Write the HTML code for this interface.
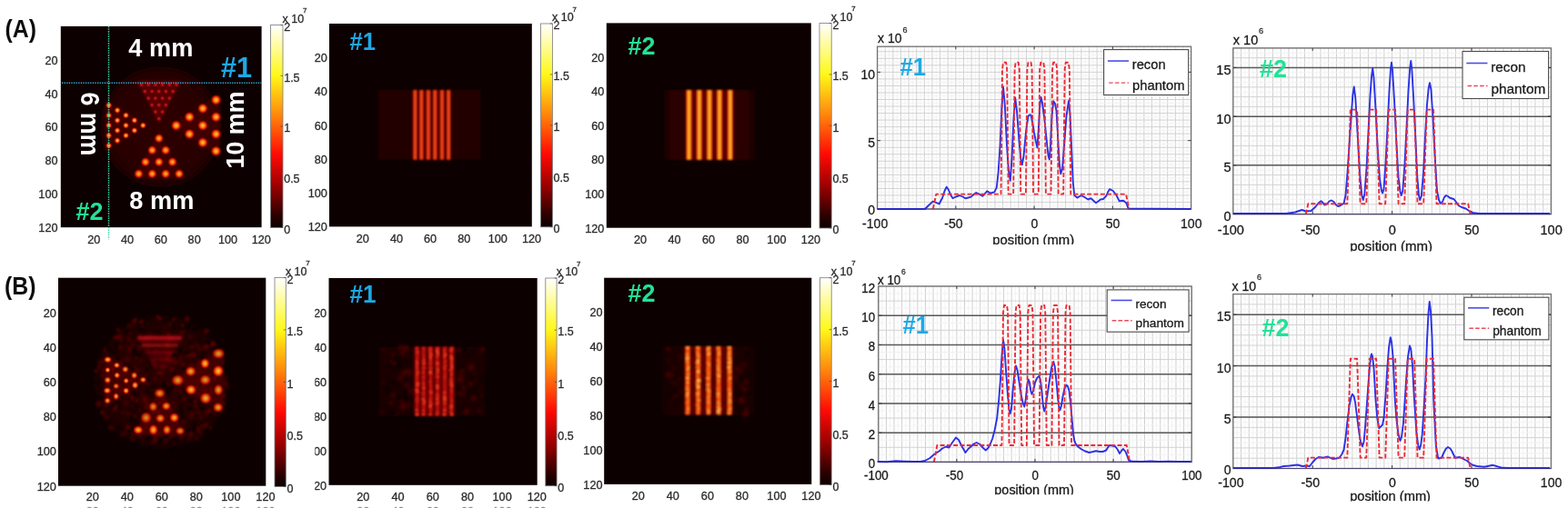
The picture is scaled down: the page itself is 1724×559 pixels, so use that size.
<!DOCTYPE html>
<html lang="en"><head><meta charset="utf-8"><title>Figure</title>
<style>
html,body{margin:0;padding:0;background:#ffffff;overflow:hidden}
svg{display:block;font-family:'Liberation Sans', sans-serif}
</style></head><body>
<svg width="1724" height="559" viewBox="0 0 1724 559">
<defs>
<linearGradient id="hot" x1="0" y1="1" x2="0" y2="0">
<stop offset="0" stop-color="#0b0000"/><stop offset="0.06" stop-color="#2c0000"/><stop offset="0.2" stop-color="#980000"/><stop offset="0.36" stop-color="#ff0a04"/><stop offset="0.56" stop-color="#ff8a0c"/><stop offset="0.75" stop-color="#fff818"/><stop offset="1" stop-color="#ffffff"/></linearGradient>
<radialGradient id="sp10"><stop offset="0" stop-color="#ffc43c" stop-opacity="1"/><stop offset="0.2" stop-color="#ffa624" stop-opacity="1"/><stop offset="0.42" stop-color="#fa5a0a" stop-opacity="1"/><stop offset="0.62" stop-color="#cc1c00" stop-opacity="0.95"/><stop offset="0.82" stop-color="#6c0000" stop-opacity="0.6"/><stop offset="1" stop-color="#300000" stop-opacity="0"/></radialGradient>
<radialGradient id="sp8"><stop offset="0" stop-color="#ffb836" stop-opacity="1"/><stop offset="0.2" stop-color="#ff941c" stop-opacity="1"/><stop offset="0.42" stop-color="#f44e08" stop-opacity="1"/><stop offset="0.62" stop-color="#c01800" stop-opacity="0.95"/><stop offset="0.82" stop-color="#640000" stop-opacity="0.6"/><stop offset="1" stop-color="#300000" stop-opacity="0"/></radialGradient>
<radialGradient id="sp6"><stop offset="0" stop-color="#ffcc78" stop-opacity="1"/><stop offset="0.28" stop-color="#ff8224" stop-opacity="1"/><stop offset="0.52" stop-color="#e03400" stop-opacity="0.95"/><stop offset="0.78" stop-color="#700000" stop-opacity="0.6"/><stop offset="1" stop-color="#300000" stop-opacity="0"/></radialGradient>
<radialGradient id="sp4"><stop offset="0" stop-color="#d81828" stop-opacity="0.95"/><stop offset="0.45" stop-color="#b00c1c" stop-opacity="0.8"/><stop offset="1" stop-color="#600000" stop-opacity="0"/></radialGradient>
<radialGradient id="disc"><stop offset="0" stop-color="#2e0000" stop-opacity="1"/><stop offset="0.8" stop-color="#280000" stop-opacity="1"/><stop offset="0.94" stop-color="#1e0000" stop-opacity="0.9"/><stop offset="1" stop-color="#100000" stop-opacity="0"/></radialGradient>
<radialGradient id="discB"><stop offset="0" stop-color="#2c0000" stop-opacity="1"/><stop offset="0.7" stop-color="#260000" stop-opacity="1"/><stop offset="0.92" stop-color="#1c0000" stop-opacity="0.9"/><stop offset="1" stop-color="#100000" stop-opacity="0"/></radialGradient>
<filter id="b1" x="-20%" y="-20%" width="140%" height="140%"><feGaussianBlur stdDeviation="0.8"/></filter>
<filter id="b2" x="-20%" y="-20%" width="140%" height="140%"><feGaussianBlur stdDeviation="1.4"/></filter>
<filter id="bt" x="-10%" y="-10%" width="120%" height="120%"><feGaussianBlur stdDeviation="0.45"/></filter>
<clipPath id="cl3463"><rect x="346.3" y="0" width="400" height="559"/></clipPath>
<clipPath id="pc1"><rect x="964.6" y="255.90" width="345.00" height="13.15"/></clipPath>
<clipPath id="pc2"><rect x="1355.8" y="263.30" width="349.60" height="13.15"/></clipPath>
<clipPath id="pc3"><rect x="965.8" y="531.10" width="344.40" height="13.15"/></clipPath>
<clipPath id="pc4"><rect x="1355.8" y="538.30" width="349.60" height="13.15"/></clipPath>
</defs>
<rect x="0" y="0" width="1724" height="559" fill="#ffffff"/>
<rect x="66.8" y="28.9" width="220.80" height="221.30" fill="#0d0000"/>
<rect x="297.5" y="27.6" width="13.50" height="222.80" fill="url(#hot)" stroke="#7a7a7a" stroke-width="0.8"/>
<g filter="url(#bt)">
<text x="63.50" y="70.66" font-size="12.70" fill="#2b2b2b" text-anchor="end" font-weight="normal" stroke="#2b2b2b" stroke-width="0.3" >20</text>
<text x="63.50" y="107.54" font-size="12.70" fill="#2b2b2b" text-anchor="end" font-weight="normal" stroke="#2b2b2b" stroke-width="0.3" >40</text>
<text x="63.50" y="144.43" font-size="12.70" fill="#2b2b2b" text-anchor="end" font-weight="normal" stroke="#2b2b2b" stroke-width="0.3" >60</text>
<text x="63.50" y="181.31" font-size="12.70" fill="#2b2b2b" text-anchor="end" font-weight="normal" stroke="#2b2b2b" stroke-width="0.3" >80</text>
<text x="63.50" y="218.19" font-size="12.70" fill="#2b2b2b" text-anchor="end" font-weight="normal" stroke="#2b2b2b" stroke-width="0.3" >100</text>
<text x="63.50" y="255.08" font-size="12.70" fill="#2b2b2b" text-anchor="end" font-weight="normal" stroke="#2b2b2b" stroke-width="0.3" >120</text>
<text x="103.28" y="268.40" font-size="12.70" fill="#2b2b2b" text-anchor="middle" font-weight="normal" stroke="#2b2b2b" stroke-width="0.3" >20</text>
<text x="140.08" y="268.40" font-size="12.70" fill="#2b2b2b" text-anchor="middle" font-weight="normal" stroke="#2b2b2b" stroke-width="0.3" >40</text>
<text x="176.88" y="268.40" font-size="12.70" fill="#2b2b2b" text-anchor="middle" font-weight="normal" stroke="#2b2b2b" stroke-width="0.3" >60</text>
<text x="213.68" y="268.40" font-size="12.70" fill="#2b2b2b" text-anchor="middle" font-weight="normal" stroke="#2b2b2b" stroke-width="0.3" >80</text>
<text x="250.48" y="268.40" font-size="12.70" fill="#2b2b2b" text-anchor="middle" font-weight="normal" stroke="#2b2b2b" stroke-width="0.3" >100</text>
<text x="287.28" y="268.40" font-size="12.70" fill="#2b2b2b" text-anchor="middle" font-weight="normal" stroke="#2b2b2b" stroke-width="0.3" >120</text>
<text x="312.20" y="256.60" font-size="12.50" fill="#2b2b2b" text-anchor="start" font-weight="normal" stroke="#2b2b2b" stroke-width="0.3" >0</text>
<line x1="308.5" x2="311" y1="250.40" y2="250.40" stroke="#444" stroke-width="0.7"/>
<text x="312.20" y="200.90" font-size="12.50" fill="#2b2b2b" text-anchor="start" font-weight="normal" stroke="#2b2b2b" stroke-width="0.3" >0.5</text>
<line x1="308.5" x2="311" y1="194.70" y2="194.70" stroke="#444" stroke-width="0.7"/>
<text x="312.20" y="145.20" font-size="12.50" fill="#2b2b2b" text-anchor="start" font-weight="normal" stroke="#2b2b2b" stroke-width="0.3" >1</text>
<line x1="308.5" x2="311" y1="139.00" y2="139.00" stroke="#444" stroke-width="0.7"/>
<text x="312.20" y="89.50" font-size="12.50" fill="#2b2b2b" text-anchor="start" font-weight="normal" stroke="#2b2b2b" stroke-width="0.3" >1.5</text>
<line x1="308.5" x2="311" y1="83.30" y2="83.30" stroke="#444" stroke-width="0.7"/>
<text x="312.20" y="33.80" font-size="12.50" fill="#2b2b2b" text-anchor="start" font-weight="normal" stroke="#2b2b2b" stroke-width="0.3" >2</text>
<line x1="308.5" x2="311" y1="27.60" y2="27.60" stroke="#444" stroke-width="0.7"/>
<text x="310.60" y="24.90" font-size="12.50" fill="#2b2b2b" text-anchor="start" font-weight="normal" stroke="#2b2b2b" stroke-width="0.3" >x 10</text>
<text x="333.00" y="14.10" font-size="8.00" fill="#2b2b2b" text-anchor="start" font-weight="normal" stroke="#2b2b2b" stroke-width="0.3" >7</text>
</g>
<g>
<circle cx="176.65" cy="139.73" r="67.16" fill="url(#disc)"/>
<circle cx="176.65" cy="139.73" r="65.15" fill="none" stroke="#4a0000" stroke-width="1.5" opacity="0.35"/>
<circle cx="176.65" cy="139.73" r="60.44" fill="none" stroke="#4a0000" stroke-width="1.5" opacity="0.2"/>
<polygon points="174.8,136.0 150.5,89.0 199.0,89.0" fill="#7a0000" opacity="0.55" filter="url(#b2)"/>
<g filter="url(#b2)">
<polygon points="161.2,138.0 115.7,109.8 115.7,166.2" fill="#5c0000" opacity="0.42"/>
<polygon points="188.8,138.1 242.6,103.0 242.6,173.2" fill="#5c0000" opacity="0.42"/>
<polygon points="174.8,147.2 145.6,196.2 203.9,196.2" fill="#5c0000" opacity="0.42"/>
</g>
<circle cx="157.25" cy="138.00" r="4.29" fill="url(#sp6)" opacity="1.00"/>
<circle cx="147.85" cy="132.45" r="4.29" fill="url(#sp6)" opacity="1.00"/>
<circle cx="147.85" cy="143.55" r="4.29" fill="url(#sp6)" opacity="1.00"/>
<circle cx="138.45" cy="126.90" r="4.29" fill="url(#sp6)" opacity="1.00"/>
<circle cx="138.45" cy="138.00" r="4.29" fill="url(#sp6)" opacity="1.00"/>
<circle cx="138.45" cy="149.10" r="4.29" fill="url(#sp6)" opacity="1.00"/>
<circle cx="129.05" cy="121.35" r="4.29" fill="url(#sp6)" opacity="1.00"/>
<circle cx="129.05" cy="132.45" r="4.29" fill="url(#sp6)" opacity="1.00"/>
<circle cx="129.05" cy="143.55" r="4.29" fill="url(#sp6)" opacity="1.00"/>
<circle cx="129.05" cy="154.65" r="4.29" fill="url(#sp6)" opacity="1.00"/>
<circle cx="119.65" cy="115.80" r="4.29" fill="url(#sp6)" opacity="1.00"/>
<circle cx="119.65" cy="126.90" r="4.29" fill="url(#sp6)" opacity="1.00"/>
<circle cx="119.65" cy="138.00" r="4.29" fill="url(#sp6)" opacity="1.00"/>
<circle cx="119.65" cy="149.10" r="4.29" fill="url(#sp6)" opacity="1.00"/>
<circle cx="119.65" cy="160.20" r="4.29" fill="url(#sp6)" opacity="1.00"/>
<circle cx="193.75" cy="138.10" r="6.68" fill="url(#sp10)" opacity="1.00"/>
<circle cx="208.35" cy="128.72" r="6.68" fill="url(#sp10)" opacity="1.00"/>
<circle cx="208.35" cy="147.47" r="6.68" fill="url(#sp10)" opacity="1.00"/>
<circle cx="222.95" cy="119.35" r="6.68" fill="url(#sp10)" opacity="1.00"/>
<circle cx="222.95" cy="138.10" r="6.68" fill="url(#sp10)" opacity="1.00"/>
<circle cx="222.95" cy="156.85" r="6.68" fill="url(#sp10)" opacity="1.00"/>
<circle cx="237.55" cy="109.97" r="6.68" fill="url(#sp10)" opacity="1.00"/>
<circle cx="237.55" cy="128.72" r="6.68" fill="url(#sp10)" opacity="1.00"/>
<circle cx="237.55" cy="147.47" r="6.68" fill="url(#sp10)" opacity="1.00"/>
<circle cx="237.55" cy="166.22" r="6.68" fill="url(#sp10)" opacity="1.00"/>
<circle cx="174.75" cy="152.25" r="6.08" fill="url(#sp8)" opacity="1.00"/>
<circle cx="167.35" cy="165.25" r="6.08" fill="url(#sp8)" opacity="1.00"/>
<circle cx="182.15" cy="165.25" r="6.08" fill="url(#sp8)" opacity="1.00"/>
<circle cx="159.95" cy="178.25" r="6.08" fill="url(#sp8)" opacity="1.00"/>
<circle cx="174.75" cy="178.25" r="6.08" fill="url(#sp8)" opacity="1.00"/>
<circle cx="189.55" cy="178.25" r="6.08" fill="url(#sp8)" opacity="1.00"/>
<circle cx="152.55" cy="191.25" r="6.08" fill="url(#sp8)" opacity="1.00"/>
<circle cx="167.35" cy="191.25" r="6.08" fill="url(#sp8)" opacity="1.00"/>
<circle cx="182.15" cy="191.25" r="6.08" fill="url(#sp8)" opacity="1.00"/>
<circle cx="196.95" cy="191.25" r="6.08" fill="url(#sp8)" opacity="1.00"/>
<circle cx="174.75" cy="130.60" r="3.19" fill="url(#sp4)" opacity="1.00"/>
<circle cx="170.90" cy="123.10" r="3.19" fill="url(#sp4)" opacity="1.00"/>
<circle cx="178.60" cy="123.10" r="3.19" fill="url(#sp4)" opacity="1.00"/>
<circle cx="167.05" cy="115.60" r="3.19" fill="url(#sp4)" opacity="1.00"/>
<circle cx="174.75" cy="115.60" r="3.19" fill="url(#sp4)" opacity="1.00"/>
<circle cx="182.45" cy="115.60" r="3.19" fill="url(#sp4)" opacity="1.00"/>
<circle cx="163.20" cy="108.10" r="3.19" fill="url(#sp4)" opacity="1.00"/>
<circle cx="170.90" cy="108.10" r="3.19" fill="url(#sp4)" opacity="1.00"/>
<circle cx="178.60" cy="108.10" r="3.19" fill="url(#sp4)" opacity="1.00"/>
<circle cx="186.30" cy="108.10" r="3.19" fill="url(#sp4)" opacity="1.00"/>
<circle cx="159.35" cy="100.60" r="3.19" fill="url(#sp4)" opacity="1.00"/>
<circle cx="167.05" cy="100.60" r="3.19" fill="url(#sp4)" opacity="1.00"/>
<circle cx="174.75" cy="100.60" r="3.19" fill="url(#sp4)" opacity="1.00"/>
<circle cx="182.45" cy="100.60" r="3.19" fill="url(#sp4)" opacity="1.00"/>
<circle cx="190.15" cy="100.60" r="3.19" fill="url(#sp4)" opacity="1.00"/>
<circle cx="155.50" cy="93.10" r="3.19" fill="url(#sp4)" opacity="1.00"/>
<circle cx="163.20" cy="93.10" r="3.19" fill="url(#sp4)" opacity="1.00"/>
<circle cx="170.90" cy="93.10" r="3.19" fill="url(#sp4)" opacity="1.00"/>
<circle cx="178.60" cy="93.10" r="3.19" fill="url(#sp4)" opacity="1.00"/>
<circle cx="186.30" cy="93.10" r="3.19" fill="url(#sp4)" opacity="1.00"/>
<circle cx="194.00" cy="93.10" r="3.19" fill="url(#sp4)" opacity="1.00"/>
</g>
<line x1="68" x2="287.6" y1="91.2" y2="91.2" stroke="#3cb9e8" stroke-width="1.4" stroke-dasharray="1.3 1.3" opacity="0.95"/>
<line x1="119.5" x2="119.5" y1="28.9" y2="263.5" stroke="#38e0ac" stroke-width="1.5" stroke-dasharray="1.6 1.0" opacity="0.9"/>
<g filter="url(#bt)">
<text x="176.85" y="62.20" font-size="27.50" fill="#ffffff" text-anchor="middle" font-weight="bold" textLength="71.00" lengthAdjust="spacingAndGlyphs" >4 mm</text>
<text x="177.80" y="230.00" font-size="27.50" fill="#ffffff" text-anchor="middle" font-weight="bold" textLength="71.00" lengthAdjust="spacingAndGlyphs" >8 mm</text>
<text x="88.80" y="136.40" font-size="29.00" fill="#ffffff" text-anchor="middle" font-weight="bold" textLength="70.00" lengthAdjust="spacingAndGlyphs" transform="rotate(90 88.80 136.40)">6 mm</text>
<text x="268.10" y="143.00" font-size="28.00" fill="#ffffff" text-anchor="middle" font-weight="bold" textLength="85.00" lengthAdjust="spacingAndGlyphs" transform="rotate(-90 268.10 143.00)">10 mm</text>
<text x="243.00" y="85.00" font-size="30.50" fill="#1fa9e6" text-anchor="start" font-weight="bold" textLength="34.00" lengthAdjust="spacingAndGlyphs" >#1</text>
<text x="83.50" y="242.30" font-size="28.50" fill="#20e296" text-anchor="start" font-weight="bold" textLength="30.00" lengthAdjust="spacingAndGlyphs" >#2</text>
<text x="5.50" y="40.80" font-size="27.50" fill="#111111" text-anchor="start" font-weight="bold" textLength="34.50" lengthAdjust="spacingAndGlyphs" >(A)</text>
</g>
<rect x="362" y="26" width="222.80" height="223.40" fill="#0d0000"/>
<rect x="594.6" y="26" width="12.80" height="223.80" fill="url(#hot)" stroke="#7a7a7a" stroke-width="0.8"/>
<g filter="url(#bt)">
<text x="359.80" y="68.10" font-size="12.70" fill="#2b2b2b" text-anchor="end" font-weight="normal" stroke="#2b2b2b" stroke-width="0.3" >20</text>
<text x="359.80" y="105.34" font-size="12.70" fill="#2b2b2b" text-anchor="end" font-weight="normal" stroke="#2b2b2b" stroke-width="0.3" >40</text>
<text x="359.80" y="142.57" font-size="12.70" fill="#2b2b2b" text-anchor="end" font-weight="normal" stroke="#2b2b2b" stroke-width="0.3" >60</text>
<text x="359.80" y="179.80" font-size="12.70" fill="#2b2b2b" text-anchor="end" font-weight="normal" stroke="#2b2b2b" stroke-width="0.3" >80</text>
<text x="359.80" y="217.04" font-size="12.70" fill="#2b2b2b" text-anchor="end" font-weight="normal" stroke="#2b2b2b" stroke-width="0.3" >100</text>
<text x="359.80" y="254.27" font-size="12.70" fill="#2b2b2b" text-anchor="end" font-weight="normal" stroke="#2b2b2b" stroke-width="0.3" >120</text>
<text x="398.81" y="266.90" font-size="12.70" fill="#2b2b2b" text-anchor="middle" font-weight="normal" stroke="#2b2b2b" stroke-width="0.3" >20</text>
<text x="435.94" y="266.90" font-size="12.70" fill="#2b2b2b" text-anchor="middle" font-weight="normal" stroke="#2b2b2b" stroke-width="0.3" >40</text>
<text x="473.07" y="266.90" font-size="12.70" fill="#2b2b2b" text-anchor="middle" font-weight="normal" stroke="#2b2b2b" stroke-width="0.3" >60</text>
<text x="510.20" y="266.90" font-size="12.70" fill="#2b2b2b" text-anchor="middle" font-weight="normal" stroke="#2b2b2b" stroke-width="0.3" >80</text>
<text x="547.34" y="266.90" font-size="12.70" fill="#2b2b2b" text-anchor="middle" font-weight="normal" stroke="#2b2b2b" stroke-width="0.3" >100</text>
<text x="584.47" y="266.90" font-size="12.70" fill="#2b2b2b" text-anchor="middle" font-weight="normal" stroke="#2b2b2b" stroke-width="0.3" >120</text>
<text x="608.60" y="256.00" font-size="12.50" fill="#2b2b2b" text-anchor="start" font-weight="normal" stroke="#2b2b2b" stroke-width="0.3" >0</text>
<line x1="604.9" x2="607.4" y1="249.80" y2="249.80" stroke="#444" stroke-width="0.7"/>
<text x="608.60" y="200.05" font-size="12.50" fill="#2b2b2b" text-anchor="start" font-weight="normal" stroke="#2b2b2b" stroke-width="0.3" >0.5</text>
<line x1="604.9" x2="607.4" y1="193.85" y2="193.85" stroke="#444" stroke-width="0.7"/>
<text x="608.60" y="144.10" font-size="12.50" fill="#2b2b2b" text-anchor="start" font-weight="normal" stroke="#2b2b2b" stroke-width="0.3" >1</text>
<line x1="604.9" x2="607.4" y1="137.90" y2="137.90" stroke="#444" stroke-width="0.7"/>
<text x="608.60" y="88.15" font-size="12.50" fill="#2b2b2b" text-anchor="start" font-weight="normal" stroke="#2b2b2b" stroke-width="0.3" >1.5</text>
<line x1="604.9" x2="607.4" y1="81.95" y2="81.95" stroke="#444" stroke-width="0.7"/>
<text x="608.60" y="32.20" font-size="12.50" fill="#2b2b2b" text-anchor="start" font-weight="normal" stroke="#2b2b2b" stroke-width="0.3" >2</text>
<line x1="604.9" x2="607.4" y1="26.00" y2="26.00" stroke="#444" stroke-width="0.7"/>
<text x="607.00" y="23.30" font-size="12.50" fill="#2b2b2b" text-anchor="start" font-weight="normal" stroke="#2b2b2b" stroke-width="0.3" >x 10</text>
<text x="629.40" y="12.50" font-size="8.00" fill="#2b2b2b" text-anchor="start" font-weight="normal" stroke="#2b2b2b" stroke-width="0.3" >7</text>
</g>
<rect x="416.00" y="99.10" width="112.30" height="76.60" fill="#230000" filter="url(#b1)"/>
<g filter="url(#b1)">
<rect x="453.00" y="99.10" width="43.60" height="76.60" fill="#600200"/>
<rect x="455.05" y="99.10" width="2.70" height="76.60" fill="#ff3414"/>
<rect x="455.80" y="99.10" width="1.20" height="76.60" fill="#ff5a24"/>
<rect x="462.05" y="99.10" width="2.70" height="76.60" fill="#ff3414"/>
<rect x="462.80" y="99.10" width="1.20" height="76.60" fill="#ff5a24"/>
<rect x="469.55" y="99.10" width="2.70" height="76.60" fill="#ff3414"/>
<rect x="470.30" y="99.10" width="1.20" height="76.60" fill="#ff5a24"/>
<rect x="476.95" y="99.10" width="2.70" height="76.60" fill="#ff3414"/>
<rect x="477.70" y="99.10" width="1.20" height="76.60" fill="#ff5a24"/>
<rect x="484.65" y="99.10" width="2.70" height="76.60" fill="#ff3414"/>
<rect x="485.40" y="99.10" width="1.20" height="76.60" fill="#ff5a24"/>
<rect x="491.85" y="99.10" width="2.70" height="76.60" fill="#ff3414"/>
<rect x="492.60" y="99.10" width="1.20" height="76.60" fill="#ff5a24"/>
</g>
<g filter="url(#bt)">
<text x="384.40" y="55.30" font-size="27.00" fill="#1fa9e6" text-anchor="start" font-weight="bold" textLength="28.50" lengthAdjust="spacingAndGlyphs" >#1</text>
</g>
<rect x="666.8" y="25.4" width="225.00" height="225.30" fill="#0d0000"/>
<rect x="901" y="25.6" width="13.20" height="225.40" fill="url(#hot)" stroke="#7a7a7a" stroke-width="0.8"/>
<g filter="url(#bt)">
<text x="664.40" y="67.81" font-size="12.70" fill="#2b2b2b" text-anchor="end" font-weight="normal" stroke="#2b2b2b" stroke-width="0.3" >20</text>
<text x="664.40" y="105.36" font-size="12.70" fill="#2b2b2b" text-anchor="end" font-weight="normal" stroke="#2b2b2b" stroke-width="0.3" >40</text>
<text x="664.40" y="142.91" font-size="12.70" fill="#2b2b2b" text-anchor="end" font-weight="normal" stroke="#2b2b2b" stroke-width="0.3" >60</text>
<text x="664.40" y="180.46" font-size="12.70" fill="#2b2b2b" text-anchor="end" font-weight="normal" stroke="#2b2b2b" stroke-width="0.3" >80</text>
<text x="664.40" y="218.01" font-size="12.70" fill="#2b2b2b" text-anchor="end" font-weight="normal" stroke="#2b2b2b" stroke-width="0.3" >100</text>
<text x="664.40" y="255.56" font-size="12.70" fill="#2b2b2b" text-anchor="end" font-weight="normal" stroke="#2b2b2b" stroke-width="0.3" >120</text>
<text x="703.96" y="267.70" font-size="12.70" fill="#2b2b2b" text-anchor="middle" font-weight="normal" stroke="#2b2b2b" stroke-width="0.3" >20</text>
<text x="741.46" y="267.70" font-size="12.70" fill="#2b2b2b" text-anchor="middle" font-weight="normal" stroke="#2b2b2b" stroke-width="0.3" >40</text>
<text x="778.96" y="267.70" font-size="12.70" fill="#2b2b2b" text-anchor="middle" font-weight="normal" stroke="#2b2b2b" stroke-width="0.3" >60</text>
<text x="816.46" y="267.70" font-size="12.70" fill="#2b2b2b" text-anchor="middle" font-weight="normal" stroke="#2b2b2b" stroke-width="0.3" >80</text>
<text x="853.96" y="267.70" font-size="12.70" fill="#2b2b2b" text-anchor="middle" font-weight="normal" stroke="#2b2b2b" stroke-width="0.3" >100</text>
<text x="891.46" y="267.70" font-size="12.70" fill="#2b2b2b" text-anchor="middle" font-weight="normal" stroke="#2b2b2b" stroke-width="0.3" >120</text>
<text x="915.40" y="257.20" font-size="12.50" fill="#2b2b2b" text-anchor="start" font-weight="normal" stroke="#2b2b2b" stroke-width="0.3" >0</text>
<line x1="911.7" x2="914.2" y1="251.00" y2="251.00" stroke="#444" stroke-width="0.7"/>
<text x="915.40" y="200.85" font-size="12.50" fill="#2b2b2b" text-anchor="start" font-weight="normal" stroke="#2b2b2b" stroke-width="0.3" >0.5</text>
<line x1="911.7" x2="914.2" y1="194.65" y2="194.65" stroke="#444" stroke-width="0.7"/>
<text x="915.40" y="144.50" font-size="12.50" fill="#2b2b2b" text-anchor="start" font-weight="normal" stroke="#2b2b2b" stroke-width="0.3" >1</text>
<line x1="911.7" x2="914.2" y1="138.30" y2="138.30" stroke="#444" stroke-width="0.7"/>
<text x="915.40" y="88.15" font-size="12.50" fill="#2b2b2b" text-anchor="start" font-weight="normal" stroke="#2b2b2b" stroke-width="0.3" >1.5</text>
<line x1="911.7" x2="914.2" y1="81.95" y2="81.95" stroke="#444" stroke-width="0.7"/>
<text x="915.40" y="31.80" font-size="12.50" fill="#2b2b2b" text-anchor="start" font-weight="normal" stroke="#2b2b2b" stroke-width="0.3" >2</text>
<line x1="911.7" x2="914.2" y1="25.60" y2="25.60" stroke="#444" stroke-width="0.7"/>
<text x="913.80" y="22.90" font-size="12.50" fill="#2b2b2b" text-anchor="start" font-weight="normal" stroke="#2b2b2b" stroke-width="0.3" >x 10</text>
<text x="936.20" y="12.10" font-size="8.00" fill="#2b2b2b" text-anchor="start" font-weight="normal" stroke="#2b2b2b" stroke-width="0.3" >7</text>
</g>
<rect x="729.80" y="99.10" width="100.20" height="76.60" fill="#1a0000" filter="url(#b1)"/>
<rect x="735.80" y="99.10" width="88.20" height="76.60" fill="#2a0000" filter="url(#b1)"/>
<g filter="url(#b1)">
<rect x="753.30" y="99.10" width="53.70" height="76.60" fill="#560000"/>
<rect x="754.00" y="99.10" width="7.00" height="76.60" fill="#900400"/>
<rect x="755.00" y="99.10" width="5.00" height="76.60" fill="#f03c04"/>
<rect x="755.90" y="99.10" width="3.20" height="76.60" fill="#ff7c10"/>
<rect x="756.65" y="99.10" width="1.70" height="76.60" fill="#ffc434"/>
<rect x="765.30" y="99.10" width="7.00" height="76.60" fill="#900400"/>
<rect x="766.30" y="99.10" width="5.00" height="76.60" fill="#f03c04"/>
<rect x="767.20" y="99.10" width="3.20" height="76.60" fill="#ff7c10"/>
<rect x="767.95" y="99.10" width="1.70" height="76.60" fill="#ffc434"/>
<rect x="776.50" y="99.10" width="7.00" height="76.60" fill="#900400"/>
<rect x="777.50" y="99.10" width="5.00" height="76.60" fill="#f03c04"/>
<rect x="778.40" y="99.10" width="3.20" height="76.60" fill="#ff7c10"/>
<rect x="779.15" y="99.10" width="1.70" height="76.60" fill="#ffc434"/>
<rect x="787.60" y="99.10" width="7.00" height="76.60" fill="#900400"/>
<rect x="788.60" y="99.10" width="5.00" height="76.60" fill="#f03c04"/>
<rect x="789.50" y="99.10" width="3.20" height="76.60" fill="#ff7c10"/>
<rect x="790.25" y="99.10" width="1.70" height="76.60" fill="#ffc434"/>
<rect x="799.30" y="99.10" width="7.00" height="76.60" fill="#900400"/>
<rect x="800.30" y="99.10" width="5.00" height="76.60" fill="#f03c04"/>
<rect x="801.20" y="99.10" width="3.20" height="76.60" fill="#ff7c10"/>
<rect x="801.95" y="99.10" width="1.70" height="76.60" fill="#ffc434"/>
</g>
<g filter="url(#bt)">
<text x="690.50" y="59.60" font-size="28.00" fill="#20e296" text-anchor="start" font-weight="bold" textLength="30.00" lengthAdjust="spacingAndGlyphs" >#2</text>
</g>
<rect x="64" y="305.7" width="228.30" height="229.00" fill="#0d0000"/>
<rect x="302" y="305.5" width="12.30" height="230.00" fill="url(#hot)" stroke="#7a7a7a" stroke-width="0.8"/>
<g filter="url(#bt)">
<text x="61.80" y="348.71" font-size="12.70" fill="#2b2b2b" text-anchor="end" font-weight="normal" stroke="#2b2b2b" stroke-width="0.3" >20</text>
<text x="61.80" y="386.88" font-size="12.70" fill="#2b2b2b" text-anchor="end" font-weight="normal" stroke="#2b2b2b" stroke-width="0.3" >40</text>
<text x="61.80" y="425.05" font-size="12.70" fill="#2b2b2b" text-anchor="end" font-weight="normal" stroke="#2b2b2b" stroke-width="0.3" >60</text>
<text x="61.80" y="463.21" font-size="12.70" fill="#2b2b2b" text-anchor="end" font-weight="normal" stroke="#2b2b2b" stroke-width="0.3" >80</text>
<text x="61.80" y="501.38" font-size="12.70" fill="#2b2b2b" text-anchor="end" font-weight="normal" stroke="#2b2b2b" stroke-width="0.3" >100</text>
<text x="61.80" y="539.55" font-size="12.70" fill="#2b2b2b" text-anchor="end" font-weight="normal" stroke="#2b2b2b" stroke-width="0.3" >120</text>
<text x="101.70" y="551.30" font-size="12.70" fill="#2b2b2b" text-anchor="middle" font-weight="normal" stroke="#2b2b2b" stroke-width="0.3" >20</text>
<text x="139.75" y="551.30" font-size="12.70" fill="#2b2b2b" text-anchor="middle" font-weight="normal" stroke="#2b2b2b" stroke-width="0.3" >40</text>
<text x="177.80" y="551.30" font-size="12.70" fill="#2b2b2b" text-anchor="middle" font-weight="normal" stroke="#2b2b2b" stroke-width="0.3" >60</text>
<text x="215.85" y="551.30" font-size="12.70" fill="#2b2b2b" text-anchor="middle" font-weight="normal" stroke="#2b2b2b" stroke-width="0.3" >80</text>
<text x="253.90" y="551.30" font-size="12.70" fill="#2b2b2b" text-anchor="middle" font-weight="normal" stroke="#2b2b2b" stroke-width="0.3" >100</text>
<text x="291.95" y="551.30" font-size="12.70" fill="#2b2b2b" text-anchor="middle" font-weight="normal" stroke="#2b2b2b" stroke-width="0.3" >120</text>
<text x="315.50" y="541.70" font-size="12.50" fill="#2b2b2b" text-anchor="start" font-weight="normal" stroke="#2b2b2b" stroke-width="0.3" >0</text>
<line x1="311.8" x2="314.3" y1="535.50" y2="535.50" stroke="#444" stroke-width="0.7"/>
<text x="315.50" y="484.20" font-size="12.50" fill="#2b2b2b" text-anchor="start" font-weight="normal" stroke="#2b2b2b" stroke-width="0.3" >0.5</text>
<line x1="311.8" x2="314.3" y1="478.00" y2="478.00" stroke="#444" stroke-width="0.7"/>
<text x="315.50" y="426.70" font-size="12.50" fill="#2b2b2b" text-anchor="start" font-weight="normal" stroke="#2b2b2b" stroke-width="0.3" >1</text>
<line x1="311.8" x2="314.3" y1="420.50" y2="420.50" stroke="#444" stroke-width="0.7"/>
<text x="315.50" y="369.20" font-size="12.50" fill="#2b2b2b" text-anchor="start" font-weight="normal" stroke="#2b2b2b" stroke-width="0.3" >1.5</text>
<line x1="311.8" x2="314.3" y1="363.00" y2="363.00" stroke="#444" stroke-width="0.7"/>
<text x="315.50" y="311.70" font-size="12.50" fill="#2b2b2b" text-anchor="start" font-weight="normal" stroke="#2b2b2b" stroke-width="0.3" >2</text>
<line x1="311.8" x2="314.3" y1="305.50" y2="305.50" stroke="#444" stroke-width="0.7"/>
<text x="313.90" y="302.80" font-size="12.50" fill="#2b2b2b" text-anchor="start" font-weight="normal" stroke="#2b2b2b" stroke-width="0.3" >x 10</text>
<text x="336.30" y="292.00" font-size="8.00" fill="#2b2b2b" text-anchor="start" font-weight="normal" stroke="#2b2b2b" stroke-width="0.3" >7</text>
</g>
<g>
<circle cx="177.58" cy="420.39" r="77.05" fill="url(#discB)"/>
<g filter="url(#b1)">
<circle cx="164.5" cy="446.6" r="2.5" fill="#0a0000" opacity="0.71"/>
<circle cx="165.5" cy="434.0" r="2.2" fill="#0a0000" opacity="0.67"/>
<circle cx="198.2" cy="430.1" r="2.0" fill="#600000" opacity="0.36"/>
<circle cx="187.6" cy="479.4" r="3.1" fill="#600000" opacity="0.48"/>
<circle cx="193.7" cy="418.0" r="2.9" fill="#0a0000" opacity="0.56"/>
<circle cx="208.5" cy="448.7" r="2.8" fill="#0a0000" opacity="0.73"/>
<circle cx="148.0" cy="385.1" r="2.3" fill="#0a0000" opacity="0.52"/>
<circle cx="194.6" cy="480.3" r="2.1" fill="#0a0000" opacity="0.73"/>
<circle cx="138.0" cy="432.4" r="2.8" fill="#600000" opacity="0.41"/>
<circle cx="128.7" cy="395.7" r="3.0" fill="#600000" opacity="0.43"/>
<circle cx="203.3" cy="417.2" r="2.0" fill="#600000" opacity="0.37"/>
<circle cx="162.7" cy="421.4" r="2.5" fill="#600000" opacity="0.56"/>
<circle cx="207.6" cy="390.6" r="2.6" fill="#600000" opacity="0.56"/>
<circle cx="111.0" cy="439.2" r="3.1" fill="#0a0000" opacity="0.77"/>
<circle cx="236.3" cy="443.9" r="2.5" fill="#600000" opacity="0.67"/>
<circle cx="167.5" cy="466.2" r="2.5" fill="#0a0000" opacity="0.68"/>
<circle cx="190.3" cy="442.9" r="1.3" fill="#600000" opacity="0.36"/>
<circle cx="178.3" cy="467.6" r="2.9" fill="#0a0000" opacity="0.68"/>
<circle cx="110.0" cy="398.7" r="2.8" fill="#600000" opacity="0.43"/>
<circle cx="138.6" cy="443.3" r="3.0" fill="#600000" opacity="0.37"/>
<circle cx="193.8" cy="452.9" r="1.7" fill="#0a0000" opacity="0.74"/>
<circle cx="177.2" cy="425.2" r="2.0" fill="#0a0000" opacity="0.73"/>
<circle cx="237.6" cy="402.2" r="2.2" fill="#600000" opacity="0.60"/>
<circle cx="245.1" cy="444.2" r="2.8" fill="#600000" opacity="0.66"/>
<circle cx="140.4" cy="450.2" r="1.4" fill="#600000" opacity="0.33"/>
<circle cx="209.0" cy="434.6" r="1.5" fill="#0a0000" opacity="0.52"/>
<circle cx="206.9" cy="420.4" r="1.4" fill="#0a0000" opacity="0.51"/>
<circle cx="219.2" cy="378.4" r="1.5" fill="#0a0000" opacity="0.64"/>
<circle cx="160.2" cy="440.3" r="2.9" fill="#600000" opacity="0.51"/>
<circle cx="155.6" cy="422.6" r="1.4" fill="#0a0000" opacity="0.61"/>
<circle cx="192.0" cy="393.7" r="1.2" fill="#600000" opacity="0.54"/>
<circle cx="211.2" cy="464.7" r="1.3" fill="#0a0000" opacity="0.89"/>
<circle cx="218.7" cy="372.7" r="1.7" fill="#0a0000" opacity="0.57"/>
<circle cx="185.2" cy="365.8" r="2.8" fill="#0a0000" opacity="0.59"/>
<circle cx="205.8" cy="351.0" r="2.9" fill="#600000" opacity="0.67"/>
<circle cx="175.3" cy="384.5" r="2.2" fill="#0a0000" opacity="0.51"/>
<circle cx="216.9" cy="427.4" r="1.7" fill="#600000" opacity="0.73"/>
<circle cx="108.5" cy="444.2" r="3.2" fill="#600000" opacity="0.46"/>
<circle cx="184.2" cy="455.7" r="1.6" fill="#0a0000" opacity="0.75"/>
<circle cx="233.7" cy="379.8" r="2.2" fill="#600000" opacity="0.66"/>
<circle cx="230.4" cy="451.6" r="3.0" fill="#600000" opacity="0.64"/>
<circle cx="146.0" cy="424.8" r="2.8" fill="#0a0000" opacity="0.82"/>
<circle cx="224.3" cy="412.0" r="2.0" fill="#600000" opacity="0.63"/>
<circle cx="190.5" cy="444.0" r="1.5" fill="#600000" opacity="0.66"/>
<circle cx="219.3" cy="474.9" r="3.2" fill="#600000" opacity="0.46"/>
<circle cx="151.5" cy="412.2" r="1.2" fill="#600000" opacity="0.59"/>
<circle cx="105.6" cy="408.3" r="2.1" fill="#600000" opacity="0.67"/>
<circle cx="186.8" cy="457.2" r="1.8" fill="#0a0000" opacity="0.73"/>
<circle cx="174.7" cy="469.2" r="1.5" fill="#600000" opacity="0.46"/>
<circle cx="121.9" cy="435.4" r="3.0" fill="#0a0000" opacity="0.87"/>
<circle cx="122.5" cy="419.8" r="2.2" fill="#0a0000" opacity="0.68"/>
<circle cx="179.5" cy="424.7" r="2.8" fill="#0a0000" opacity="0.69"/>
<circle cx="168.8" cy="364.7" r="1.9" fill="#0a0000" opacity="0.72"/>
<circle cx="182.8" cy="396.4" r="2.3" fill="#0a0000" opacity="0.61"/>
<circle cx="185.1" cy="367.1" r="2.3" fill="#600000" opacity="0.71"/>
<circle cx="122.2" cy="441.0" r="2.2" fill="#0a0000" opacity="0.78"/>
<circle cx="124.9" cy="436.7" r="2.2" fill="#600000" opacity="0.61"/>
<circle cx="229.9" cy="369.1" r="1.7" fill="#600000" opacity="0.72"/>
<circle cx="192.6" cy="396.8" r="1.4" fill="#0a0000" opacity="0.53"/>
<circle cx="178.8" cy="440.8" r="2.5" fill="#600000" opacity="0.70"/>
<circle cx="213.7" cy="473.1" r="2.5" fill="#0a0000" opacity="0.85"/>
<circle cx="212.2" cy="413.2" r="3.1" fill="#0a0000" opacity="0.69"/>
<circle cx="246.3" cy="416.0" r="1.5" fill="#0a0000" opacity="0.71"/>
<circle cx="159.8" cy="448.7" r="1.8" fill="#600000" opacity="0.31"/>
<circle cx="130.3" cy="403.7" r="1.2" fill="#0a0000" opacity="0.75"/>
<circle cx="158.5" cy="418.9" r="3.2" fill="#600000" opacity="0.74"/>
<circle cx="208.4" cy="444.2" r="1.3" fill="#600000" opacity="0.42"/>
<circle cx="211.3" cy="456.1" r="3.0" fill="#600000" opacity="0.42"/>
<circle cx="220.4" cy="478.8" r="2.3" fill="#600000" opacity="0.34"/>
<circle cx="236.2" cy="442.5" r="2.1" fill="#0a0000" opacity="0.88"/>
<circle cx="132.7" cy="369.8" r="1.4" fill="#600000" opacity="0.33"/>
<circle cx="210.7" cy="381.8" r="1.9" fill="#600000" opacity="0.72"/>
<circle cx="174.5" cy="447.4" r="2.3" fill="#0a0000" opacity="0.54"/>
<circle cx="186.5" cy="434.8" r="1.6" fill="#0a0000" opacity="0.62"/>
<circle cx="180.0" cy="379.8" r="2.2" fill="#0a0000" opacity="0.64"/>
<circle cx="215.1" cy="424.7" r="1.2" fill="#600000" opacity="0.55"/>
<circle cx="196.9" cy="468.7" r="3.1" fill="#0a0000" opacity="0.83"/>
<circle cx="129.2" cy="442.4" r="2.9" fill="#0a0000" opacity="0.70"/>
<circle cx="149.0" cy="351.2" r="1.9" fill="#600000" opacity="0.62"/>
<circle cx="146.0" cy="384.2" r="1.9" fill="#0a0000" opacity="0.55"/>
<circle cx="236.3" cy="448.3" r="1.7" fill="#0a0000" opacity="0.53"/>
<circle cx="215.8" cy="361.2" r="2.5" fill="#0a0000" opacity="0.60"/>
<circle cx="163.9" cy="469.7" r="1.5" fill="#0a0000" opacity="0.61"/>
<circle cx="249.9" cy="402.7" r="2.3" fill="#0a0000" opacity="0.89"/>
<circle cx="161.1" cy="462.4" r="1.2" fill="#0a0000" opacity="0.69"/>
<circle cx="143.7" cy="419.8" r="2.2" fill="#0a0000" opacity="0.61"/>
<circle cx="217.9" cy="445.9" r="1.3" fill="#0a0000" opacity="0.62"/>
<circle cx="183.8" cy="477.8" r="2.3" fill="#600000" opacity="0.60"/>
<circle cx="162.6" cy="351.2" r="2.0" fill="#0a0000" opacity="0.89"/>
<circle cx="215.5" cy="472.2" r="2.5" fill="#0a0000" opacity="0.83"/>
<circle cx="224.1" cy="382.8" r="2.7" fill="#600000" opacity="0.36"/>
<circle cx="124.5" cy="412.4" r="2.9" fill="#600000" opacity="0.67"/>
<circle cx="116.0" cy="384.4" r="2.6" fill="#600000" opacity="0.40"/>
<circle cx="204.6" cy="425.7" r="1.9" fill="#0a0000" opacity="0.83"/>
<circle cx="121.8" cy="398.9" r="2.5" fill="#600000" opacity="0.52"/>
<circle cx="245.0" cy="421.8" r="2.7" fill="#0a0000" opacity="0.71"/>
<circle cx="167.1" cy="404.1" r="2.7" fill="#0a0000" opacity="0.53"/>
<circle cx="171.3" cy="484.6" r="1.6" fill="#600000" opacity="0.74"/>
<circle cx="130.9" cy="422.2" r="2.2" fill="#600000" opacity="0.65"/>
<circle cx="132.7" cy="379.8" r="1.4" fill="#0a0000" opacity="0.60"/>
<circle cx="175.8" cy="378.8" r="2.3" fill="#0a0000" opacity="0.52"/>
<circle cx="170.3" cy="481.9" r="2.6" fill="#600000" opacity="0.43"/>
<circle cx="126.4" cy="415.1" r="2.1" fill="#0a0000" opacity="0.86"/>
<circle cx="201.0" cy="491.3" r="3.1" fill="#0a0000" opacity="0.68"/>
<circle cx="209.2" cy="353.1" r="2.1" fill="#0a0000" opacity="0.58"/>
<circle cx="210.2" cy="408.8" r="2.4" fill="#0a0000" opacity="0.71"/>
<circle cx="203.9" cy="412.3" r="2.8" fill="#0a0000" opacity="0.85"/>
<circle cx="167.1" cy="385.6" r="3.0" fill="#0a0000" opacity="0.51"/>
<circle cx="230.5" cy="421.6" r="2.1" fill="#0a0000" opacity="0.56"/>
<circle cx="153.9" cy="455.7" r="2.9" fill="#0a0000" opacity="0.80"/>
<circle cx="191.5" cy="398.2" r="3.1" fill="#600000" opacity="0.71"/>
<circle cx="166.2" cy="465.0" r="2.0" fill="#600000" opacity="0.57"/>
<circle cx="145.9" cy="458.3" r="1.8" fill="#0a0000" opacity="0.54"/>
<circle cx="198.1" cy="385.6" r="3.1" fill="#0a0000" opacity="0.61"/>
<circle cx="144.8" cy="418.1" r="1.9" fill="#600000" opacity="0.70"/>
<circle cx="200.3" cy="364.9" r="3.0" fill="#600000" opacity="0.55"/>
<circle cx="174.4" cy="403.9" r="2.7" fill="#0a0000" opacity="0.80"/>
<circle cx="152.7" cy="388.6" r="1.3" fill="#600000" opacity="0.36"/>
<circle cx="134.0" cy="428.1" r="1.8" fill="#600000" opacity="0.74"/>
<circle cx="173.7" cy="481.4" r="1.8" fill="#600000" opacity="0.48"/>
<circle cx="192.6" cy="446.7" r="1.6" fill="#600000" opacity="0.52"/>
<circle cx="191.0" cy="491.0" r="3.2" fill="#0a0000" opacity="0.56"/>
<circle cx="185.6" cy="441.7" r="1.9" fill="#0a0000" opacity="0.60"/>
<circle cx="174.6" cy="477.3" r="3.0" fill="#600000" opacity="0.49"/>
<circle cx="130.7" cy="448.5" r="2.0" fill="#0a0000" opacity="0.52"/>
<circle cx="164.8" cy="493.6" r="1.5" fill="#0a0000" opacity="0.75"/>
<circle cx="200.4" cy="393.8" r="1.7" fill="#0a0000" opacity="0.66"/>
<circle cx="108.1" cy="445.0" r="2.9" fill="#600000" opacity="0.31"/>
<circle cx="239.9" cy="433.2" r="3.0" fill="#0a0000" opacity="0.73"/>
<circle cx="224.8" cy="420.4" r="3.1" fill="#600000" opacity="0.68"/>
<circle cx="214.6" cy="413.9" r="1.4" fill="#0a0000" opacity="0.71"/>
<circle cx="147.3" cy="353.7" r="2.6" fill="#600000" opacity="0.64"/>
<circle cx="123.5" cy="435.2" r="1.3" fill="#600000" opacity="0.40"/>
<circle cx="230.7" cy="391.1" r="1.8" fill="#0a0000" opacity="0.60"/>
<circle cx="136.2" cy="372.7" r="1.4" fill="#0a0000" opacity="0.71"/>
<circle cx="136.8" cy="397.0" r="1.6" fill="#600000" opacity="0.30"/>
<circle cx="161.3" cy="469.0" r="3.1" fill="#600000" opacity="0.70"/>
<circle cx="141.4" cy="426.0" r="1.7" fill="#600000" opacity="0.62"/>
<circle cx="173.6" cy="430.8" r="2.2" fill="#600000" opacity="0.49"/>
<circle cx="174.8" cy="482.0" r="3.1" fill="#0a0000" opacity="0.51"/>
<circle cx="151.8" cy="462.1" r="2.6" fill="#0a0000" opacity="0.82"/>
<circle cx="173.9" cy="366.9" r="1.6" fill="#600000" opacity="0.44"/>
<circle cx="193.0" cy="387.6" r="1.6" fill="#600000" opacity="0.43"/>
<circle cx="228.3" cy="404.6" r="1.6" fill="#0a0000" opacity="0.67"/>
<circle cx="140.3" cy="357.0" r="1.5" fill="#0a0000" opacity="0.59"/>
<circle cx="205.6" cy="415.8" r="1.3" fill="#0a0000" opacity="0.66"/>
<circle cx="234.5" cy="378.0" r="2.7" fill="#600000" opacity="0.72"/>
<circle cx="162.0" cy="449.0" r="3.1" fill="#600000" opacity="0.31"/>
<circle cx="153.8" cy="380.5" r="1.9" fill="#0a0000" opacity="0.57"/>
<circle cx="217.5" cy="421.1" r="1.9" fill="#600000" opacity="0.36"/>
<circle cx="211.1" cy="412.7" r="1.9" fill="#600000" opacity="0.67"/>
<circle cx="162.3" cy="427.3" r="2.1" fill="#0a0000" opacity="0.87"/>
<circle cx="193.5" cy="463.1" r="3.0" fill="#0a0000" opacity="0.66"/>
<circle cx="202.6" cy="359.2" r="1.3" fill="#0a0000" opacity="0.53"/>
<circle cx="211.1" cy="402.0" r="2.7" fill="#600000" opacity="0.45"/>
<circle cx="167.3" cy="493.6" r="2.4" fill="#0a0000" opacity="0.79"/>
<circle cx="161.5" cy="456.6" r="1.2" fill="#600000" opacity="0.71"/>
<circle cx="128.7" cy="365.7" r="1.2" fill="#0a0000" opacity="0.69"/>
<circle cx="248.6" cy="400.6" r="2.0" fill="#0a0000" opacity="0.67"/>
<circle cx="104.9" cy="423.4" r="1.6" fill="#600000" opacity="0.63"/>
<circle cx="206.9" cy="360.8" r="2.4" fill="#0a0000" opacity="0.63"/>
<circle cx="134.4" cy="471.3" r="1.4" fill="#0a0000" opacity="0.80"/>
<circle cx="177.9" cy="439.6" r="1.3" fill="#600000" opacity="0.45"/>
<circle cx="248.0" cy="411.6" r="3.2" fill="#0a0000" opacity="0.53"/>
<circle cx="221.4" cy="450.7" r="2.6" fill="#0a0000" opacity="0.59"/>
<circle cx="126.0" cy="450.1" r="2.5" fill="#600000" opacity="0.68"/>
<circle cx="164.1" cy="397.8" r="2.9" fill="#0a0000" opacity="0.73"/>
<circle cx="132.3" cy="466.8" r="1.6" fill="#0a0000" opacity="0.60"/>
<circle cx="218.1" cy="478.7" r="2.4" fill="#0a0000" opacity="0.66"/>
<circle cx="231.3" cy="417.8" r="1.7" fill="#600000" opacity="0.59"/>
<circle cx="201.7" cy="419.0" r="2.1" fill="#600000" opacity="0.68"/>
<circle cx="190.6" cy="412.6" r="1.8" fill="#0a0000" opacity="0.58"/>
<circle cx="234.4" cy="410.6" r="3.1" fill="#0a0000" opacity="0.85"/>
<circle cx="141.0" cy="432.5" r="2.8" fill="#600000" opacity="0.35"/>
<circle cx="128.6" cy="386.6" r="1.6" fill="#0a0000" opacity="0.56"/>
<circle cx="188.5" cy="456.9" r="2.4" fill="#600000" opacity="0.39"/>
<circle cx="220.7" cy="423.5" r="2.6" fill="#0a0000" opacity="0.62"/>
<circle cx="197.0" cy="484.9" r="2.3" fill="#0a0000" opacity="0.54"/>
<circle cx="133.3" cy="454.6" r="2.5" fill="#0a0000" opacity="0.57"/>
<circle cx="161.3" cy="374.9" r="1.8" fill="#0a0000" opacity="0.88"/>
<circle cx="155.9" cy="472.9" r="1.9" fill="#0a0000" opacity="0.85"/>
<circle cx="223.1" cy="419.4" r="1.6" fill="#600000" opacity="0.39"/>
<circle cx="249.2" cy="423.0" r="2.0" fill="#600000" opacity="0.48"/>
<circle cx="215.6" cy="386.0" r="1.5" fill="#0a0000" opacity="0.72"/>
<circle cx="131.9" cy="364.7" r="1.4" fill="#600000" opacity="0.47"/>
<circle cx="148.7" cy="419.6" r="1.8" fill="#0a0000" opacity="0.87"/>
<circle cx="218.6" cy="453.8" r="2.8" fill="#600000" opacity="0.39"/>
<circle cx="228.9" cy="472.8" r="3.2" fill="#0a0000" opacity="0.52"/>
<circle cx="219.6" cy="399.3" r="3.0" fill="#600000" opacity="0.67"/>
<circle cx="213.3" cy="477.0" r="1.6" fill="#0a0000" opacity="0.84"/>
<circle cx="193.0" cy="392.0" r="1.6" fill="#0a0000" opacity="0.71"/>
<circle cx="157.9" cy="438.1" r="1.7" fill="#600000" opacity="0.70"/>
<circle cx="232.3" cy="434.9" r="2.7" fill="#0a0000" opacity="0.84"/>
<circle cx="220.8" cy="459.8" r="2.3" fill="#600000" opacity="0.44"/>
<circle cx="127.1" cy="448.1" r="2.1" fill="#600000" opacity="0.50"/>
<circle cx="166.9" cy="424.8" r="2.4" fill="#0a0000" opacity="0.59"/>
<circle cx="183.3" cy="353.9" r="2.1" fill="#0a0000" opacity="0.69"/>
<circle cx="198.7" cy="437.3" r="2.1" fill="#0a0000" opacity="0.68"/>
<circle cx="162.4" cy="419.4" r="2.5" fill="#0a0000" opacity="0.79"/>
<circle cx="186.9" cy="367.2" r="1.3" fill="#0a0000" opacity="0.65"/>
<circle cx="204.1" cy="411.9" r="2.9" fill="#600000" opacity="0.63"/>
<circle cx="190.8" cy="389.9" r="3.2" fill="#0a0000" opacity="0.88"/>
<circle cx="204.1" cy="404.9" r="2.8" fill="#600000" opacity="0.33"/>
<circle cx="138.7" cy="473.3" r="1.5" fill="#600000" opacity="0.42"/>
<circle cx="189.0" cy="394.2" r="2.2" fill="#600000" opacity="0.39"/>
<circle cx="173.2" cy="473.9" r="1.8" fill="#0a0000" opacity="0.57"/>
<circle cx="216.3" cy="482.4" r="2.6" fill="#600000" opacity="0.38"/>
<circle cx="183.1" cy="395.4" r="2.3" fill="#600000" opacity="0.46"/>
<circle cx="216.8" cy="380.1" r="2.4" fill="#600000" opacity="0.35"/>
<circle cx="237.4" cy="417.7" r="2.0" fill="#600000" opacity="0.42"/>
<circle cx="234.9" cy="417.0" r="1.9" fill="#600000" opacity="0.50"/>
<circle cx="206.5" cy="478.7" r="1.3" fill="#600000" opacity="0.41"/>
<circle cx="129.6" cy="362.9" r="2.4" fill="#600000" opacity="0.44"/>
<circle cx="191.5" cy="420.5" r="1.5" fill="#600000" opacity="0.49"/>
<circle cx="106.3" cy="414.7" r="1.5" fill="#0a0000" opacity="0.76"/>
<circle cx="181.4" cy="420.9" r="1.9" fill="#0a0000" opacity="0.64"/>
<circle cx="186.9" cy="477.3" r="2.4" fill="#0a0000" opacity="0.75"/>
<circle cx="150.2" cy="424.7" r="3.1" fill="#0a0000" opacity="0.56"/>
<circle cx="227.3" cy="454.5" r="2.9" fill="#600000" opacity="0.48"/>
<circle cx="176.9" cy="428.5" r="2.5" fill="#600000" opacity="0.46"/>
<circle cx="146.9" cy="380.5" r="3.1" fill="#600000" opacity="0.41"/>
<circle cx="190.6" cy="411.4" r="2.3" fill="#0a0000" opacity="0.60"/>
<circle cx="239.8" cy="444.3" r="1.2" fill="#600000" opacity="0.72"/>
<circle cx="198.7" cy="446.7" r="2.4" fill="#0a0000" opacity="0.76"/>
<circle cx="189.8" cy="391.3" r="1.8" fill="#0a0000" opacity="0.52"/>
<circle cx="228.9" cy="377.6" r="2.6" fill="#0a0000" opacity="0.84"/>
<circle cx="176.0" cy="368.9" r="2.7" fill="#0a0000" opacity="0.59"/>
<circle cx="206.3" cy="442.7" r="1.3" fill="#0a0000" opacity="0.80"/>
<circle cx="154.1" cy="355.1" r="2.6" fill="#0a0000" opacity="0.72"/>
<circle cx="115.9" cy="446.6" r="2.2" fill="#0a0000" opacity="0.76"/>
<circle cx="211.9" cy="412.7" r="3.0" fill="#0a0000" opacity="0.60"/>
<circle cx="183.3" cy="485.3" r="3.1" fill="#600000" opacity="0.45"/>
<circle cx="209.2" cy="390.8" r="1.7" fill="#600000" opacity="0.58"/>
<circle cx="155.9" cy="362.7" r="3.2" fill="#0a0000" opacity="0.84"/>
<circle cx="155.0" cy="354.2" r="2.1" fill="#600000" opacity="0.56"/>
<circle cx="165.2" cy="452.9" r="2.4" fill="#0a0000" opacity="0.86"/>
<circle cx="185.2" cy="430.2" r="1.4" fill="#600000" opacity="0.46"/>
<circle cx="185.6" cy="430.3" r="1.3" fill="#600000" opacity="0.59"/>
<circle cx="156.4" cy="359.1" r="1.3" fill="#600000" opacity="0.46"/>
<circle cx="205.7" cy="358.1" r="3.0" fill="#0a0000" opacity="0.85"/>
<circle cx="240.6" cy="382.8" r="1.4" fill="#0a0000" opacity="0.54"/>
<circle cx="245.5" cy="435.3" r="2.8" fill="#600000" opacity="0.67"/>
<circle cx="150.2" cy="390.6" r="1.4" fill="#0a0000" opacity="0.80"/>
<circle cx="189.5" cy="461.4" r="2.0" fill="#0a0000" opacity="0.60"/>
<circle cx="164.6" cy="482.9" r="1.9" fill="#0a0000" opacity="0.89"/>
<circle cx="107.9" cy="418.8" r="2.4" fill="#0a0000" opacity="0.67"/>
<circle cx="116.4" cy="446.2" r="1.9" fill="#600000" opacity="0.54"/>
<circle cx="192.2" cy="489.0" r="1.4" fill="#600000" opacity="0.38"/>
<circle cx="211.5" cy="420.7" r="2.7" fill="#600000" opacity="0.30"/>
<circle cx="124.7" cy="423.4" r="2.8" fill="#0a0000" opacity="0.70"/>
<circle cx="138.1" cy="476.8" r="1.7" fill="#600000" opacity="0.43"/>
<circle cx="191.5" cy="482.0" r="2.2" fill="#0a0000" opacity="0.75"/>
<circle cx="236.1" cy="453.0" r="2.6" fill="#600000" opacity="0.58"/>
<circle cx="148.1" cy="458.1" r="2.0" fill="#600000" opacity="0.34"/>
<circle cx="186.7" cy="412.7" r="1.6" fill="#0a0000" opacity="0.86"/>
<circle cx="131.1" cy="420.0" r="3.0" fill="#0a0000" opacity="0.68"/>
<circle cx="113.3" cy="407.5" r="2.7" fill="#600000" opacity="0.46"/>
<circle cx="163.8" cy="446.8" r="2.9" fill="#600000" opacity="0.63"/>
<circle cx="201.8" cy="464.2" r="2.7" fill="#600000" opacity="0.36"/>
<circle cx="108.6" cy="437.2" r="1.7" fill="#0a0000" opacity="0.62"/>
<circle cx="157.5" cy="354.0" r="1.5" fill="#0a0000" opacity="0.60"/>
<circle cx="152.3" cy="468.8" r="1.5" fill="#0a0000" opacity="0.58"/>
<circle cx="241.3" cy="410.4" r="1.4" fill="#600000" opacity="0.35"/>
<circle cx="121.6" cy="470.2" r="2.8" fill="#600000" opacity="0.50"/>
<circle cx="197.6" cy="477.3" r="1.4" fill="#0a0000" opacity="0.66"/>
<circle cx="224.2" cy="430.5" r="2.8" fill="#600000" opacity="0.53"/>
<circle cx="143.0" cy="382.4" r="1.5" fill="#600000" opacity="0.48"/>
<circle cx="173.5" cy="348.6" r="2.1" fill="#600000" opacity="0.64"/>
<circle cx="145.8" cy="437.6" r="2.6" fill="#600000" opacity="0.65"/>
<circle cx="156.1" cy="354.1" r="2.6" fill="#600000" opacity="0.50"/>
<circle cx="154.5" cy="475.6" r="1.4" fill="#0a0000" opacity="0.81"/>
<circle cx="163.8" cy="362.1" r="1.7" fill="#0a0000" opacity="0.68"/>
<circle cx="142.7" cy="387.0" r="2.6" fill="#600000" opacity="0.38"/>
<circle cx="140.0" cy="365.4" r="2.0" fill="#0a0000" opacity="0.89"/>
<circle cx="231.6" cy="433.6" r="1.5" fill="#600000" opacity="0.72"/>
<circle cx="153.7" cy="417.5" r="2.3" fill="#0a0000" opacity="0.79"/>
<circle cx="117.4" cy="415.8" r="2.9" fill="#0a0000" opacity="0.66"/>
<circle cx="210.4" cy="409.3" r="2.6" fill="#0a0000" opacity="0.81"/>
<circle cx="231.4" cy="472.5" r="1.9" fill="#0a0000" opacity="0.61"/>
<circle cx="170.5" cy="425.5" r="2.0" fill="#0a0000" opacity="0.78"/>
<circle cx="154.3" cy="451.5" r="1.6" fill="#600000" opacity="0.72"/>
<circle cx="142.8" cy="414.4" r="2.8" fill="#0a0000" opacity="0.58"/>
<circle cx="223.3" cy="468.7" r="2.8" fill="#600000" opacity="0.51"/>
<circle cx="144.4" cy="406.7" r="3.1" fill="#0a0000" opacity="0.76"/>
<circle cx="206.1" cy="358.4" r="2.1" fill="#0a0000" opacity="0.72"/>
<circle cx="226.3" cy="469.2" r="1.9" fill="#600000" opacity="0.42"/>
<circle cx="150.5" cy="447.1" r="2.1" fill="#0a0000" opacity="0.50"/>
<circle cx="170.5" cy="381.0" r="1.7" fill="#0a0000" opacity="0.69"/>
<circle cx="123.3" cy="446.6" r="2.5" fill="#0a0000" opacity="0.87"/>
<circle cx="188.6" cy="406.1" r="2.9" fill="#600000" opacity="0.65"/>
<circle cx="221.3" cy="473.5" r="2.5" fill="#0a0000" opacity="0.50"/>
<circle cx="235.9" cy="402.1" r="1.7" fill="#0a0000" opacity="0.56"/>
<circle cx="184.4" cy="486.6" r="1.9" fill="#0a0000" opacity="0.86"/>
<circle cx="185.6" cy="390.5" r="3.0" fill="#600000" opacity="0.65"/>
<circle cx="142.6" cy="358.2" r="2.8" fill="#600000" opacity="0.39"/>
<circle cx="158.2" cy="368.9" r="2.7" fill="#0a0000" opacity="0.85"/>
<circle cx="141.0" cy="407.2" r="1.7" fill="#0a0000" opacity="0.70"/>
<circle cx="225.7" cy="438.9" r="1.5" fill="#0a0000" opacity="0.70"/>
<circle cx="109.6" cy="403.1" r="1.2" fill="#600000" opacity="0.51"/>
<circle cx="120.7" cy="396.8" r="2.9" fill="#0a0000" opacity="0.67"/>
<circle cx="197.7" cy="415.3" r="2.5" fill="#600000" opacity="0.31"/>
<circle cx="129.4" cy="380.7" r="3.1" fill="#0a0000" opacity="0.89"/>
<circle cx="125.1" cy="416.9" r="3.0" fill="#0a0000" opacity="0.79"/>
<circle cx="146.6" cy="389.3" r="2.9" fill="#0a0000" opacity="0.69"/>
<circle cx="112.1" cy="409.8" r="1.6" fill="#0a0000" opacity="0.67"/>
<circle cx="112.8" cy="397.5" r="1.8" fill="#600000" opacity="0.48"/>
<circle cx="138.2" cy="419.5" r="2.2" fill="#600000" opacity="0.59"/>
<circle cx="188.9" cy="378.5" r="1.8" fill="#0a0000" opacity="0.73"/>
<circle cx="133.3" cy="370.3" r="1.3" fill="#600000" opacity="0.70"/>
<circle cx="161.4" cy="415.7" r="1.8" fill="#0a0000" opacity="0.58"/>
<circle cx="229.5" cy="392.5" r="2.5" fill="#600000" opacity="0.71"/>
<circle cx="132.3" cy="382.1" r="2.5" fill="#600000" opacity="0.57"/>
<circle cx="163.0" cy="388.8" r="2.5" fill="#0a0000" opacity="0.81"/>
<circle cx="203.4" cy="439.5" r="1.3" fill="#600000" opacity="0.71"/>
<circle cx="152.0" cy="382.3" r="2.8" fill="#600000" opacity="0.55"/>
<circle cx="175.5" cy="461.8" r="2.0" fill="#0a0000" opacity="0.67"/>
<circle cx="131.7" cy="363.7" r="1.3" fill="#600000" opacity="0.32"/>
<circle cx="227.5" cy="466.6" r="2.4" fill="#600000" opacity="0.50"/>
<circle cx="224.4" cy="424.6" r="2.4" fill="#600000" opacity="0.74"/>
<circle cx="129.7" cy="427.8" r="1.4" fill="#600000" opacity="0.40"/>
<circle cx="183.0" cy="428.1" r="1.2" fill="#600000" opacity="0.35"/>
<circle cx="199.5" cy="415.7" r="2.9" fill="#0a0000" opacity="0.51"/>
<circle cx="170.5" cy="383.9" r="2.7" fill="#0a0000" opacity="0.52"/>
<circle cx="187.2" cy="357.3" r="2.9" fill="#600000" opacity="0.34"/>
<circle cx="133.6" cy="374.4" r="2.1" fill="#600000" opacity="0.41"/>
<circle cx="239.9" cy="406.2" r="1.2" fill="#0a0000" opacity="0.76"/>
<circle cx="186.3" cy="401.0" r="1.8" fill="#600000" opacity="0.37"/>
<circle cx="211.4" cy="380.0" r="1.3" fill="#0a0000" opacity="0.73"/>
<circle cx="120.0" cy="443.7" r="1.5" fill="#600000" opacity="0.46"/>
<circle cx="140.8" cy="373.1" r="2.0" fill="#0a0000" opacity="0.81"/>
<circle cx="240.5" cy="397.7" r="2.3" fill="#0a0000" opacity="0.52"/>
<circle cx="240.1" cy="410.1" r="2.9" fill="#0a0000" opacity="0.74"/>
<circle cx="245.7" cy="410.7" r="2.4" fill="#0a0000" opacity="0.67"/>
<circle cx="212.9" cy="390.4" r="2.6" fill="#600000" opacity="0.70"/>
<circle cx="191.8" cy="382.8" r="1.2" fill="#0a0000" opacity="0.67"/>
<circle cx="119.2" cy="385.1" r="3.0" fill="#0a0000" opacity="0.83"/>
<circle cx="204.2" cy="355.3" r="2.3" fill="#0a0000" opacity="0.84"/>
<circle cx="199.5" cy="361.9" r="3.0" fill="#0a0000" opacity="0.53"/>
<circle cx="113.9" cy="398.1" r="1.6" fill="#600000" opacity="0.72"/>
<circle cx="183.5" cy="478.9" r="2.6" fill="#0a0000" opacity="0.58"/>
<circle cx="175.6" cy="485.8" r="2.8" fill="#0a0000" opacity="0.54"/>
<circle cx="200.7" cy="358.2" r="1.7" fill="#600000" opacity="0.70"/>
<circle cx="218.5" cy="384.3" r="2.2" fill="#600000" opacity="0.39"/>
<circle cx="189.0" cy="450.4" r="2.6" fill="#0a0000" opacity="0.73"/>
<circle cx="133.2" cy="451.6" r="1.5" fill="#0a0000" opacity="0.90"/>
<circle cx="160.3" cy="437.9" r="2.5" fill="#600000" opacity="0.37"/>
<circle cx="141.3" cy="395.0" r="2.2" fill="#0a0000" opacity="0.51"/>
<circle cx="247.7" cy="416.2" r="2.2" fill="#600000" opacity="0.42"/>
<circle cx="186.6" cy="371.9" r="3.1" fill="#600000" opacity="0.67"/>
<circle cx="214.6" cy="411.7" r="1.3" fill="#0a0000" opacity="0.57"/>
<circle cx="192.3" cy="428.9" r="2.3" fill="#600000" opacity="0.51"/>
<circle cx="245.7" cy="396.9" r="1.3" fill="#600000" opacity="0.48"/>
<circle cx="231.5" cy="471.0" r="1.7" fill="#600000" opacity="0.59"/>
<circle cx="237.1" cy="403.7" r="2.0" fill="#0a0000" opacity="0.56"/>
<circle cx="251.0" cy="404.3" r="1.6" fill="#0a0000" opacity="0.60"/>
<circle cx="134.7" cy="477.9" r="3.0" fill="#600000" opacity="0.32"/>
<circle cx="192.0" cy="358.4" r="2.5" fill="#600000" opacity="0.33"/>
<circle cx="217.9" cy="472.2" r="3.1" fill="#600000" opacity="0.43"/>
<circle cx="122.4" cy="384.7" r="1.4" fill="#0a0000" opacity="0.60"/>
<circle cx="214.8" cy="457.2" r="1.5" fill="#0a0000" opacity="0.56"/>
<circle cx="173.9" cy="412.8" r="2.6" fill="#0a0000" opacity="0.51"/>
<circle cx="209.4" cy="404.8" r="3.1" fill="#600000" opacity="0.70"/>
<circle cx="209.8" cy="459.3" r="1.4" fill="#600000" opacity="0.68"/>
<circle cx="142.4" cy="383.7" r="1.9" fill="#600000" opacity="0.51"/>
<circle cx="157.8" cy="399.8" r="1.6" fill="#0a0000" opacity="0.79"/>
<circle cx="150.5" cy="410.9" r="2.9" fill="#0a0000" opacity="0.66"/>
<circle cx="199.5" cy="453.0" r="2.9" fill="#0a0000" opacity="0.57"/>
<circle cx="135.1" cy="422.8" r="3.0" fill="#0a0000" opacity="0.89"/>
<circle cx="244.5" cy="445.4" r="2.5" fill="#0a0000" opacity="0.69"/>
<circle cx="168.9" cy="457.7" r="1.6" fill="#0a0000" opacity="0.90"/>
<circle cx="250.2" cy="419.5" r="1.4" fill="#0a0000" opacity="0.86"/>
<circle cx="237.8" cy="443.1" r="1.8" fill="#600000" opacity="0.31"/>
<circle cx="193.0" cy="379.1" r="1.5" fill="#0a0000" opacity="0.83"/>
<circle cx="145.5" cy="415.0" r="2.1" fill="#600000" opacity="0.40"/>
<circle cx="152.3" cy="408.2" r="1.6" fill="#600000" opacity="0.62"/>
<circle cx="184.6" cy="440.5" r="1.4" fill="#600000" opacity="0.52"/>
<circle cx="172.5" cy="454.3" r="2.4" fill="#600000" opacity="0.67"/>
<circle cx="148.1" cy="403.5" r="1.3" fill="#600000" opacity="0.48"/>
<circle cx="174.4" cy="402.9" r="2.8" fill="#0a0000" opacity="0.84"/>
<circle cx="212.5" cy="380.5" r="1.2" fill="#600000" opacity="0.51"/>
<circle cx="204.6" cy="392.3" r="1.6" fill="#600000" opacity="0.47"/>
<circle cx="201.4" cy="459.8" r="2.4" fill="#0a0000" opacity="0.71"/>
<circle cx="126.5" cy="438.5" r="1.4" fill="#600000" opacity="0.67"/>
<circle cx="206.0" cy="388.4" r="2.6" fill="#0a0000" opacity="0.80"/>
<circle cx="243.0" cy="446.9" r="3.1" fill="#0a0000" opacity="0.71"/>
<circle cx="123.2" cy="409.8" r="1.2" fill="#600000" opacity="0.40"/>
<circle cx="187.6" cy="442.4" r="1.7" fill="#600000" opacity="0.31"/>
<circle cx="229.5" cy="456.4" r="1.6" fill="#0a0000" opacity="0.74"/>
<circle cx="129.2" cy="395.1" r="2.6" fill="#0a0000" opacity="0.85"/>
<circle cx="174.3" cy="404.7" r="1.4" fill="#0a0000" opacity="0.70"/>
<circle cx="172.7" cy="446.3" r="2.0" fill="#0a0000" opacity="0.74"/>
<circle cx="196.2" cy="398.2" r="2.3" fill="#600000" opacity="0.37"/>
<circle cx="211.2" cy="355.5" r="2.0" fill="#0a0000" opacity="0.84"/>
<circle cx="130.7" cy="412.8" r="3.1" fill="#600000" opacity="0.45"/>
<circle cx="180.2" cy="464.0" r="2.1" fill="#600000" opacity="0.66"/>
<circle cx="235.8" cy="384.9" r="2.9" fill="#0a0000" opacity="0.71"/>
<circle cx="248.0" cy="401.3" r="1.7" fill="#0a0000" opacity="0.75"/>
<circle cx="141.3" cy="461.8" r="1.3" fill="#0a0000" opacity="0.70"/>
<circle cx="205.5" cy="424.1" r="3.1" fill="#600000" opacity="0.72"/>
<circle cx="132.1" cy="369.9" r="3.0" fill="#600000" opacity="0.32"/>
<circle cx="153.1" cy="390.2" r="2.6" fill="#0a0000" opacity="0.72"/>
<circle cx="230.5" cy="393.2" r="1.7" fill="#0a0000" opacity="0.67"/>
<circle cx="216.2" cy="408.1" r="1.8" fill="#600000" opacity="0.35"/>
<circle cx="116.3" cy="379.2" r="2.2" fill="#0a0000" opacity="0.69"/>
<circle cx="149.1" cy="414.3" r="1.4" fill="#0a0000" opacity="0.62"/>
<circle cx="143.8" cy="442.9" r="1.7" fill="#0a0000" opacity="0.72"/>
<circle cx="209.1" cy="370.5" r="2.3" fill="#600000" opacity="0.39"/>
<circle cx="164.9" cy="370.7" r="2.3" fill="#600000" opacity="0.51"/>
<circle cx="163.8" cy="454.9" r="1.6" fill="#0a0000" opacity="0.65"/>
<circle cx="170.5" cy="416.2" r="1.9" fill="#600000" opacity="0.41"/>
<circle cx="128.0" cy="401.9" r="1.8" fill="#600000" opacity="0.43"/>
<circle cx="181.7" cy="390.6" r="1.3" fill="#600000" opacity="0.50"/>
<circle cx="221.1" cy="438.3" r="2.1" fill="#600000" opacity="0.35"/>
<circle cx="189.1" cy="493.5" r="2.7" fill="#0a0000" opacity="0.63"/>
<circle cx="140.3" cy="470.0" r="2.4" fill="#600000" opacity="0.67"/>
<circle cx="113.1" cy="413.2" r="2.7" fill="#600000" opacity="0.51"/>
<circle cx="191.4" cy="358.4" r="3.0" fill="#0a0000" opacity="0.85"/>
<circle cx="243.6" cy="422.2" r="2.4" fill="#0a0000" opacity="0.89"/>
<circle cx="133.7" cy="399.1" r="2.8" fill="#600000" opacity="0.57"/>
<circle cx="140.7" cy="455.3" r="2.1" fill="#600000" opacity="0.43"/>
<circle cx="134.1" cy="456.1" r="2.0" fill="#0a0000" opacity="0.81"/>
<circle cx="208.8" cy="377.1" r="2.1" fill="#0a0000" opacity="0.62"/>
<circle cx="212.7" cy="465.6" r="2.4" fill="#0a0000" opacity="0.87"/>
<circle cx="146.5" cy="482.4" r="2.9" fill="#600000" opacity="0.39"/>
<circle cx="113.1" cy="452.5" r="1.2" fill="#0a0000" opacity="0.73"/>
<circle cx="105.2" cy="421.6" r="2.7" fill="#0a0000" opacity="0.90"/>
<circle cx="123.6" cy="414.4" r="2.6" fill="#0a0000" opacity="0.64"/>
<circle cx="140.5" cy="395.3" r="3.1" fill="#600000" opacity="0.54"/>
<circle cx="215.1" cy="447.3" r="2.0" fill="#600000" opacity="0.56"/>
<circle cx="231.6" cy="369.6" r="2.2" fill="#0a0000" opacity="0.75"/>
<circle cx="221.8" cy="419.3" r="2.3" fill="#600000" opacity="0.38"/>
<circle cx="146.6" cy="488.4" r="2.9" fill="#0a0000" opacity="0.54"/>
<circle cx="227.0" cy="381.8" r="2.8" fill="#600000" opacity="0.70"/>
<circle cx="151.3" cy="434.6" r="1.8" fill="#0a0000" opacity="0.70"/>
<circle cx="189.8" cy="450.2" r="2.5" fill="#600000" opacity="0.46"/>
<circle cx="237.8" cy="418.0" r="1.3" fill="#0a0000" opacity="0.82"/>
<circle cx="155.7" cy="479.2" r="1.2" fill="#0a0000" opacity="0.84"/>
<circle cx="124.7" cy="388.6" r="1.6" fill="#0a0000" opacity="0.72"/>
<circle cx="171.5" cy="480.8" r="2.3" fill="#600000" opacity="0.56"/>
<circle cx="155.3" cy="434.3" r="1.5" fill="#600000" opacity="0.35"/>
<circle cx="202.8" cy="438.7" r="2.2" fill="#600000" opacity="0.58"/>
<circle cx="184.1" cy="402.7" r="1.2" fill="#600000" opacity="0.45"/>
<circle cx="167.9" cy="376.5" r="1.5" fill="#0a0000" opacity="0.54"/>
<circle cx="225.0" cy="387.7" r="1.9" fill="#0a0000" opacity="0.65"/>
<circle cx="244.7" cy="444.4" r="2.4" fill="#600000" opacity="0.50"/>
<circle cx="150.1" cy="394.5" r="1.3" fill="#600000" opacity="0.68"/>
<circle cx="149.2" cy="486.1" r="2.8" fill="#0a0000" opacity="0.74"/>
<circle cx="229.1" cy="407.2" r="3.1" fill="#0a0000" opacity="0.66"/>
<circle cx="170.6" cy="385.6" r="1.8" fill="#600000" opacity="0.52"/>
<circle cx="187.5" cy="384.5" r="1.5" fill="#0a0000" opacity="0.57"/>
<circle cx="217.6" cy="413.2" r="2.3" fill="#0a0000" opacity="0.71"/>
<circle cx="141.5" cy="452.0" r="1.3" fill="#0a0000" opacity="0.83"/>
<circle cx="155.4" cy="450.5" r="1.6" fill="#0a0000" opacity="0.59"/>
<circle cx="237.6" cy="433.8" r="1.9" fill="#0a0000" opacity="0.78"/>
<circle cx="210.3" cy="441.9" r="2.9" fill="#0a0000" opacity="0.68"/>
<circle cx="212.5" cy="362.4" r="1.5" fill="#0a0000" opacity="0.79"/>
<circle cx="124.7" cy="472.0" r="1.6" fill="#600000" opacity="0.53"/>
<circle cx="184.8" cy="470.7" r="1.5" fill="#600000" opacity="0.42"/>
<circle cx="224.3" cy="386.3" r="1.9" fill="#0a0000" opacity="0.74"/>
<circle cx="194.0" cy="489.0" r="1.4" fill="#0a0000" opacity="0.72"/>
<circle cx="169.1" cy="486.2" r="2.0" fill="#600000" opacity="0.56"/>
<circle cx="160.0" cy="464.1" r="1.4" fill="#0a0000" opacity="0.84"/>
<circle cx="151.0" cy="475.8" r="1.4" fill="#600000" opacity="0.46"/>
<circle cx="136.4" cy="420.3" r="1.3" fill="#0a0000" opacity="0.59"/>
<circle cx="222.5" cy="465.9" r="1.8" fill="#0a0000" opacity="0.86"/>
<circle cx="188.7" cy="350.3" r="2.9" fill="#0a0000" opacity="0.61"/>
<circle cx="238.8" cy="431.9" r="2.5" fill="#0a0000" opacity="0.67"/>
<circle cx="143.4" cy="367.3" r="1.7" fill="#600000" opacity="0.46"/>
<circle cx="155.4" cy="397.1" r="1.4" fill="#600000" opacity="0.63"/>
<circle cx="174.0" cy="405.6" r="1.3" fill="#0a0000" opacity="0.58"/>
<circle cx="162.3" cy="464.4" r="1.3" fill="#0a0000" opacity="0.76"/>
<circle cx="207.2" cy="482.9" r="2.3" fill="#600000" opacity="0.41"/>
<circle cx="120.3" cy="445.2" r="1.9" fill="#0a0000" opacity="0.83"/>
<circle cx="184.3" cy="380.5" r="1.3" fill="#600000" opacity="0.57"/>
<circle cx="213.3" cy="431.3" r="1.4" fill="#600000" opacity="0.39"/>
<circle cx="233.7" cy="386.9" r="1.4" fill="#600000" opacity="0.48"/>
<circle cx="176.5" cy="351.7" r="1.8" fill="#0a0000" opacity="0.88"/>
<circle cx="112.9" cy="453.9" r="2.6" fill="#600000" opacity="0.67"/>
<circle cx="142.4" cy="383.8" r="1.3" fill="#600000" opacity="0.49"/>
<circle cx="105.0" cy="415.0" r="1.5" fill="#600000" opacity="0.32"/>
<circle cx="157.7" cy="355.6" r="1.7" fill="#0a0000" opacity="0.89"/>
<circle cx="141.4" cy="378.0" r="1.7" fill="#0a0000" opacity="0.64"/>
<circle cx="148.8" cy="438.3" r="1.8" fill="#0a0000" opacity="0.78"/>
<circle cx="159.9" cy="388.1" r="1.7" fill="#0a0000" opacity="0.68"/>
<circle cx="218.8" cy="402.8" r="1.8" fill="#600000" opacity="0.36"/>
<circle cx="137.4" cy="403.5" r="2.8" fill="#0a0000" opacity="0.80"/>
<circle cx="207.5" cy="474.3" r="2.4" fill="#0a0000" opacity="0.81"/>
<circle cx="190.1" cy="398.1" r="1.8" fill="#0a0000" opacity="0.58"/>
<circle cx="214.8" cy="435.2" r="1.6" fill="#600000" opacity="0.50"/>
<circle cx="210.2" cy="448.4" r="2.1" fill="#0a0000" opacity="0.57"/>
<circle cx="184.6" cy="423.8" r="3.2" fill="#600000" opacity="0.34"/>
<circle cx="162.3" cy="347.2" r="2.3" fill="#0a0000" opacity="0.70"/>
<circle cx="147.5" cy="433.6" r="2.3" fill="#0a0000" opacity="0.87"/>
<circle cx="140.8" cy="373.2" r="3.1" fill="#600000" opacity="0.41"/>
<circle cx="178.3" cy="448.5" r="1.3" fill="#600000" opacity="0.68"/>
<circle cx="168.2" cy="451.6" r="2.5" fill="#600000" opacity="0.72"/>
<circle cx="210.4" cy="478.7" r="2.9" fill="#600000" opacity="0.45"/>
<circle cx="205.0" cy="483.3" r="1.8" fill="#0a0000" opacity="0.72"/>
<circle cx="130.7" cy="470.8" r="1.7" fill="#0a0000" opacity="0.73"/>
<circle cx="130.2" cy="371.1" r="2.6" fill="#600000" opacity="0.73"/>
<circle cx="124.2" cy="422.3" r="1.5" fill="#0a0000" opacity="0.73"/>
<circle cx="232.4" cy="450.6" r="1.5" fill="#0a0000" opacity="0.89"/>
<circle cx="190.3" cy="428.5" r="2.1" fill="#0a0000" opacity="0.79"/>
<circle cx="246.8" cy="421.6" r="2.9" fill="#600000" opacity="0.49"/>
<circle cx="164.8" cy="480.5" r="2.2" fill="#0a0000" opacity="0.64"/>
<circle cx="120.5" cy="443.5" r="2.9" fill="#600000" opacity="0.37"/>
<circle cx="163.3" cy="468.6" r="2.3" fill="#0a0000" opacity="0.58"/>
<circle cx="214.6" cy="442.3" r="2.1" fill="#600000" opacity="0.71"/>
<circle cx="227.0" cy="364.6" r="3.1" fill="#600000" opacity="0.67"/>
<circle cx="235.3" cy="443.3" r="2.4" fill="#0a0000" opacity="0.73"/>
<circle cx="227.6" cy="405.1" r="2.5" fill="#0a0000" opacity="0.64"/>
<circle cx="187.0" cy="412.1" r="1.6" fill="#600000" opacity="0.50"/>
<circle cx="230.4" cy="451.7" r="1.9" fill="#600000" opacity="0.49"/>
<circle cx="121.8" cy="409.8" r="2.0" fill="#0a0000" opacity="0.57"/>
<circle cx="220.7" cy="384.8" r="1.4" fill="#600000" opacity="0.41"/>
<circle cx="223.1" cy="451.3" r="1.7" fill="#0a0000" opacity="0.72"/>
<circle cx="186.0" cy="476.9" r="1.4" fill="#0a0000" opacity="0.74"/>
<circle cx="219.8" cy="443.7" r="1.3" fill="#0a0000" opacity="0.85"/>
<circle cx="116.9" cy="400.5" r="2.7" fill="#0a0000" opacity="0.90"/>
<circle cx="173.3" cy="396.6" r="2.9" fill="#0a0000" opacity="0.57"/>
<circle cx="232.5" cy="406.3" r="2.7" fill="#0a0000" opacity="0.81"/>
<circle cx="212.0" cy="433.4" r="1.9" fill="#0a0000" opacity="0.74"/>
<circle cx="187.1" cy="460.6" r="2.6" fill="#0a0000" opacity="0.86"/>
<circle cx="126.5" cy="371.7" r="2.3" fill="#600000" opacity="0.69"/>
<circle cx="209.7" cy="477.1" r="1.9" fill="#600000" opacity="0.61"/>
<circle cx="189.7" cy="396.9" r="1.9" fill="#600000" opacity="0.73"/>
<circle cx="174.8" cy="404.9" r="2.4" fill="#0a0000" opacity="0.72"/>
<circle cx="185.9" cy="396.4" r="3.1" fill="#600000" opacity="0.41"/>
<circle cx="195.2" cy="467.7" r="2.9" fill="#600000" opacity="0.35"/>
<circle cx="202.5" cy="423.7" r="2.8" fill="#0a0000" opacity="0.72"/>
<circle cx="162.0" cy="481.0" r="2.0" fill="#0a0000" opacity="0.85"/>
<circle cx="116.7" cy="405.4" r="2.8" fill="#600000" opacity="0.31"/>
<circle cx="161.5" cy="444.9" r="2.2" fill="#600000" opacity="0.66"/>
<circle cx="209.0" cy="427.5" r="2.8" fill="#600000" opacity="0.48"/>
<circle cx="147.9" cy="424.9" r="2.9" fill="#0a0000" opacity="0.85"/>
<circle cx="161.6" cy="407.0" r="1.9" fill="#0a0000" opacity="0.86"/>
<circle cx="164.2" cy="412.0" r="1.5" fill="#0a0000" opacity="0.69"/>
<circle cx="136.0" cy="398.5" r="1.9" fill="#0a0000" opacity="0.73"/>
<circle cx="172.1" cy="429.7" r="2.1" fill="#600000" opacity="0.32"/>
<circle cx="215.2" cy="469.5" r="1.7" fill="#0a0000" opacity="0.70"/>
<circle cx="173.3" cy="477.2" r="2.3" fill="#600000" opacity="0.75"/>
<circle cx="232.8" cy="432.4" r="2.7" fill="#600000" opacity="0.65"/>
<circle cx="137.3" cy="375.7" r="1.9" fill="#0a0000" opacity="0.82"/>
<circle cx="228.6" cy="368.0" r="2.6" fill="#0a0000" opacity="0.81"/>
<circle cx="174.0" cy="366.6" r="2.5" fill="#0a0000" opacity="0.72"/>
<circle cx="162.2" cy="430.7" r="1.9" fill="#0a0000" opacity="0.90"/>
<circle cx="132.1" cy="425.7" r="1.7" fill="#0a0000" opacity="0.64"/>
<circle cx="181.8" cy="425.2" r="2.9" fill="#0a0000" opacity="0.68"/>
<circle cx="139.9" cy="403.0" r="1.5" fill="#0a0000" opacity="0.62"/>
<circle cx="154.5" cy="480.5" r="2.3" fill="#600000" opacity="0.45"/>
<circle cx="228.3" cy="393.0" r="1.4" fill="#0a0000" opacity="0.73"/>
<circle cx="222.6" cy="416.8" r="2.7" fill="#0a0000" opacity="0.85"/>
<circle cx="225.4" cy="442.1" r="3.0" fill="#0a0000" opacity="0.60"/>
<circle cx="207.9" cy="424.8" r="1.7" fill="#600000" opacity="0.40"/>
<circle cx="150.3" cy="440.3" r="2.4" fill="#600000" opacity="0.59"/>
<circle cx="198.8" cy="481.5" r="3.1" fill="#600000" opacity="0.34"/>
<circle cx="203.4" cy="354.6" r="1.9" fill="#0a0000" opacity="0.58"/>
<circle cx="108.8" cy="404.1" r="2.5" fill="#600000" opacity="0.40"/>
<circle cx="147.3" cy="478.3" r="2.5" fill="#0a0000" opacity="0.77"/>
<circle cx="168.1" cy="435.8" r="2.0" fill="#0a0000" opacity="0.75"/>
<circle cx="150.7" cy="466.2" r="2.4" fill="#0a0000" opacity="0.69"/>
<circle cx="249.9" cy="426.6" r="2.3" fill="#600000" opacity="0.33"/>
<circle cx="129.1" cy="378.2" r="1.9" fill="#0a0000" opacity="0.56"/>
<circle cx="218.9" cy="472.0" r="1.4" fill="#600000" opacity="0.49"/>
<circle cx="121.4" cy="406.5" r="2.3" fill="#600000" opacity="0.57"/>
<circle cx="146.0" cy="477.2" r="1.7" fill="#600000" opacity="0.64"/>
<circle cx="184.4" cy="379.0" r="2.7" fill="#600000" opacity="0.50"/>
<circle cx="167.9" cy="474.2" r="3.1" fill="#0a0000" opacity="0.50"/>
<circle cx="117.2" cy="429.7" r="2.7" fill="#0a0000" opacity="0.90"/>
<circle cx="186.6" cy="485.5" r="1.4" fill="#0a0000" opacity="0.55"/>
<circle cx="227.3" cy="440.1" r="2.3" fill="#0a0000" opacity="0.88"/>
<circle cx="158.2" cy="442.2" r="1.6" fill="#600000" opacity="0.71"/>
<circle cx="184.3" cy="431.3" r="2.8" fill="#0a0000" opacity="0.89"/>
<circle cx="117.4" cy="420.8" r="1.9" fill="#600000" opacity="0.51"/>
<circle cx="145.5" cy="484.6" r="1.4" fill="#600000" opacity="0.33"/>
<circle cx="148.4" cy="382.5" r="2.9" fill="#0a0000" opacity="0.73"/>
<circle cx="116.5" cy="459.2" r="3.1" fill="#600000" opacity="0.40"/>
<circle cx="177.1" cy="459.1" r="2.1" fill="#0a0000" opacity="0.58"/>
<circle cx="181.1" cy="360.0" r="1.8" fill="#600000" opacity="0.40"/>
<circle cx="150.5" cy="407.7" r="2.9" fill="#600000" opacity="0.42"/>
<circle cx="178.2" cy="351.9" r="1.8" fill="#0a0000" opacity="0.69"/>
<circle cx="201.1" cy="401.2" r="2.6" fill="#600000" opacity="0.50"/>
<circle cx="115.2" cy="386.5" r="1.6" fill="#600000" opacity="0.46"/>
<circle cx="190.6" cy="351.5" r="1.6" fill="#600000" opacity="0.75"/>
<circle cx="174.1" cy="431.7" r="1.4" fill="#600000" opacity="0.30"/>
<circle cx="202.5" cy="404.9" r="2.7" fill="#0a0000" opacity="0.57"/>
<circle cx="168.3" cy="399.7" r="1.9" fill="#600000" opacity="0.62"/>
<circle cx="232.7" cy="369.9" r="1.3" fill="#0a0000" opacity="0.82"/>
<circle cx="172.1" cy="406.7" r="2.2" fill="#0a0000" opacity="0.67"/>
<circle cx="186.0" cy="426.9" r="3.2" fill="#0a0000" opacity="0.85"/>
<circle cx="215.9" cy="456.6" r="1.5" fill="#0a0000" opacity="0.57"/>
<circle cx="166.1" cy="393.7" r="2.7" fill="#0a0000" opacity="0.54"/>
<circle cx="145.4" cy="462.7" r="3.0" fill="#0a0000" opacity="0.59"/>
<circle cx="247.1" cy="406.0" r="2.7" fill="#0a0000" opacity="0.57"/>
<circle cx="175.8" cy="440.1" r="1.3" fill="#0a0000" opacity="0.66"/>
<circle cx="135.0" cy="404.6" r="1.2" fill="#600000" opacity="0.59"/>
<circle cx="123.8" cy="405.1" r="2.6" fill="#600000" opacity="0.69"/>
<circle cx="168.0" cy="373.7" r="1.8" fill="#0a0000" opacity="0.89"/>
<circle cx="142.0" cy="450.9" r="2.0" fill="#0a0000" opacity="0.90"/>
<circle cx="236.4" cy="422.3" r="3.1" fill="#0a0000" opacity="0.74"/>
<circle cx="151.1" cy="446.3" r="1.6" fill="#0a0000" opacity="0.84"/>
<circle cx="192.8" cy="350.1" r="1.3" fill="#600000" opacity="0.45"/>
<circle cx="143.6" cy="375.9" r="1.8" fill="#600000" opacity="0.30"/>
<circle cx="175.9" cy="350.7" r="2.2" fill="#600000" opacity="0.75"/>
<circle cx="183.4" cy="480.0" r="2.7" fill="#0a0000" opacity="0.78"/>
<circle cx="134.6" cy="454.4" r="2.4" fill="#600000" opacity="0.44"/>
<circle cx="139.2" cy="380.1" r="1.6" fill="#600000" opacity="0.42"/>
<circle cx="221.2" cy="392.2" r="2.6" fill="#0a0000" opacity="0.69"/>
<circle cx="182.7" cy="448.4" r="3.1" fill="#0a0000" opacity="0.71"/>
<circle cx="110.5" cy="408.7" r="1.7" fill="#0a0000" opacity="0.83"/>
<circle cx="119.0" cy="435.3" r="2.9" fill="#600000" opacity="0.69"/>
<circle cx="222.5" cy="432.9" r="2.9" fill="#600000" opacity="0.36"/>
<circle cx="199.1" cy="451.6" r="1.4" fill="#0a0000" opacity="0.82"/>
<circle cx="127.2" cy="413.6" r="1.4" fill="#0a0000" opacity="0.90"/>
<circle cx="160.4" cy="372.8" r="2.2" fill="#600000" opacity="0.64"/>
<circle cx="214.2" cy="470.7" r="1.9" fill="#0a0000" opacity="0.60"/>
<circle cx="147.3" cy="452.3" r="2.0" fill="#0a0000" opacity="0.58"/>
<circle cx="161.2" cy="412.6" r="1.6" fill="#600000" opacity="0.42"/>
<circle cx="160.9" cy="453.6" r="2.9" fill="#0a0000" opacity="0.75"/>
<circle cx="199.0" cy="394.1" r="2.0" fill="#600000" opacity="0.58"/>
</g>
<polygon points="175.6,416.5 150.5,367.9 200.7,367.9" fill="#7a0000" opacity="0.28" filter="url(#b2)"/>
<g filter="url(#b2)">
<polygon points="161.7,418.6 114.5,389.4 114.5,447.8" fill="#5c0000" opacity="0.6"/>
<polygon points="190.1,418.7 245.7,382.4 245.7,455.0" fill="#5c0000" opacity="0.6"/>
<polygon points="175.6,428.2 145.4,478.9 205.8,478.9" fill="#5c0000" opacity="0.6"/>
</g>
<g filter="url(#b2)">
<line x1="173.0" y1="410.9" x2="178.2" y2="410.9"  stroke="#e81422" stroke-width="3.2" stroke-linecap="round" opacity="0.16"/>
<line x1="169.1" y1="403.2" x2="182.2" y2="403.2"  stroke="#e81422" stroke-width="3.5" stroke-linecap="round" opacity="0.19"/>
<line x1="165.1" y1="395.4" x2="186.2" y2="395.4"  stroke="#e81422" stroke-width="3.7" stroke-linecap="round" opacity="0.22"/>
<line x1="161.1" y1="387.7" x2="190.1" y2="387.7"  stroke="#e81422" stroke-width="4.0" stroke-linecap="round" opacity="0.25"/>
<line x1="157.1" y1="379.9" x2="194.1" y2="379.9"  stroke="#e81422" stroke-width="4.2" stroke-linecap="round" opacity="0.42"/>
<line x1="153.1" y1="372.1" x2="198.1" y2="372.1"  stroke="#e81422" stroke-width="4.5" stroke-linecap="round" opacity="0.62"/>
</g>
<ellipse cx="157.32" cy="417.87" rx="4.73" ry="4.25" fill="url(#sp6)" opacity="0.84"/>
<ellipse cx="147.66" cy="413.09" rx="4.66" ry="4.90" fill="url(#sp6)" opacity="0.84"/>
<ellipse cx="148.48" cy="423.85" rx="4.78" ry="5.15" fill="url(#sp6)" opacity="0.93"/>
<ellipse cx="137.81" cy="406.42" rx="4.79" ry="4.75" fill="url(#sp6)" opacity="0.84"/>
<ellipse cx="138.73" cy="419.01" rx="4.09" ry="4.09" fill="url(#sp6)" opacity="0.90"/>
<ellipse cx="138.63" cy="429.95" rx="4.44" ry="4.50" fill="url(#sp6)" opacity="0.97"/>
<ellipse cx="128.38" cy="401.89" rx="4.57" ry="4.13" fill="url(#sp6)" opacity="0.94"/>
<ellipse cx="128.65" cy="412.94" rx="4.30" ry="4.43" fill="url(#sp6)" opacity="0.94"/>
<ellipse cx="127.69" cy="424.85" rx="4.46" ry="4.26" fill="url(#sp6)" opacity="0.77"/>
<ellipse cx="127.65" cy="436.11" rx="4.18" ry="4.95" fill="url(#sp6)" opacity="0.87"/>
<ellipse cx="118.51" cy="395.76" rx="5.44" ry="4.52" fill="url(#sp6)" opacity="0.95"/>
<ellipse cx="118.38" cy="407.14" rx="3.87" ry="3.86" fill="url(#sp6)" opacity="1.00"/>
<ellipse cx="118.35" cy="418.20" rx="4.86" ry="4.75" fill="url(#sp6)" opacity="0.89"/>
<ellipse cx="117.93" cy="429.77" rx="5.30" ry="4.55" fill="url(#sp6)" opacity="0.95"/>
<ellipse cx="118.17" cy="440.85" rx="4.53" ry="4.56" fill="url(#sp6)" opacity="0.84"/>
<ellipse cx="195.40" cy="418.48" rx="8.28" ry="7.58" fill="url(#sp10)" opacity="0.80"/>
<ellipse cx="209.64" cy="408.70" rx="7.23" ry="6.79" fill="url(#sp10)" opacity="0.85"/>
<ellipse cx="210.00" cy="428.87" rx="7.31" ry="6.95" fill="url(#sp10)" opacity="0.93"/>
<ellipse cx="225.38" cy="399.99" rx="6.20" ry="6.88" fill="url(#sp10)" opacity="0.97"/>
<ellipse cx="225.68" cy="417.98" rx="7.74" ry="6.94" fill="url(#sp10)" opacity="0.77"/>
<ellipse cx="226.13" cy="438.20" rx="7.81" ry="7.81" fill="url(#sp10)" opacity="0.87"/>
<ellipse cx="240.22" cy="389.13" rx="8.33" ry="6.96" fill="url(#sp10)" opacity="0.79"/>
<ellipse cx="239.91" cy="408.35" rx="7.29" ry="7.76" fill="url(#sp10)" opacity="0.99"/>
<ellipse cx="240.16" cy="429.05" rx="6.49" ry="7.69" fill="url(#sp10)" opacity="0.79"/>
<ellipse cx="239.82" cy="448.34" rx="6.93" ry="6.48" fill="url(#sp10)" opacity="0.81"/>
<ellipse cx="175.71" cy="432.79" rx="7.55" ry="6.32" fill="url(#sp8)" opacity="0.83"/>
<ellipse cx="168.44" cy="447.56" rx="6.11" ry="6.53" fill="url(#sp8)" opacity="0.76"/>
<ellipse cx="182.83" cy="446.87" rx="6.29" ry="5.83" fill="url(#sp8)" opacity="0.87"/>
<ellipse cx="160.60" cy="459.63" rx="7.58" ry="7.71" fill="url(#sp8)" opacity="0.78"/>
<ellipse cx="176.32" cy="460.29" rx="6.58" ry="6.17" fill="url(#sp8)" opacity="0.84"/>
<ellipse cx="191.61" cy="459.60" rx="6.58" ry="6.48" fill="url(#sp8)" opacity="0.97"/>
<ellipse cx="152.00" cy="473.12" rx="6.70" ry="5.72" fill="url(#sp8)" opacity="0.97"/>
<ellipse cx="168.64" cy="472.95" rx="6.30" ry="7.30" fill="url(#sp8)" opacity="0.99"/>
<ellipse cx="183.52" cy="472.98" rx="5.83" ry="6.62" fill="url(#sp8)" opacity="0.86"/>
<ellipse cx="198.06" cy="474.16" rx="6.28" ry="5.55" fill="url(#sp8)" opacity="0.77"/>
</g>
<g filter="url(#bt)">
<text x="5.00" y="323.80" font-size="27.00" fill="#111111" text-anchor="start" font-weight="bold" textLength="34.50" lengthAdjust="spacingAndGlyphs" >(B)</text>
</g>
<rect x="361.5" y="306" width="229.20" height="227.80" fill="#0d0000"/>
<rect x="599.8" y="306" width="12.30" height="228.70" fill="url(#hot)" stroke="#7a7a7a" stroke-width="0.8"/>
<g filter="url(#bt)">
<g clip-path="url(#cl3463)">
<text x="359.00" y="348.82" font-size="12.70" fill="#2b2b2b" text-anchor="end" font-weight="normal" stroke="#2b2b2b" stroke-width="0.3" >20</text>
<text x="359.00" y="386.78" font-size="12.70" fill="#2b2b2b" text-anchor="end" font-weight="normal" stroke="#2b2b2b" stroke-width="0.3" >40</text>
<text x="359.00" y="424.75" font-size="12.70" fill="#2b2b2b" text-anchor="end" font-weight="normal" stroke="#2b2b2b" stroke-width="0.3" >60</text>
<text x="359.00" y="462.72" font-size="12.70" fill="#2b2b2b" text-anchor="end" font-weight="normal" stroke="#2b2b2b" stroke-width="0.3" >80</text>
<text x="359.00" y="500.68" font-size="12.70" fill="#2b2b2b" text-anchor="end" font-weight="normal" stroke="#2b2b2b" stroke-width="0.3" >100</text>
<text x="359.00" y="538.65" font-size="12.70" fill="#2b2b2b" text-anchor="end" font-weight="normal" stroke="#2b2b2b" stroke-width="0.3" >120</text>
</g>
<text x="399.35" y="551.30" font-size="12.70" fill="#2b2b2b" text-anchor="middle" font-weight="normal" stroke="#2b2b2b" stroke-width="0.3" >20</text>
<text x="437.55" y="551.30" font-size="12.70" fill="#2b2b2b" text-anchor="middle" font-weight="normal" stroke="#2b2b2b" stroke-width="0.3" >40</text>
<text x="475.75" y="551.30" font-size="12.70" fill="#2b2b2b" text-anchor="middle" font-weight="normal" stroke="#2b2b2b" stroke-width="0.3" >60</text>
<text x="513.95" y="551.30" font-size="12.70" fill="#2b2b2b" text-anchor="middle" font-weight="normal" stroke="#2b2b2b" stroke-width="0.3" >80</text>
<text x="552.15" y="551.30" font-size="12.70" fill="#2b2b2b" text-anchor="middle" font-weight="normal" stroke="#2b2b2b" stroke-width="0.3" >100</text>
<text x="590.35" y="551.30" font-size="12.70" fill="#2b2b2b" text-anchor="middle" font-weight="normal" stroke="#2b2b2b" stroke-width="0.3" >120</text>
<text x="613.30" y="540.90" font-size="12.50" fill="#2b2b2b" text-anchor="start" font-weight="normal" stroke="#2b2b2b" stroke-width="0.3" >0</text>
<line x1="609.6" x2="612.1" y1="534.70" y2="534.70" stroke="#444" stroke-width="0.7"/>
<text x="613.30" y="483.73" font-size="12.50" fill="#2b2b2b" text-anchor="start" font-weight="normal" stroke="#2b2b2b" stroke-width="0.3" >0.5</text>
<line x1="609.6" x2="612.1" y1="477.53" y2="477.53" stroke="#444" stroke-width="0.7"/>
<text x="613.30" y="426.55" font-size="12.50" fill="#2b2b2b" text-anchor="start" font-weight="normal" stroke="#2b2b2b" stroke-width="0.3" >1</text>
<line x1="609.6" x2="612.1" y1="420.35" y2="420.35" stroke="#444" stroke-width="0.7"/>
<text x="613.30" y="369.38" font-size="12.50" fill="#2b2b2b" text-anchor="start" font-weight="normal" stroke="#2b2b2b" stroke-width="0.3" >1.5</text>
<line x1="609.6" x2="612.1" y1="363.18" y2="363.18" stroke="#444" stroke-width="0.7"/>
<text x="613.30" y="312.20" font-size="12.50" fill="#2b2b2b" text-anchor="start" font-weight="normal" stroke="#2b2b2b" stroke-width="0.3" >2</text>
<line x1="609.6" x2="612.1" y1="306.00" y2="306.00" stroke="#444" stroke-width="0.7"/>
<text x="611.70" y="303.30" font-size="12.50" fill="#2b2b2b" text-anchor="start" font-weight="normal" stroke="#2b2b2b" stroke-width="0.3" >x 10</text>
<text x="634.10" y="292.50" font-size="8.00" fill="#2b2b2b" text-anchor="start" font-weight="normal" stroke="#2b2b2b" stroke-width="0.3" >7</text>
</g>
<rect x="417.05" y="381.49" width="115.53" height="76.12" fill="#1a0000" filter="url(#b1)"/>
<g filter="url(#b2)">
<circle cx="420.9" cy="420.6" r="1.7" fill="#480004" opacity="0.47"/>
<circle cx="436.0" cy="394.4" r="3.4" fill="#0a0000" opacity="0.84"/>
<circle cx="518.0" cy="418.0" r="1.8" fill="#0a0000" opacity="0.85"/>
<circle cx="430.6" cy="419.3" r="2.6" fill="#0a0000" opacity="0.69"/>
<circle cx="436.0" cy="422.2" r="2.5" fill="#0a0000" opacity="0.58"/>
<circle cx="431.7" cy="399.7" r="3.2" fill="#480004" opacity="0.85"/>
<circle cx="418.8" cy="453.3" r="2.5" fill="#480004" opacity="0.69"/>
<circle cx="503.7" cy="393.2" r="2.0" fill="#0a0000" opacity="0.66"/>
<circle cx="519.9" cy="387.9" r="2.7" fill="#0a0000" opacity="0.74"/>
<circle cx="507.6" cy="435.6" r="1.6" fill="#0a0000" opacity="0.74"/>
<circle cx="530.6" cy="384.6" r="2.7" fill="#480004" opacity="0.81"/>
<circle cx="418.3" cy="453.1" r="2.3" fill="#0a0000" opacity="0.54"/>
<circle cx="445.3" cy="437.3" r="2.9" fill="#0a0000" opacity="0.64"/>
<circle cx="433.3" cy="396.6" r="1.9" fill="#0a0000" opacity="0.89"/>
<circle cx="532.3" cy="441.7" r="2.5" fill="#0a0000" opacity="0.81"/>
<circle cx="522.0" cy="438.7" r="2.8" fill="#0a0000" opacity="0.75"/>
<circle cx="514.8" cy="441.4" r="1.7" fill="#480004" opacity="0.57"/>
<circle cx="435.8" cy="455.0" r="2.8" fill="#480004" opacity="0.47"/>
<circle cx="512.8" cy="452.8" r="3.3" fill="#480004" opacity="0.82"/>
<circle cx="509.7" cy="426.4" r="2.4" fill="#480004" opacity="0.79"/>
<circle cx="517.7" cy="404.2" r="3.4" fill="#480004" opacity="0.87"/>
<circle cx="430.4" cy="455.2" r="3.1" fill="#0a0000" opacity="0.84"/>
<circle cx="443.9" cy="396.6" r="2.4" fill="#0a0000" opacity="0.70"/>
<circle cx="522.0" cy="433.7" r="2.9" fill="#0a0000" opacity="0.81"/>
<circle cx="508.7" cy="433.5" r="3.4" fill="#480004" opacity="0.60"/>
<circle cx="427.1" cy="431.2" r="3.2" fill="#0a0000" opacity="0.74"/>
<circle cx="513.7" cy="441.8" r="1.5" fill="#0a0000" opacity="0.51"/>
<circle cx="429.8" cy="443.3" r="2.3" fill="#480004" opacity="0.63"/>
<circle cx="427.2" cy="402.1" r="2.9" fill="#0a0000" opacity="0.76"/>
<circle cx="510.3" cy="390.7" r="2.9" fill="#0a0000" opacity="0.83"/>
<circle cx="438.3" cy="402.2" r="3.4" fill="#0a0000" opacity="0.59"/>
<circle cx="519.9" cy="427.9" r="3.3" fill="#0a0000" opacity="0.70"/>
<circle cx="527.5" cy="420.1" r="3.5" fill="#0a0000" opacity="0.83"/>
<circle cx="435.8" cy="421.6" r="1.5" fill="#0a0000" opacity="0.88"/>
<circle cx="446.0" cy="408.3" r="1.7" fill="#480004" opacity="0.83"/>
<circle cx="524.3" cy="449.5" r="2.8" fill="#0a0000" opacity="0.75"/>
<circle cx="521.9" cy="419.4" r="2.2" fill="#480004" opacity="0.43"/>
<circle cx="513.5" cy="433.5" r="2.6" fill="#0a0000" opacity="0.80"/>
<circle cx="520.0" cy="437.0" r="3.0" fill="#0a0000" opacity="0.63"/>
<circle cx="432.9" cy="454.0" r="3.3" fill="#0a0000" opacity="0.74"/>
<circle cx="505.1" cy="403.7" r="2.6" fill="#0a0000" opacity="0.89"/>
<circle cx="528.3" cy="435.5" r="2.9" fill="#0a0000" opacity="0.56"/>
<circle cx="508.7" cy="407.9" r="1.8" fill="#480004" opacity="0.84"/>
<circle cx="435.8" cy="437.7" r="1.8" fill="#0a0000" opacity="0.52"/>
<circle cx="451.4" cy="410.6" r="3.4" fill="#480004" opacity="0.49"/>
<circle cx="452.8" cy="453.3" r="1.9" fill="#0a0000" opacity="0.68"/>
<circle cx="429.6" cy="401.3" r="2.3" fill="#0a0000" opacity="0.89"/>
<circle cx="447.9" cy="397.0" r="3.3" fill="#0a0000" opacity="0.83"/>
<circle cx="504.5" cy="417.3" r="2.6" fill="#480004" opacity="0.78"/>
<circle cx="448.9" cy="409.1" r="3.3" fill="#480004" opacity="0.54"/>
<circle cx="506.2" cy="384.6" r="3.2" fill="#480004" opacity="0.58"/>
<circle cx="525.6" cy="401.7" r="2.0" fill="#0a0000" opacity="0.72"/>
<circle cx="504.1" cy="433.1" r="2.3" fill="#480004" opacity="0.46"/>
<circle cx="452.5" cy="430.6" r="3.4" fill="#480004" opacity="0.75"/>
<circle cx="506.5" cy="411.5" r="3.4" fill="#480004" opacity="0.57"/>
<circle cx="517.7" cy="422.0" r="2.5" fill="#480004" opacity="0.85"/>
<circle cx="432.5" cy="407.3" r="1.6" fill="#0a0000" opacity="0.70"/>
<circle cx="515.5" cy="432.3" r="2.7" fill="#0a0000" opacity="0.73"/>
<circle cx="448.7" cy="445.8" r="3.1" fill="#480004" opacity="0.48"/>
<circle cx="520.9" cy="438.0" r="3.1" fill="#480004" opacity="0.84"/>
<circle cx="432.2" cy="435.1" r="2.9" fill="#480004" opacity="0.54"/>
<circle cx="424.8" cy="427.4" r="3.1" fill="#0a0000" opacity="0.59"/>
<circle cx="442.9" cy="388.6" r="2.9" fill="#480004" opacity="0.80"/>
<circle cx="425.4" cy="445.3" r="2.2" fill="#0a0000" opacity="0.75"/>
<circle cx="433.1" cy="402.4" r="1.6" fill="#0a0000" opacity="0.72"/>
<circle cx="510.3" cy="384.5" r="3.2" fill="#0a0000" opacity="0.59"/>
<circle cx="442.2" cy="441.9" r="1.9" fill="#480004" opacity="0.80"/>
<circle cx="506.9" cy="383.6" r="2.5" fill="#0a0000" opacity="0.53"/>
<circle cx="443.2" cy="447.5" r="3.5" fill="#480004" opacity="0.88"/>
<circle cx="425.3" cy="417.9" r="1.8" fill="#0a0000" opacity="0.77"/>
<circle cx="439.5" cy="437.5" r="2.5" fill="#0a0000" opacity="0.58"/>
<circle cx="447.7" cy="424.1" r="2.9" fill="#480004" opacity="0.77"/>
<circle cx="526.6" cy="451.5" r="2.9" fill="#480004" opacity="0.43"/>
<circle cx="440.8" cy="382.5" r="3.2" fill="#480004" opacity="0.72"/>
<circle cx="447.5" cy="408.5" r="1.8" fill="#480004" opacity="0.90"/>
<circle cx="452.4" cy="384.9" r="1.9" fill="#0a0000" opacity="0.86"/>
<circle cx="510.0" cy="416.1" r="1.7" fill="#0a0000" opacity="0.56"/>
<circle cx="506.9" cy="417.4" r="3.5" fill="#480004" opacity="0.80"/>
<circle cx="431.9" cy="389.8" r="2.6" fill="#480004" opacity="0.50"/>
<circle cx="446.2" cy="383.1" r="3.3" fill="#480004" opacity="0.87"/>
<circle cx="530.3" cy="414.7" r="3.0" fill="#0a0000" opacity="0.82"/>
<circle cx="514.3" cy="391.7" r="1.5" fill="#0a0000" opacity="0.73"/>
<circle cx="513.0" cy="441.3" r="2.4" fill="#0a0000" opacity="0.86"/>
<circle cx="519.3" cy="418.4" r="2.8" fill="#0a0000" opacity="0.60"/>
<circle cx="521.7" cy="410.6" r="1.7" fill="#480004" opacity="0.46"/>
<circle cx="440.1" cy="416.2" r="2.7" fill="#480004" opacity="0.75"/>
<circle cx="444.8" cy="430.9" r="2.9" fill="#0a0000" opacity="0.56"/>
<circle cx="522.1" cy="427.1" r="1.6" fill="#0a0000" opacity="0.89"/>
<circle cx="443.5" cy="411.3" r="3.1" fill="#480004" opacity="0.72"/>
<circle cx="502.7" cy="384.4" r="1.7" fill="#480004" opacity="0.80"/>
<circle cx="421.4" cy="385.2" r="2.0" fill="#480004" opacity="0.51"/>
<circle cx="447.4" cy="393.2" r="1.5" fill="#480004" opacity="0.45"/>
<circle cx="529.5" cy="435.5" r="1.9" fill="#480004" opacity="0.48"/>
<circle cx="508.0" cy="449.2" r="3.3" fill="#0a0000" opacity="0.84"/>
</g>
<g filter="url(#b1)">
<rect x="455.11" y="381.49" width="44.85" height="76.12" fill="#6c0505"/>
<rect x="457.08" y="381.49" width="3.06" height="76.12" fill="#cc1010"/>
<rect x="456.51" y="381.49" width="3.02" height="2.76" fill="#d02716" opacity="0.57"/>
<rect x="457.30" y="383.94" width="2.34" height="2.76" fill="#cb2414" opacity="0.55"/>
<rect x="458.08" y="386.40" width="1.99" height="2.76" fill="#e0331b" opacity="0.92"/>
<rect x="457.76" y="388.85" width="2.12" height="2.76" fill="#c31e12" opacity="0.64"/>
<rect x="458.23" y="391.31" width="2.10" height="2.76" fill="#c01c11" opacity="0.80"/>
<rect x="457.89" y="393.77" width="2.08" height="2.76" fill="#ba170f" opacity="0.93"/>
<rect x="457.38" y="396.22" width="2.09" height="2.76" fill="#ec3c1e" opacity="0.69"/>
<rect x="457.68" y="398.68" width="2.15" height="2.76" fill="#e2351b" opacity="0.99"/>
<rect x="457.03" y="401.13" width="1.96" height="2.76" fill="#e3351c" opacity="0.60"/>
<rect x="457.26" y="403.59" width="2.76" height="2.76" fill="#da2f19" opacity="0.76"/>
<rect x="457.43" y="406.04" width="2.77" height="2.76" fill="#bf1b11" opacity="0.96"/>
<rect x="457.68" y="408.50" width="3.02" height="2.76" fill="#df321a" opacity="0.93"/>
<rect x="457.87" y="410.95" width="2.00" height="2.76" fill="#dd311a" opacity="0.93"/>
<rect x="456.60" y="413.41" width="3.13" height="2.76" fill="#c11c11" opacity="0.97"/>
<rect x="456.82" y="415.86" width="2.90" height="2.76" fill="#c21d12" opacity="0.69"/>
<rect x="456.85" y="418.32" width="2.39" height="2.76" fill="#ba170f" opacity="0.75"/>
<rect x="457.80" y="420.77" width="2.83" height="2.76" fill="#fd4823" opacity="0.89"/>
<rect x="457.32" y="423.23" width="3.28" height="2.76" fill="#eb3b1e" opacity="0.67"/>
<rect x="456.69" y="425.68" width="2.51" height="2.76" fill="#b3120d" opacity="0.65"/>
<rect x="456.78" y="428.14" width="3.19" height="2.76" fill="#f13f20" opacity="0.90"/>
<rect x="457.45" y="430.60" width="3.14" height="2.76" fill="#e3361c" opacity="0.79"/>
<rect x="456.82" y="433.05" width="3.06" height="2.76" fill="#ab0c0b" opacity="0.83"/>
<rect x="457.93" y="435.51" width="2.67" height="2.76" fill="#bb1810" opacity="0.62"/>
<rect x="457.25" y="437.96" width="2.82" height="2.76" fill="#ca2314" opacity="0.97"/>
<rect x="457.29" y="440.42" width="3.18" height="2.76" fill="#bf1b11" opacity="0.99"/>
<rect x="457.19" y="442.87" width="2.24" height="2.76" fill="#aa0c0b" opacity="0.96"/>
<rect x="457.76" y="445.33" width="2.30" height="2.76" fill="#a80a0a" opacity="1.00"/>
<rect x="457.60" y="447.78" width="2.54" height="2.76" fill="#ae0f0c" opacity="0.86"/>
<rect x="456.78" y="450.24" width="2.96" height="2.76" fill="#e0331b" opacity="0.67"/>
<rect x="456.77" y="452.69" width="2.88" height="2.76" fill="#a80a0a" opacity="0.67"/>
<rect x="457.33" y="455.15" width="2.81" height="2.76" fill="#fa4723" opacity="0.85"/>
<rect x="464.29" y="381.49" width="3.06" height="76.12" fill="#cc1010"/>
<rect x="464.10" y="381.49" width="2.88" height="2.76" fill="#d02816" opacity="0.58"/>
<rect x="464.63" y="383.94" width="1.97" height="2.76" fill="#aa0b0a" opacity="0.61"/>
<rect x="465.16" y="386.40" width="2.61" height="2.76" fill="#ab0c0b" opacity="0.86"/>
<rect x="463.87" y="388.85" width="2.98" height="2.76" fill="#b4130e" opacity="0.60"/>
<rect x="464.83" y="391.31" width="2.50" height="2.76" fill="#b7150e" opacity="0.75"/>
<rect x="465.38" y="393.77" width="2.08" height="2.76" fill="#de321a" opacity="0.70"/>
<rect x="465.28" y="396.22" width="2.00" height="2.76" fill="#ea3b1e" opacity="0.65"/>
<rect x="464.54" y="398.68" width="3.03" height="2.76" fill="#ed3d1f" opacity="0.67"/>
<rect x="465.28" y="401.13" width="2.21" height="2.76" fill="#a80a0a" opacity="0.62"/>
<rect x="464.67" y="403.59" width="2.74" height="2.76" fill="#d72c18" opacity="0.63"/>
<rect x="465.45" y="406.04" width="2.08" height="2.76" fill="#ad0d0b" opacity="0.72"/>
<rect x="464.07" y="408.50" width="2.72" height="2.76" fill="#d62c18" opacity="0.58"/>
<rect x="463.75" y="410.95" width="3.09" height="2.76" fill="#a80a0a" opacity="0.98"/>
<rect x="463.85" y="413.41" width="2.92" height="2.76" fill="#bb1810" opacity="0.90"/>
<rect x="464.62" y="415.86" width="2.44" height="2.76" fill="#b3120d" opacity="0.60"/>
<rect x="464.00" y="418.32" width="3.02" height="2.76" fill="#b3120d" opacity="0.72"/>
<rect x="464.26" y="420.77" width="2.25" height="2.76" fill="#e2351b" opacity="0.65"/>
<rect x="464.79" y="423.23" width="2.44" height="2.76" fill="#bd1910" opacity="0.76"/>
<rect x="465.03" y="425.68" width="2.02" height="2.76" fill="#ef3e1f" opacity="0.93"/>
<rect x="464.73" y="428.14" width="1.99" height="2.76" fill="#b2110d" opacity="0.60"/>
<rect x="463.79" y="430.60" width="2.91" height="2.76" fill="#c31e12" opacity="0.60"/>
<rect x="464.34" y="433.05" width="2.19" height="2.76" fill="#c51f13" opacity="0.75"/>
<rect x="464.60" y="435.51" width="2.05" height="2.76" fill="#ac0d0b" opacity="0.76"/>
<rect x="463.86" y="437.96" width="2.70" height="2.76" fill="#f74422" opacity="0.65"/>
<rect x="464.98" y="440.42" width="2.71" height="2.76" fill="#e0331b" opacity="0.98"/>
<rect x="465.38" y="442.87" width="2.10" height="2.76" fill="#ed3d1f" opacity="0.79"/>
<rect x="465.23" y="445.33" width="2.18" height="2.76" fill="#b2120d" opacity="0.65"/>
<rect x="465.25" y="447.78" width="2.31" height="2.76" fill="#aa0c0b" opacity="0.76"/>
<rect x="464.72" y="450.24" width="2.05" height="2.76" fill="#de321a" opacity="0.69"/>
<rect x="464.20" y="452.69" width="2.84" height="2.76" fill="#b0100c" opacity="0.60"/>
<rect x="464.07" y="455.15" width="2.60" height="2.76" fill="#fd4823" opacity="0.55"/>
<rect x="472.00" y="381.49" width="3.06" height="76.12" fill="#cc1010"/>
<rect x="471.54" y="381.49" width="2.64" height="2.76" fill="#d62c18" opacity="0.76"/>
<rect x="471.82" y="383.94" width="2.67" height="2.76" fill="#df331b" opacity="0.77"/>
<rect x="471.62" y="386.40" width="2.83" height="2.76" fill="#d12816" opacity="0.91"/>
<rect x="472.56" y="388.85" width="2.94" height="2.76" fill="#f84522" opacity="0.72"/>
<rect x="472.05" y="391.31" width="2.20" height="2.76" fill="#f34120" opacity="0.82"/>
<rect x="472.10" y="393.77" width="2.06" height="2.76" fill="#f24120" opacity="0.57"/>
<rect x="472.03" y="396.22" width="2.14" height="2.76" fill="#c11d12" opacity="0.89"/>
<rect x="471.79" y="398.68" width="3.21" height="2.76" fill="#cf2716" opacity="0.86"/>
<rect x="471.54" y="401.13" width="3.22" height="2.76" fill="#a80a0a" opacity="0.76"/>
<rect x="471.91" y="403.59" width="3.22" height="2.76" fill="#c82114" opacity="1.00"/>
<rect x="472.87" y="406.04" width="2.24" height="2.76" fill="#d32917" opacity="0.64"/>
<rect x="471.86" y="408.50" width="2.57" height="2.76" fill="#ff4a24" opacity="0.98"/>
<rect x="472.06" y="410.95" width="2.50" height="2.76" fill="#b8160f" opacity="0.85"/>
<rect x="471.83" y="413.41" width="2.45" height="2.76" fill="#a80a0a" opacity="0.92"/>
<rect x="471.81" y="415.86" width="2.77" height="2.76" fill="#a80a0a" opacity="0.75"/>
<rect x="471.57" y="418.32" width="2.91" height="2.76" fill="#cd2515" opacity="0.66"/>
<rect x="471.42" y="420.77" width="3.24" height="2.76" fill="#ac0d0b" opacity="0.61"/>
<rect x="472.70" y="423.23" width="2.73" height="2.76" fill="#c92214" opacity="0.58"/>
<rect x="472.56" y="425.68" width="2.18" height="2.76" fill="#b2110d" opacity="0.75"/>
<rect x="472.18" y="428.14" width="3.14" height="2.76" fill="#bf1b11" opacity="0.94"/>
<rect x="472.99" y="430.60" width="2.31" height="2.76" fill="#f94622" opacity="0.73"/>
<rect x="471.38" y="433.05" width="3.18" height="2.76" fill="#a90b0a" opacity="0.56"/>
<rect x="473.01" y="435.51" width="2.34" height="2.76" fill="#b6140e" opacity="0.94"/>
<rect x="472.69" y="437.96" width="2.66" height="2.76" fill="#c01b11" opacity="0.91"/>
<rect x="471.67" y="440.42" width="2.64" height="2.76" fill="#d62c18" opacity="0.66"/>
<rect x="472.58" y="442.87" width="2.74" height="2.76" fill="#d62c18" opacity="0.95"/>
<rect x="471.83" y="445.33" width="2.21" height="2.76" fill="#fa4623" opacity="0.95"/>
<rect x="472.70" y="447.78" width="2.20" height="2.76" fill="#cd2615" opacity="0.67"/>
<rect x="472.34" y="450.24" width="2.44" height="2.76" fill="#b2110d" opacity="0.85"/>
<rect x="472.23" y="452.69" width="2.95" height="2.76" fill="#aa0b0b" opacity="0.76"/>
<rect x="471.33" y="455.15" width="3.02" height="2.76" fill="#d82d18" opacity="0.76"/>
<rect x="479.61" y="381.49" width="3.06" height="76.12" fill="#cc1010"/>
<rect x="479.90" y="381.49" width="2.90" height="2.76" fill="#d92e19" opacity="0.63"/>
<rect x="479.26" y="383.94" width="3.01" height="2.76" fill="#fa4622" opacity="0.74"/>
<rect x="479.90" y="386.40" width="2.23" height="2.76" fill="#fa4622" opacity="0.98"/>
<rect x="480.34" y="388.85" width="2.27" height="2.76" fill="#f24120" opacity="0.71"/>
<rect x="479.13" y="391.31" width="2.98" height="2.76" fill="#d72d18" opacity="0.65"/>
<rect x="479.34" y="393.77" width="2.31" height="2.76" fill="#b1100d" opacity="0.61"/>
<rect x="479.29" y="396.22" width="2.52" height="2.76" fill="#bf1b11" opacity="0.81"/>
<rect x="479.58" y="398.68" width="2.73" height="2.76" fill="#f84522" opacity="0.87"/>
<rect x="480.02" y="401.13" width="2.19" height="2.76" fill="#c11d12" opacity="0.56"/>
<rect x="479.87" y="403.59" width="2.17" height="2.76" fill="#d82e18" opacity="0.98"/>
<rect x="479.80" y="406.04" width="3.07" height="2.76" fill="#e2351b" opacity="0.84"/>
<rect x="479.09" y="408.50" width="3.25" height="2.76" fill="#db3019" opacity="0.89"/>
<rect x="480.44" y="410.95" width="2.30" height="2.76" fill="#b6150e" opacity="0.82"/>
<rect x="479.70" y="413.41" width="3.12" height="2.76" fill="#ec3c1e" opacity="0.64"/>
<rect x="480.12" y="415.86" width="2.67" height="2.76" fill="#a80a0a" opacity="0.67"/>
<rect x="479.70" y="418.32" width="1.96" height="2.76" fill="#aa0b0a" opacity="0.86"/>
<rect x="479.68" y="420.77" width="2.26" height="2.76" fill="#a80a0a" opacity="0.87"/>
<rect x="479.61" y="423.23" width="1.98" height="2.76" fill="#fd4924" opacity="0.97"/>
<rect x="479.83" y="425.68" width="2.15" height="2.76" fill="#fb4723" opacity="0.79"/>
<rect x="479.85" y="428.14" width="2.51" height="2.76" fill="#b8160f" opacity="0.67"/>
<rect x="479.63" y="430.60" width="2.07" height="2.76" fill="#a90b0a" opacity="0.59"/>
<rect x="479.37" y="433.05" width="2.89" height="2.76" fill="#d32a17" opacity="0.91"/>
<rect x="479.92" y="435.51" width="2.41" height="2.76" fill="#de321a" opacity="0.63"/>
<rect x="479.16" y="437.96" width="2.70" height="2.76" fill="#f64321" opacity="0.62"/>
<rect x="480.21" y="440.42" width="2.47" height="2.76" fill="#da2f19" opacity="0.65"/>
<rect x="479.06" y="442.87" width="3.03" height="2.76" fill="#e6381d" opacity="0.81"/>
<rect x="480.12" y="445.33" width="2.90" height="2.76" fill="#af0f0c" opacity="0.91"/>
<rect x="480.33" y="447.78" width="2.08" height="2.76" fill="#b2110d" opacity="0.80"/>
<rect x="480.15" y="450.24" width="2.21" height="2.76" fill="#ac0d0b" opacity="0.60"/>
<rect x="479.66" y="452.69" width="2.28" height="2.76" fill="#d42a17" opacity="0.74"/>
<rect x="479.02" y="455.15" width="2.92" height="2.76" fill="#ca2314" opacity="0.88"/>
<rect x="487.53" y="381.49" width="3.06" height="76.12" fill="#cc1010"/>
<rect x="488.09" y="381.49" width="2.34" height="2.76" fill="#b1110d" opacity="0.86"/>
<rect x="487.07" y="383.94" width="3.16" height="2.76" fill="#d22917" opacity="0.69"/>
<rect x="487.43" y="386.40" width="2.30" height="2.76" fill="#d72d18" opacity="0.65"/>
<rect x="487.83" y="388.85" width="3.06" height="2.76" fill="#e3351c" opacity="0.98"/>
<rect x="487.62" y="391.31" width="2.37" height="2.76" fill="#e6371c" opacity="0.87"/>
<rect x="487.10" y="393.77" width="2.77" height="2.76" fill="#a90b0a" opacity="0.57"/>
<rect x="488.59" y="396.22" width="2.16" height="2.76" fill="#c82214" opacity="0.94"/>
<rect x="487.42" y="398.68" width="2.22" height="2.76" fill="#c31e12" opacity="0.78"/>
<rect x="488.14" y="401.13" width="2.44" height="2.76" fill="#c92214" opacity="0.79"/>
<rect x="487.41" y="403.59" width="2.10" height="2.76" fill="#e3361c" opacity="0.72"/>
<rect x="488.15" y="406.04" width="2.29" height="2.76" fill="#c52013" opacity="0.65"/>
<rect x="488.06" y="408.50" width="2.59" height="2.76" fill="#b8150f" opacity="0.90"/>
<rect x="488.38" y="410.95" width="2.55" height="2.76" fill="#bc1910" opacity="0.97"/>
<rect x="487.95" y="413.41" width="2.09" height="2.76" fill="#d22917" opacity="0.84"/>
<rect x="488.73" y="415.86" width="2.00" height="2.76" fill="#b5130e" opacity="0.96"/>
<rect x="487.94" y="418.32" width="2.58" height="2.76" fill="#ac0d0b" opacity="0.68"/>
<rect x="487.96" y="420.77" width="2.96" height="2.76" fill="#aa0b0a" opacity="0.75"/>
<rect x="487.25" y="423.23" width="2.48" height="2.76" fill="#aa0c0b" opacity="0.98"/>
<rect x="488.27" y="425.68" width="2.34" height="2.76" fill="#a90b0a" opacity="0.61"/>
<rect x="487.57" y="428.14" width="2.05" height="2.76" fill="#ab0c0b" opacity="0.79"/>
<rect x="487.51" y="430.60" width="2.18" height="2.76" fill="#ea3b1e" opacity="0.89"/>
<rect x="487.33" y="433.05" width="2.41" height="2.76" fill="#c01c11" opacity="0.66"/>
<rect x="487.67" y="435.51" width="2.11" height="2.76" fill="#fb4723" opacity="0.88"/>
<rect x="487.44" y="437.96" width="3.16" height="2.76" fill="#f14020" opacity="0.98"/>
<rect x="487.84" y="440.42" width="2.34" height="2.76" fill="#d12816" opacity="0.87"/>
<rect x="487.57" y="442.87" width="2.13" height="2.76" fill="#df321a" opacity="0.98"/>
<rect x="487.32" y="445.33" width="3.04" height="2.76" fill="#ab0c0b" opacity="0.66"/>
<rect x="488.46" y="447.78" width="2.58" height="2.76" fill="#b3120d" opacity="0.62"/>
<rect x="487.41" y="450.24" width="2.38" height="2.76" fill="#ed3d1f" opacity="0.89"/>
<rect x="487.85" y="452.69" width="2.21" height="2.76" fill="#b9170f" opacity="0.92"/>
<rect x="487.01" y="455.15" width="2.72" height="2.76" fill="#ee3d1f" opacity="0.89"/>
<rect x="494.94" y="381.49" width="3.06" height="76.12" fill="#cc1010"/>
<rect x="495.52" y="381.49" width="3.16" height="2.76" fill="#d12816" opacity="0.70"/>
<rect x="494.62" y="383.94" width="3.05" height="2.76" fill="#ec3c1e" opacity="0.71"/>
<rect x="495.09" y="386.40" width="2.43" height="2.76" fill="#bc1910" opacity="0.60"/>
<rect x="494.76" y="388.85" width="3.17" height="2.76" fill="#b1110d" opacity="0.84"/>
<rect x="494.63" y="391.31" width="2.97" height="2.76" fill="#f13f20" opacity="0.96"/>
<rect x="495.15" y="393.77" width="3.28" height="2.76" fill="#e7381d" opacity="0.89"/>
<rect x="495.54" y="396.22" width="2.29" height="2.76" fill="#e8391d" opacity="0.72"/>
<rect x="495.46" y="398.68" width="2.13" height="2.76" fill="#eb3b1e" opacity="0.70"/>
<rect x="495.74" y="401.13" width="2.42" height="2.76" fill="#e93a1d" opacity="0.93"/>
<rect x="496.01" y="403.59" width="2.14" height="2.76" fill="#f03f1f" opacity="0.88"/>
<rect x="494.42" y="406.04" width="2.83" height="2.76" fill="#d82e18" opacity="0.94"/>
<rect x="494.96" y="408.50" width="2.56" height="2.76" fill="#cb2415" opacity="0.90"/>
<rect x="494.51" y="410.95" width="3.12" height="2.76" fill="#e4361c" opacity="0.70"/>
<rect x="495.18" y="413.41" width="2.09" height="2.76" fill="#b3120d" opacity="0.56"/>
<rect x="494.74" y="415.86" width="2.26" height="2.76" fill="#e6371c" opacity="0.58"/>
<rect x="495.31" y="418.32" width="2.22" height="2.76" fill="#e0331b" opacity="0.73"/>
<rect x="494.59" y="420.77" width="3.23" height="2.76" fill="#e7381d" opacity="0.83"/>
<rect x="495.74" y="423.23" width="2.58" height="2.76" fill="#f24020" opacity="0.88"/>
<rect x="495.01" y="425.68" width="3.12" height="2.76" fill="#b7150f" opacity="0.60"/>
<rect x="494.96" y="428.14" width="3.06" height="2.76" fill="#cf2716" opacity="0.77"/>
<rect x="495.13" y="430.60" width="3.13" height="2.76" fill="#bf1b11" opacity="0.64"/>
<rect x="495.89" y="433.05" width="2.44" height="2.76" fill="#bb1810" opacity="0.86"/>
<rect x="494.23" y="435.51" width="3.18" height="2.76" fill="#ac0d0b" opacity="0.82"/>
<rect x="494.91" y="437.96" width="2.91" height="2.76" fill="#c11c11" opacity="0.59"/>
<rect x="495.35" y="440.42" width="3.05" height="2.76" fill="#c92214" opacity="0.71"/>
<rect x="495.42" y="442.87" width="2.95" height="2.76" fill="#b1110d" opacity="0.65"/>
<rect x="494.73" y="445.33" width="3.28" height="2.76" fill="#f03f20" opacity="0.72"/>
<rect x="494.45" y="447.78" width="3.20" height="2.76" fill="#dc301a" opacity="0.69"/>
<rect x="494.56" y="450.24" width="2.93" height="2.76" fill="#b8160f" opacity="0.80"/>
<rect x="494.55" y="452.69" width="2.85" height="2.76" fill="#c72113" opacity="0.98"/>
<rect x="495.53" y="455.15" width="2.70" height="2.76" fill="#ff4a24" opacity="0.63"/>
<circle cx="461.9" cy="451.8" r="1.1" fill="#3a0000" opacity="0.60"/>
<circle cx="462.6" cy="429.5" r="1.4" fill="#3a0000" opacity="0.64"/>
<circle cx="462.1" cy="402.5" r="1.5" fill="#3a0000" opacity="0.59"/>
<circle cx="462.0" cy="381.9" r="1.7" fill="#3a0000" opacity="0.70"/>
<circle cx="462.2" cy="400.9" r="1.2" fill="#3a0000" opacity="0.64"/>
<circle cx="469.9" cy="426.1" r="1.7" fill="#3a0000" opacity="0.68"/>
<circle cx="470.2" cy="445.3" r="1.1" fill="#3a0000" opacity="0.78"/>
<circle cx="469.2" cy="388.1" r="1.7" fill="#3a0000" opacity="0.67"/>
<circle cx="469.8" cy="416.5" r="1.9" fill="#3a0000" opacity="0.53"/>
<circle cx="469.3" cy="396.6" r="1.4" fill="#3a0000" opacity="0.65"/>
<circle cx="469.3" cy="393.8" r="1.2" fill="#3a0000" opacity="0.48"/>
<circle cx="469.3" cy="419.9" r="1.5" fill="#3a0000" opacity="0.58"/>
<circle cx="469.6" cy="453.4" r="1.3" fill="#3a0000" opacity="0.64"/>
<circle cx="469.2" cy="394.4" r="1.7" fill="#3a0000" opacity="0.79"/>
<circle cx="469.6" cy="408.4" r="1.4" fill="#3a0000" opacity="0.68"/>
<circle cx="470.1" cy="393.1" r="1.6" fill="#3a0000" opacity="0.40"/>
<circle cx="477.8" cy="429.4" r="1.4" fill="#3a0000" opacity="0.57"/>
<circle cx="477.5" cy="423.7" r="1.7" fill="#3a0000" opacity="0.78"/>
<circle cx="477.8" cy="409.3" r="1.7" fill="#3a0000" opacity="0.64"/>
<circle cx="477.4" cy="453.4" r="1.4" fill="#3a0000" opacity="0.47"/>
<circle cx="477.7" cy="449.8" r="1.1" fill="#3a0000" opacity="0.53"/>
<circle cx="477.2" cy="419.2" r="1.8" fill="#3a0000" opacity="0.54"/>
<circle cx="477.2" cy="406.8" r="1.6" fill="#3a0000" opacity="0.71"/>
<circle cx="477.2" cy="409.7" r="1.4" fill="#3a0000" opacity="0.77"/>
<circle cx="485.5" cy="406.8" r="1.2" fill="#3a0000" opacity="0.68"/>
<circle cx="484.6" cy="396.2" r="1.7" fill="#3a0000" opacity="0.46"/>
<circle cx="484.8" cy="385.9" r="1.7" fill="#3a0000" opacity="0.69"/>
<circle cx="485.0" cy="451.9" r="1.3" fill="#3a0000" opacity="0.70"/>
<circle cx="485.5" cy="388.6" r="1.7" fill="#3a0000" opacity="0.64"/>
<circle cx="484.7" cy="385.7" r="1.1" fill="#3a0000" opacity="0.68"/>
<circle cx="484.7" cy="393.8" r="1.6" fill="#3a0000" opacity="0.67"/>
<circle cx="492.7" cy="456.0" r="1.4" fill="#3a0000" opacity="0.50"/>
<circle cx="493.4" cy="455.7" r="1.7" fill="#3a0000" opacity="0.47"/>
<circle cx="492.6" cy="393.1" r="1.7" fill="#3a0000" opacity="0.42"/>
<circle cx="493.1" cy="414.9" r="1.6" fill="#3a0000" opacity="0.58"/>
<circle cx="493.3" cy="411.6" r="1.8" fill="#3a0000" opacity="0.77"/>
<circle cx="492.6" cy="394.8" r="1.7" fill="#3a0000" opacity="0.40"/>
<circle cx="492.7" cy="442.2" r="1.6" fill="#3a0000" opacity="0.63"/>
</g>
<g filter="url(#bt)">
<text x="384.40" y="332.70" font-size="27.00" fill="#1fa9e6" text-anchor="start" font-weight="bold" textLength="29.00" lengthAdjust="spacingAndGlyphs" >#1</text>
</g>
<rect x="664.2" y="305.7" width="228.10" height="227.20" fill="#0d0000"/>
<rect x="901.6" y="305.7" width="12.60" height="227.80" fill="url(#hot)" stroke="#7a7a7a" stroke-width="0.8"/>
<g filter="url(#bt)">
<text x="662.50" y="348.42" font-size="12.70" fill="#2b2b2b" text-anchor="end" font-weight="normal" stroke="#2b2b2b" stroke-width="0.3" >20</text>
<text x="662.50" y="386.29" font-size="12.70" fill="#2b2b2b" text-anchor="end" font-weight="normal" stroke="#2b2b2b" stroke-width="0.3" >40</text>
<text x="662.50" y="424.15" font-size="12.70" fill="#2b2b2b" text-anchor="end" font-weight="normal" stroke="#2b2b2b" stroke-width="0.3" >60</text>
<text x="662.50" y="462.02" font-size="12.70" fill="#2b2b2b" text-anchor="end" font-weight="normal" stroke="#2b2b2b" stroke-width="0.3" >80</text>
<text x="662.50" y="499.89" font-size="12.70" fill="#2b2b2b" text-anchor="end" font-weight="normal" stroke="#2b2b2b" stroke-width="0.3" >100</text>
<text x="662.50" y="537.75" font-size="12.70" fill="#2b2b2b" text-anchor="end" font-weight="normal" stroke="#2b2b2b" stroke-width="0.3" >120</text>
<text x="701.87" y="549.60" font-size="12.70" fill="#2b2b2b" text-anchor="middle" font-weight="normal" stroke="#2b2b2b" stroke-width="0.3" >20</text>
<text x="739.88" y="549.60" font-size="12.70" fill="#2b2b2b" text-anchor="middle" font-weight="normal" stroke="#2b2b2b" stroke-width="0.3" >40</text>
<text x="777.90" y="549.60" font-size="12.70" fill="#2b2b2b" text-anchor="middle" font-weight="normal" stroke="#2b2b2b" stroke-width="0.3" >60</text>
<text x="815.92" y="549.60" font-size="12.70" fill="#2b2b2b" text-anchor="middle" font-weight="normal" stroke="#2b2b2b" stroke-width="0.3" >80</text>
<text x="853.93" y="549.60" font-size="12.70" fill="#2b2b2b" text-anchor="middle" font-weight="normal" stroke="#2b2b2b" stroke-width="0.3" >100</text>
<text x="891.95" y="549.60" font-size="12.70" fill="#2b2b2b" text-anchor="middle" font-weight="normal" stroke="#2b2b2b" stroke-width="0.3" >120</text>
<text x="915.40" y="539.70" font-size="12.50" fill="#2b2b2b" text-anchor="start" font-weight="normal" stroke="#2b2b2b" stroke-width="0.3" >0</text>
<line x1="911.7" x2="914.2" y1="533.50" y2="533.50" stroke="#444" stroke-width="0.7"/>
<text x="915.40" y="482.75" font-size="12.50" fill="#2b2b2b" text-anchor="start" font-weight="normal" stroke="#2b2b2b" stroke-width="0.3" >0.5</text>
<line x1="911.7" x2="914.2" y1="476.55" y2="476.55" stroke="#444" stroke-width="0.7"/>
<text x="915.40" y="425.80" font-size="12.50" fill="#2b2b2b" text-anchor="start" font-weight="normal" stroke="#2b2b2b" stroke-width="0.3" >1</text>
<line x1="911.7" x2="914.2" y1="419.60" y2="419.60" stroke="#444" stroke-width="0.7"/>
<text x="915.40" y="368.85" font-size="12.50" fill="#2b2b2b" text-anchor="start" font-weight="normal" stroke="#2b2b2b" stroke-width="0.3" >1.5</text>
<line x1="911.7" x2="914.2" y1="362.65" y2="362.65" stroke="#444" stroke-width="0.7"/>
<text x="915.40" y="311.90" font-size="12.50" fill="#2b2b2b" text-anchor="start" font-weight="normal" stroke="#2b2b2b" stroke-width="0.3" >2</text>
<line x1="911.7" x2="914.2" y1="305.70" y2="305.70" stroke="#444" stroke-width="0.7"/>
<text x="913.80" y="303.00" font-size="12.50" fill="#2b2b2b" text-anchor="start" font-weight="normal" stroke="#2b2b2b" stroke-width="0.3" >x 10</text>
<text x="936.20" y="292.20" font-size="8.00" fill="#2b2b2b" text-anchor="start" font-weight="normal" stroke="#2b2b2b" stroke-width="0.3" >7</text>
</g>
<rect x="728.15" y="380.97" width="101.42" height="75.26" fill="#140000" filter="url(#b1)"/>
<rect x="734.15" y="380.97" width="89.42" height="75.26" fill="#1c0000" filter="url(#b1)"/>
<g filter="url(#b2)">
<circle cx="820.0" cy="452.9" r="3.4" fill="#480004" opacity="0.56"/>
<circle cx="815.0" cy="440.6" r="3.1" fill="#480004" opacity="0.90"/>
<circle cx="810.8" cy="417.7" r="2.1" fill="#480004" opacity="0.44"/>
<circle cx="817.3" cy="437.9" r="1.8" fill="#480004" opacity="0.69"/>
<circle cx="815.3" cy="425.1" r="2.4" fill="#480004" opacity="0.44"/>
<circle cx="812.1" cy="414.2" r="3.0" fill="#0a0000" opacity="0.79"/>
<circle cx="816.4" cy="451.9" r="3.5" fill="#0a0000" opacity="0.73"/>
<circle cx="822.5" cy="421.7" r="3.0" fill="#0a0000" opacity="0.75"/>
<circle cx="810.3" cy="448.2" r="1.6" fill="#0a0000" opacity="0.69"/>
<circle cx="817.3" cy="416.6" r="3.1" fill="#0a0000" opacity="0.87"/>
<circle cx="815.9" cy="441.6" r="2.9" fill="#480004" opacity="0.52"/>
<circle cx="820.2" cy="450.4" r="1.8" fill="#480004" opacity="0.68"/>
<circle cx="746.4" cy="416.4" r="2.5" fill="#0a0000" opacity="0.65"/>
<circle cx="813.4" cy="408.6" r="3.4" fill="#480004" opacity="0.47"/>
<circle cx="819.0" cy="428.7" r="2.6" fill="#480004" opacity="0.73"/>
<circle cx="739.9" cy="381.7" r="2.6" fill="#0a0000" opacity="0.70"/>
<circle cx="744.7" cy="443.9" r="2.8" fill="#480004" opacity="0.86"/>
<circle cx="822.9" cy="432.0" r="2.9" fill="#0a0000" opacity="0.52"/>
<circle cx="734.9" cy="412.3" r="3.3" fill="#480004" opacity="0.81"/>
<circle cx="735.3" cy="396.2" r="1.9" fill="#480004" opacity="0.45"/>
<circle cx="817.5" cy="401.1" r="3.3" fill="#480004" opacity="0.56"/>
<circle cx="820.6" cy="411.5" r="2.9" fill="#0a0000" opacity="0.83"/>
<circle cx="821.9" cy="389.3" r="3.0" fill="#0a0000" opacity="0.56"/>
<circle cx="819.4" cy="455.8" r="3.5" fill="#480004" opacity="0.73"/>
<circle cx="748.6" cy="435.6" r="2.6" fill="#0a0000" opacity="0.86"/>
<circle cx="748.3" cy="392.2" r="2.7" fill="#480004" opacity="0.48"/>
<circle cx="739.3" cy="412.8" r="2.0" fill="#480004" opacity="0.52"/>
<circle cx="742.4" cy="416.9" r="2.3" fill="#0a0000" opacity="0.81"/>
<circle cx="808.8" cy="415.0" r="2.5" fill="#480004" opacity="0.70"/>
<circle cx="741.5" cy="405.9" r="1.7" fill="#480004" opacity="0.61"/>
<circle cx="817.9" cy="399.4" r="1.8" fill="#0a0000" opacity="0.63"/>
<circle cx="815.5" cy="434.1" r="2.4" fill="#0a0000" opacity="0.52"/>
<circle cx="745.1" cy="444.7" r="2.8" fill="#0a0000" opacity="0.75"/>
<circle cx="739.4" cy="419.1" r="2.2" fill="#0a0000" opacity="0.80"/>
<circle cx="749.2" cy="431.4" r="2.4" fill="#480004" opacity="0.45"/>
<circle cx="814.9" cy="381.2" r="1.9" fill="#0a0000" opacity="0.58"/>
<circle cx="742.0" cy="432.7" r="3.5" fill="#0a0000" opacity="0.61"/>
<circle cx="740.5" cy="421.8" r="3.5" fill="#480004" opacity="0.45"/>
<circle cx="746.8" cy="417.4" r="1.8" fill="#480004" opacity="0.75"/>
<circle cx="738.2" cy="434.8" r="3.1" fill="#0a0000" opacity="0.63"/>
<circle cx="739.0" cy="424.8" r="2.9" fill="#0a0000" opacity="0.78"/>
<circle cx="742.3" cy="435.6" r="3.2" fill="#480004" opacity="0.48"/>
<circle cx="812.1" cy="434.9" r="1.7" fill="#0a0000" opacity="0.77"/>
<circle cx="734.5" cy="384.2" r="2.2" fill="#480004" opacity="0.90"/>
<circle cx="816.9" cy="419.4" r="2.3" fill="#0a0000" opacity="0.66"/>
<circle cx="820.2" cy="420.5" r="2.8" fill="#480004" opacity="0.80"/>
<circle cx="743.9" cy="440.8" r="3.0" fill="#0a0000" opacity="0.65"/>
<circle cx="810.0" cy="446.3" r="2.4" fill="#0a0000" opacity="0.63"/>
<circle cx="821.3" cy="394.8" r="1.8" fill="#0a0000" opacity="0.87"/>
<circle cx="810.4" cy="405.9" r="3.2" fill="#480004" opacity="0.61"/>
</g>
<g filter="url(#b1)">
<rect x="751.89" y="380.97" width="54.44" height="75.26" fill="#5c0603"/>
<rect x="753.31" y="380.97" width="5.68" height="75.26" fill="#980a04"/>
<rect x="754.22" y="380.97" width="3.85" height="75.26" fill="#f04408"/>
<rect x="754.66" y="380.97" width="2.70" height="2.73" fill="#ffcd54" opacity="0.82"/>
<rect x="754.97" y="383.40" width="2.06" height="2.73" fill="#ff6b17" opacity="0.72"/>
<rect x="755.22" y="385.82" width="2.59" height="2.73" fill="#ff5a0c" opacity="0.70"/>
<rect x="754.22" y="388.25" width="2.98" height="2.73" fill="#ffa53b" opacity="0.56"/>
<rect x="754.38" y="390.68" width="2.96" height="2.73" fill="#ffa43b" opacity="0.64"/>
<rect x="754.07" y="393.11" width="3.41" height="2.73" fill="#ffc44e" opacity="0.81"/>
<rect x="754.24" y="395.53" width="2.52" height="2.73" fill="#ff9431" opacity="0.70"/>
<rect x="754.69" y="397.96" width="2.94" height="2.73" fill="#ff9f37" opacity="0.61"/>
<rect x="754.78" y="400.39" width="2.50" height="2.73" fill="#ff6714" opacity="0.71"/>
<rect x="755.73" y="402.82" width="2.20" height="2.73" fill="#ffcd54" opacity="0.66"/>
<rect x="755.07" y="405.24" width="2.40" height="2.73" fill="#ffc44f" opacity="0.72"/>
<rect x="754.96" y="407.67" width="3.24" height="2.73" fill="#ff5b0d" opacity="0.67"/>
<rect x="755.45" y="410.10" width="2.76" height="2.73" fill="#ffb645" opacity="0.57"/>
<rect x="755.14" y="412.53" width="2.37" height="2.73" fill="#ff7920" opacity="0.90"/>
<rect x="754.56" y="414.96" width="2.86" height="2.73" fill="#ffc24d" opacity="0.91"/>
<rect x="755.29" y="417.38" width="2.42" height="2.73" fill="#ff5f0f" opacity="0.75"/>
<rect x="755.01" y="419.81" width="2.17" height="2.73" fill="#ffdf5f" opacity="0.65"/>
<rect x="754.49" y="422.24" width="2.17" height="2.73" fill="#ff5a0c" opacity="0.72"/>
<rect x="754.45" y="424.67" width="2.80" height="2.73" fill="#ff8024" opacity="0.87"/>
<rect x="753.93" y="427.09" width="3.52" height="2.73" fill="#ff8c2b" opacity="0.78"/>
<rect x="755.36" y="429.52" width="2.59" height="2.73" fill="#ff8829" opacity="0.64"/>
<rect x="754.63" y="431.95" width="2.57" height="2.73" fill="#ffc851" opacity="0.83"/>
<rect x="754.34" y="434.38" width="2.46" height="2.73" fill="#ff9330" opacity="0.98"/>
<rect x="755.27" y="436.80" width="2.20" height="2.73" fill="#ff781f" opacity="0.79"/>
<rect x="755.37" y="439.23" width="2.53" height="2.73" fill="#ff731c" opacity="0.70"/>
<rect x="754.21" y="441.66" width="3.48" height="2.73" fill="#ff7e23" opacity="0.73"/>
<rect x="754.86" y="444.09" width="3.03" height="2.73" fill="#ff6311" opacity="0.75"/>
<rect x="755.36" y="446.52" width="2.38" height="2.73" fill="#ff7d22" opacity="0.76"/>
<rect x="755.18" y="448.94" width="2.60" height="2.73" fill="#ffc04c" opacity="0.56"/>
<rect x="754.66" y="451.37" width="3.49" height="2.73" fill="#ff6815" opacity="0.85"/>
<rect x="754.35" y="453.80" width="2.75" height="2.73" fill="#ff8929" opacity="0.63"/>
<rect x="764.77" y="380.97" width="5.68" height="75.26" fill="#980a04"/>
<rect x="765.68" y="380.97" width="3.85" height="75.26" fill="#f04408"/>
<rect x="765.73" y="380.97" width="3.08" height="2.73" fill="#ff9f38" opacity="0.84"/>
<rect x="765.67" y="383.40" width="2.96" height="2.73" fill="#ff6110" opacity="0.78"/>
<rect x="765.66" y="385.82" width="2.86" height="2.73" fill="#ff721b" opacity="0.77"/>
<rect x="766.22" y="388.25" width="2.23" height="2.73" fill="#ff9b35" opacity="0.86"/>
<rect x="766.51" y="390.68" width="2.97" height="2.73" fill="#ff902e" opacity="0.81"/>
<rect x="766.72" y="393.11" width="2.70" height="2.73" fill="#ff6815" opacity="0.81"/>
<rect x="766.24" y="395.53" width="2.58" height="2.73" fill="#ffb243" opacity="0.99"/>
<rect x="765.54" y="397.96" width="3.02" height="2.73" fill="#ffbe4b" opacity="0.83"/>
<rect x="766.54" y="400.39" width="3.45" height="2.73" fill="#ff5b0d" opacity="0.88"/>
<rect x="765.50" y="402.82" width="3.31" height="2.73" fill="#ff6d18" opacity="0.92"/>
<rect x="767.13" y="405.24" width="2.05" height="2.73" fill="#ff8c2c" opacity="0.75"/>
<rect x="766.11" y="407.67" width="3.07" height="2.73" fill="#ffbf4c" opacity="0.94"/>
<rect x="765.68" y="410.10" width="3.39" height="2.73" fill="#ff6614" opacity="0.56"/>
<rect x="765.94" y="412.53" width="2.13" height="2.73" fill="#ff741c" opacity="0.83"/>
<rect x="766.18" y="414.96" width="2.27" height="2.73" fill="#ff6010" opacity="0.68"/>
<rect x="766.42" y="417.38" width="3.40" height="2.73" fill="#ffd056" opacity="1.00"/>
<rect x="765.68" y="419.81" width="3.24" height="2.73" fill="#ff8125" opacity="0.97"/>
<rect x="765.65" y="422.24" width="3.14" height="2.73" fill="#ffbc49" opacity="0.59"/>
<rect x="766.33" y="424.67" width="2.87" height="2.73" fill="#ffd157" opacity="0.94"/>
<rect x="766.01" y="427.09" width="3.09" height="2.73" fill="#ff6111" opacity="0.90"/>
<rect x="767.08" y="429.52" width="2.33" height="2.73" fill="#ff8326" opacity="0.68"/>
<rect x="765.61" y="431.95" width="3.29" height="2.73" fill="#ffb042" opacity="0.86"/>
<rect x="766.03" y="434.38" width="2.37" height="2.73" fill="#ff7b21" opacity="0.98"/>
<rect x="766.21" y="436.80" width="2.80" height="2.73" fill="#ff781f" opacity="0.56"/>
<rect x="766.55" y="439.23" width="3.16" height="2.73" fill="#ffb243" opacity="0.71"/>
<rect x="766.65" y="441.66" width="2.56" height="2.73" fill="#ff6714" opacity="0.85"/>
<rect x="765.71" y="444.09" width="2.83" height="2.73" fill="#ff7d22" opacity="0.96"/>
<rect x="766.61" y="446.52" width="2.80" height="2.73" fill="#ff8527" opacity="0.64"/>
<rect x="766.76" y="448.94" width="2.56" height="2.73" fill="#ffac40" opacity="0.59"/>
<rect x="766.08" y="451.37" width="2.99" height="2.73" fill="#ff6d18" opacity="0.72"/>
<rect x="766.34" y="453.80" width="2.36" height="2.73" fill="#ff9531" opacity="0.55"/>
<rect x="776.12" y="380.97" width="5.68" height="75.26" fill="#980a04"/>
<rect x="777.03" y="380.97" width="3.85" height="75.26" fill="#f04408"/>
<rect x="778.22" y="380.97" width="2.41" height="2.73" fill="#ffba48" opacity="0.80"/>
<rect x="776.95" y="383.40" width="2.98" height="2.73" fill="#ff9933" opacity="0.90"/>
<rect x="777.69" y="385.82" width="3.34" height="2.73" fill="#ff6f19" opacity="0.86"/>
<rect x="777.86" y="388.25" width="2.69" height="2.73" fill="#ffbd4a" opacity="0.98"/>
<rect x="777.75" y="390.68" width="2.18" height="2.73" fill="#ff6513" opacity="0.78"/>
<rect x="778.29" y="393.11" width="2.36" height="2.73" fill="#ff6211" opacity="0.72"/>
<rect x="777.92" y="395.53" width="2.31" height="2.73" fill="#ff6211" opacity="0.64"/>
<rect x="777.45" y="397.96" width="2.85" height="2.73" fill="#ff8628" opacity="0.78"/>
<rect x="778.54" y="400.39" width="2.05" height="2.73" fill="#ffc14c" opacity="0.64"/>
<rect x="777.46" y="402.82" width="3.19" height="2.73" fill="#ff5b0d" opacity="0.79"/>
<rect x="777.08" y="405.24" width="3.22" height="2.73" fill="#ff6815" opacity="0.88"/>
<rect x="777.72" y="407.67" width="2.90" height="2.73" fill="#ff6915" opacity="0.72"/>
<rect x="778.10" y="410.10" width="2.13" height="2.73" fill="#ff8728" opacity="0.86"/>
<rect x="777.85" y="412.53" width="2.86" height="2.73" fill="#ff6211" opacity="0.60"/>
<rect x="776.65" y="414.96" width="3.35" height="2.73" fill="#ffc14d" opacity="0.66"/>
<rect x="777.17" y="417.38" width="2.41" height="2.73" fill="#ff5d0e" opacity="0.77"/>
<rect x="777.66" y="419.81" width="2.48" height="2.73" fill="#ff6b17" opacity="0.72"/>
<rect x="776.86" y="422.24" width="3.13" height="2.73" fill="#ffb847" opacity="0.65"/>
<rect x="777.15" y="424.67" width="2.53" height="2.73" fill="#ff5a0c" opacity="0.86"/>
<rect x="776.78" y="427.09" width="3.54" height="2.73" fill="#ffb646" opacity="0.57"/>
<rect x="778.24" y="429.52" width="2.65" height="2.73" fill="#ffb243" opacity="0.73"/>
<rect x="778.52" y="431.95" width="2.14" height="2.73" fill="#ff711b" opacity="0.78"/>
<rect x="777.99" y="434.38" width="2.69" height="2.73" fill="#ff8125" opacity="0.92"/>
<rect x="777.68" y="436.80" width="2.30" height="2.73" fill="#ff8628" opacity="0.95"/>
<rect x="777.53" y="439.23" width="3.03" height="2.73" fill="#ff7d22" opacity="0.76"/>
<rect x="777.84" y="441.66" width="2.40" height="2.73" fill="#ff9431" opacity="0.94"/>
<rect x="778.20" y="444.09" width="2.59" height="2.73" fill="#ff5d0e" opacity="0.99"/>
<rect x="777.65" y="446.52" width="2.98" height="2.73" fill="#ff5a0c" opacity="0.93"/>
<rect x="777.57" y="448.94" width="2.23" height="2.73" fill="#ff8527" opacity="0.87"/>
<rect x="777.99" y="451.37" width="2.34" height="2.73" fill="#ffad40" opacity="0.85"/>
<rect x="777.85" y="453.80" width="2.06" height="2.73" fill="#ffa139" opacity="0.70"/>
<rect x="787.37" y="380.97" width="5.68" height="75.26" fill="#980a04"/>
<rect x="788.29" y="380.97" width="3.85" height="75.26" fill="#f04408"/>
<rect x="788.42" y="380.97" width="2.54" height="2.73" fill="#ff9833" opacity="0.85"/>
<rect x="788.33" y="383.40" width="3.23" height="2.73" fill="#ff6f19" opacity="0.80"/>
<rect x="789.43" y="385.82" width="2.20" height="2.73" fill="#ffbb49" opacity="0.58"/>
<rect x="789.49" y="388.25" width="2.07" height="2.73" fill="#ffd358" opacity="0.72"/>
<rect x="788.90" y="390.68" width="2.63" height="2.73" fill="#ff6412" opacity="0.74"/>
<rect x="788.52" y="393.11" width="2.82" height="2.73" fill="#ff6010" opacity="0.99"/>
<rect x="788.49" y="395.53" width="2.69" height="2.73" fill="#ff7a20" opacity="0.99"/>
<rect x="789.17" y="397.96" width="3.01" height="2.73" fill="#ff721b" opacity="0.73"/>
<rect x="788.44" y="400.39" width="2.45" height="2.73" fill="#ffb243" opacity="0.57"/>
<rect x="788.12" y="402.82" width="3.36" height="2.73" fill="#ff8225" opacity="0.75"/>
<rect x="788.50" y="405.24" width="2.45" height="2.73" fill="#ffb344" opacity="0.78"/>
<rect x="789.04" y="407.67" width="3.45" height="2.73" fill="#ff7f23" opacity="0.66"/>
<rect x="788.23" y="410.10" width="2.66" height="2.73" fill="#ff922f" opacity="0.75"/>
<rect x="789.09" y="412.53" width="2.49" height="2.73" fill="#ffcf56" opacity="0.87"/>
<rect x="787.95" y="414.96" width="3.43" height="2.73" fill="#ff5c0d" opacity="0.69"/>
<rect x="789.01" y="417.38" width="2.06" height="2.73" fill="#ffab3f" opacity="0.61"/>
<rect x="788.70" y="419.81" width="2.05" height="2.73" fill="#ff8627" opacity="0.65"/>
<rect x="788.70" y="422.24" width="2.17" height="2.73" fill="#ff5d0e" opacity="0.78"/>
<rect x="788.46" y="424.67" width="3.28" height="2.73" fill="#ff6110" opacity="0.66"/>
<rect x="787.93" y="427.09" width="3.30" height="2.73" fill="#ff6a16" opacity="0.88"/>
<rect x="788.35" y="429.52" width="3.46" height="2.73" fill="#ff5e0f" opacity="0.82"/>
<rect x="788.51" y="431.95" width="2.18" height="2.73" fill="#ffc54f" opacity="0.86"/>
<rect x="788.34" y="434.38" width="3.12" height="2.73" fill="#ff9632" opacity="0.77"/>
<rect x="788.56" y="436.80" width="2.69" height="2.73" fill="#ff6513" opacity="0.81"/>
<rect x="789.19" y="439.23" width="2.45" height="2.73" fill="#ff701a" opacity="0.59"/>
<rect x="788.44" y="441.66" width="2.78" height="2.73" fill="#ffba48" opacity="0.60"/>
<rect x="789.12" y="444.09" width="2.79" height="2.73" fill="#ff8b2a" opacity="0.72"/>
<rect x="788.20" y="446.52" width="3.38" height="2.73" fill="#ff7d22" opacity="0.99"/>
<rect x="789.07" y="448.94" width="3.53" height="2.73" fill="#ffcb53" opacity="0.67"/>
<rect x="788.32" y="451.37" width="2.96" height="2.73" fill="#ffbc4a" opacity="1.00"/>
<rect x="788.66" y="453.80" width="3.26" height="2.73" fill="#ffa038" opacity="0.59"/>
<rect x="799.24" y="380.97" width="5.68" height="75.26" fill="#980a04"/>
<rect x="800.15" y="380.97" width="3.85" height="75.26" fill="#f04408"/>
<rect x="800.59" y="380.97" width="2.29" height="2.73" fill="#ffc54f" opacity="0.83"/>
<rect x="801.01" y="383.40" width="2.73" height="2.73" fill="#ff6513" opacity="0.59"/>
<rect x="800.95" y="385.82" width="2.19" height="2.73" fill="#ffa239" opacity="0.84"/>
<rect x="800.59" y="388.25" width="2.09" height="2.73" fill="#ffa63c" opacity="0.98"/>
<rect x="800.56" y="390.68" width="2.67" height="2.73" fill="#ff7b21" opacity="0.86"/>
<rect x="800.43" y="393.11" width="3.02" height="2.73" fill="#ffaf42" opacity="0.81"/>
<rect x="801.55" y="395.53" width="2.31" height="2.73" fill="#ff8c2b" opacity="0.98"/>
<rect x="800.26" y="397.96" width="3.54" height="2.73" fill="#ffb646" opacity="0.93"/>
<rect x="800.80" y="400.39" width="3.16" height="2.73" fill="#ff6a16" opacity="0.97"/>
<rect x="800.07" y="402.82" width="3.36" height="2.73" fill="#ffc04c" opacity="0.90"/>
<rect x="800.64" y="405.24" width="2.50" height="2.73" fill="#ff8628" opacity="0.91"/>
<rect x="800.66" y="407.67" width="3.31" height="2.73" fill="#ffc24d" opacity="0.63"/>
<rect x="800.22" y="410.10" width="2.89" height="2.73" fill="#ff6211" opacity="0.70"/>
<rect x="801.25" y="412.53" width="2.26" height="2.73" fill="#ff5e0f" opacity="0.65"/>
<rect x="801.30" y="414.96" width="2.53" height="2.73" fill="#ffc34e" opacity="0.69"/>
<rect x="800.08" y="417.38" width="2.63" height="2.73" fill="#ff6d18" opacity="0.75"/>
<rect x="801.56" y="419.81" width="2.05" height="2.73" fill="#ff7920" opacity="0.72"/>
<rect x="799.95" y="422.24" width="3.49" height="2.73" fill="#ff5a0c" opacity="0.66"/>
<rect x="801.28" y="424.67" width="2.18" height="2.73" fill="#ff5b0c" opacity="0.81"/>
<rect x="800.57" y="427.09" width="2.40" height="2.73" fill="#ff8a2a" opacity="0.99"/>
<rect x="800.85" y="429.52" width="3.53" height="2.73" fill="#ff781f" opacity="0.61"/>
<rect x="801.34" y="431.95" width="2.06" height="2.73" fill="#ffc34e" opacity="0.91"/>
<rect x="801.08" y="434.38" width="2.86" height="2.73" fill="#ffa83d" opacity="0.62"/>
<rect x="800.72" y="436.80" width="2.43" height="2.73" fill="#ff8f2d" opacity="0.64"/>
<rect x="801.02" y="439.23" width="2.90" height="2.73" fill="#ffaa3e" opacity="0.83"/>
<rect x="800.80" y="441.66" width="3.43" height="2.73" fill="#ff9833" opacity="0.81"/>
<rect x="800.17" y="444.09" width="3.44" height="2.73" fill="#ff731c" opacity="0.60"/>
<rect x="801.13" y="446.52" width="3.10" height="2.73" fill="#ff741c" opacity="0.84"/>
<rect x="800.74" y="448.94" width="3.45" height="2.73" fill="#ffa239" opacity="0.75"/>
<rect x="800.23" y="451.37" width="3.18" height="2.73" fill="#ff8426" opacity="0.60"/>
<rect x="800.09" y="453.80" width="3.26" height="2.73" fill="#ff9b35" opacity="0.86"/>
<circle cx="761.9" cy="391.2" r="1.4" fill="#3a0000" opacity="0.78"/>
<circle cx="762.0" cy="440.7" r="1.2" fill="#3a0000" opacity="0.79"/>
<circle cx="761.8" cy="386.7" r="1.1" fill="#3a0000" opacity="0.59"/>
<circle cx="761.8" cy="452.8" r="1.8" fill="#3a0000" opacity="0.71"/>
<circle cx="761.9" cy="403.9" r="1.4" fill="#3a0000" opacity="0.66"/>
<circle cx="762.5" cy="426.6" r="1.3" fill="#3a0000" opacity="0.53"/>
<circle cx="761.3" cy="388.0" r="1.4" fill="#3a0000" opacity="0.73"/>
<circle cx="773.0" cy="409.8" r="1.6" fill="#3a0000" opacity="0.43"/>
<circle cx="773.2" cy="418.0" r="1.2" fill="#3a0000" opacity="0.69"/>
<circle cx="773.7" cy="426.1" r="1.9" fill="#3a0000" opacity="0.70"/>
<circle cx="773.5" cy="447.1" r="1.3" fill="#3a0000" opacity="0.77"/>
<circle cx="773.1" cy="424.4" r="1.3" fill="#3a0000" opacity="0.70"/>
<circle cx="773.8" cy="421.8" r="1.6" fill="#3a0000" opacity="0.77"/>
<circle cx="784.6" cy="415.6" r="1.7" fill="#3a0000" opacity="0.79"/>
<circle cx="784.6" cy="428.7" r="1.7" fill="#3a0000" opacity="0.78"/>
<circle cx="785.0" cy="405.1" r="1.1" fill="#3a0000" opacity="0.72"/>
<circle cx="784.9" cy="429.7" r="1.3" fill="#3a0000" opacity="0.55"/>
<circle cx="784.6" cy="434.0" r="1.6" fill="#3a0000" opacity="0.53"/>
<circle cx="784.4" cy="419.8" r="1.4" fill="#3a0000" opacity="0.72"/>
<circle cx="784.9" cy="423.0" r="1.8" fill="#3a0000" opacity="0.41"/>
<circle cx="785.1" cy="418.1" r="1.2" fill="#3a0000" opacity="0.74"/>
<circle cx="785.1" cy="422.2" r="1.2" fill="#3a0000" opacity="0.53"/>
<circle cx="784.4" cy="391.0" r="1.7" fill="#3a0000" opacity="0.63"/>
<circle cx="796.2" cy="441.3" r="1.2" fill="#3a0000" opacity="0.73"/>
<circle cx="796.5" cy="451.7" r="1.3" fill="#3a0000" opacity="0.40"/>
<circle cx="796.5" cy="438.6" r="1.6" fill="#3a0000" opacity="0.73"/>
<circle cx="796.6" cy="443.7" r="1.4" fill="#3a0000" opacity="0.67"/>
<circle cx="796.2" cy="399.9" r="1.2" fill="#3a0000" opacity="0.74"/>
<circle cx="796.4" cy="433.4" r="1.2" fill="#3a0000" opacity="0.71"/>
</g>
<g filter="url(#bt)">
<text x="690.50" y="332.40" font-size="28.00" fill="#20e296" text-anchor="start" font-weight="bold" textLength="30.00" lengthAdjust="spacingAndGlyphs" >#2</text>
</g>
<text x="101.70" y="567.30" font-size="12.70" fill="#8a8a8a" text-anchor="middle" font-weight="normal" stroke="#8a8a8a" stroke-width="0.3" >20</text>
<text x="139.75" y="567.30" font-size="12.70" fill="#8a8a8a" text-anchor="middle" font-weight="normal" stroke="#8a8a8a" stroke-width="0.3" >40</text>
<text x="177.80" y="567.30" font-size="12.70" fill="#8a8a8a" text-anchor="middle" font-weight="normal" stroke="#8a8a8a" stroke-width="0.3" >60</text>
<text x="215.85" y="567.30" font-size="12.70" fill="#8a8a8a" text-anchor="middle" font-weight="normal" stroke="#8a8a8a" stroke-width="0.3" >80</text>
<text x="253.90" y="567.30" font-size="12.70" fill="#8a8a8a" text-anchor="middle" font-weight="normal" stroke="#8a8a8a" stroke-width="0.3" >100</text>
<text x="291.95" y="567.30" font-size="12.70" fill="#8a8a8a" text-anchor="middle" font-weight="normal" stroke="#8a8a8a" stroke-width="0.3" >120</text>
<text x="399.35" y="567.30" font-size="12.70" fill="#8a8a8a" text-anchor="middle" font-weight="normal" stroke="#8a8a8a" stroke-width="0.3" >20</text>
<text x="437.55" y="567.30" font-size="12.70" fill="#8a8a8a" text-anchor="middle" font-weight="normal" stroke="#8a8a8a" stroke-width="0.3" >40</text>
<text x="475.75" y="567.30" font-size="12.70" fill="#8a8a8a" text-anchor="middle" font-weight="normal" stroke="#8a8a8a" stroke-width="0.3" >60</text>
<text x="513.95" y="567.30" font-size="12.70" fill="#8a8a8a" text-anchor="middle" font-weight="normal" stroke="#8a8a8a" stroke-width="0.3" >80</text>
<text x="552.15" y="567.30" font-size="12.70" fill="#8a8a8a" text-anchor="middle" font-weight="normal" stroke="#8a8a8a" stroke-width="0.3" >100</text>
<text x="590.35" y="567.30" font-size="12.70" fill="#8a8a8a" text-anchor="middle" font-weight="normal" stroke="#8a8a8a" stroke-width="0.3" >120</text>
<rect x="964.6" y="51.2" width="345.00" height="178.80" fill="#ffffff"/>
<g filter="url(#bt)">
<path d="M964.60 51.2V230 M973.23 51.2V230 M981.85 51.2V230 M990.48 51.2V230 M999.10 51.2V230 M1007.73 51.2V230 M1016.35 51.2V230 M1024.97 51.2V230 M1033.60 51.2V230 M1042.22 51.2V230 M1050.85 51.2V230 M1059.47 51.2V230 M1068.10 51.2V230 M1076.72 51.2V230 M1085.35 51.2V230 M1093.97 51.2V230 M1102.60 51.2V230 M1111.22 51.2V230 M1119.85 51.2V230 M1128.47 51.2V230 M1137.10 51.2V230 M1145.72 51.2V230 M1154.35 51.2V230 M1162.97 51.2V230 M1171.60 51.2V230 M1180.22 51.2V230 M1188.85 51.2V230 M1197.47 51.2V230 M1206.10 51.2V230 M1214.72 51.2V230 M1223.35 51.2V230 M1231.97 51.2V230 M1240.60 51.2V230 M1249.22 51.2V230 M1257.85 51.2V230 M1266.47 51.2V230 M1275.10 51.2V230 M1283.72 51.2V230 M1292.35 51.2V230 M1300.97 51.2V230 M1309.60 51.2V230" stroke="#cfcfcf" stroke-width="1" fill="none"/>
<path d="M968.91 51.2V230 M977.54 51.2V230 M986.16 51.2V230 M994.79 51.2V230 M1003.41 51.2V230 M1012.04 51.2V230 M1020.66 51.2V230 M1029.29 51.2V230 M1037.91 51.2V230 M1046.54 51.2V230 M1055.16 51.2V230 M1063.79 51.2V230 M1072.41 51.2V230 M1081.04 51.2V230 M1089.66 51.2V230 M1098.29 51.2V230 M1106.91 51.2V230 M1115.54 51.2V230 M1124.16 51.2V230 M1132.79 51.2V230 M1141.41 51.2V230 M1150.04 51.2V230 M1158.66 51.2V230 M1167.29 51.2V230 M1175.91 51.2V230 M1184.54 51.2V230 M1193.16 51.2V230 M1201.79 51.2V230 M1210.41 51.2V230 M1219.04 51.2V230 M1227.66 51.2V230 M1236.29 51.2V230 M1244.91 51.2V230 M1253.54 51.2V230 M1262.16 51.2V230 M1270.79 51.2V230 M1279.41 51.2V230 M1288.04 51.2V230 M1296.66 51.2V230 M1305.29 51.2V230" stroke="#f0f0f0" stroke-width="0.9" fill="none"/>
<path d="M964.6 230.00H1309.6 M964.6 222.47H1309.6 M964.6 214.94H1309.6 M964.6 207.41H1309.6 M964.6 199.87H1309.6 M964.6 192.34H1309.6 M964.6 184.81H1309.6 M964.6 177.28H1309.6 M964.6 169.75H1309.6 M964.6 162.22H1309.6 M964.6 154.68H1309.6 M964.6 147.15H1309.6 M964.6 139.62H1309.6 M964.6 132.09H1309.6 M964.6 124.56H1309.6 M964.6 117.03H1309.6 M964.6 109.49H1309.6 M964.6 101.96H1309.6 M964.6 94.43H1309.6 M964.6 86.90H1309.6 M964.6 79.37H1309.6 M964.6 71.84H1309.6 M964.6 64.30H1309.6 M964.6 56.77H1309.6" stroke="#d2d2d2" stroke-width="1" fill="none"/>
<path d="M964.6 226.23H1309.6 M964.6 218.70H1309.6 M964.6 211.17H1309.6 M964.6 203.64H1309.6 M964.6 196.11H1309.6 M964.6 188.58H1309.6 M964.6 181.04H1309.6 M964.6 173.51H1309.6 M964.6 165.98H1309.6 M964.6 158.45H1309.6 M964.6 150.92H1309.6 M964.6 143.39H1309.6 M964.6 135.86H1309.6 M964.6 128.32H1309.6 M964.6 120.79H1309.6 M964.6 113.26H1309.6 M964.6 105.73H1309.6 M964.6 98.20H1309.6 M964.6 90.67H1309.6 M964.6 83.13H1309.6 M964.6 75.60H1309.6 M964.6 68.07H1309.6 M964.6 60.54H1309.6 M964.6 53.01H1309.6" stroke="#f1f1f1" stroke-width="0.9" fill="none"/>
<rect x="964.6" y="51.2" width="345.00" height="178.80" fill="none" stroke="#707070" stroke-width="1.3"/>
<path d="M1050.85 230v-3.5M1050.85 51.2v3 M1137.10 230v-3.5M1137.10 51.2v3 M1223.35 230v-3.5M1223.35 51.2v3 M964.6 154.68h3.5M1309.6 154.68h-3.5 M964.6 79.37h3.5M1309.6 79.37h-3.5" stroke="#3a3a3a" stroke-width="1" fill="none"/>
</g>
<g filter="url(#bt)">
<polyline points="964.60,230.00 1017.00,230.00 1021.00,226.00 1025.70,221.60 1029.00,222.80 1032.60,224.50 1036.00,218.00 1038.60,210.00 1040.75,205.70 1043.00,209.00 1045.50,215.00 1047.60,218.20 1051.00,216.50 1055.10,215.00 1058.50,216.50 1061.40,218.20 1064.50,217.50 1067.70,216.60 1070.50,214.00 1073.30,212.00 1076.50,213.50 1080.20,215.70 1083.00,213.00 1085.20,210.30 1087.00,211.30 1089.00,212.60 1091.00,212.00 1093.30,211.30 1095.80,206.30 1097.70,188.80 1099.60,160.00 1101.30,120.00 1103.00,95.50 1104.80,115.00 1107.00,160.00 1109.00,188.00 1110.75,198.75 1112.50,175.00 1114.50,130.00 1116.25,107.50 1118.00,122.00 1120.50,155.00 1122.50,176.00 1123.75,181.25 1125.50,172.00 1128.00,145.00 1130.50,128.00 1131.50,126.50 1133.50,126.50 1135.00,134.00 1137.00,146.00 1139.00,156.00 1140.50,162.50 1142.00,140.00 1143.30,117.00 1144.50,107.00 1146.00,113.00 1148.00,128.00 1150.50,152.00 1152.50,171.00 1153.75,175.50 1155.00,160.00 1156.50,128.00 1158.25,111.25 1160.00,114.00 1161.50,122.00 1163.00,148.00 1164.80,180.00 1166.25,191.25 1168.00,186.00 1170.00,160.00 1172.50,128.00 1175.00,111.00 1176.50,125.00 1178.00,160.00 1179.70,200.00 1181.30,215.00 1184.40,217.60 1188.80,215.00 1192.50,217.00 1196.30,219.50 1199.40,218.20 1202.50,221.00 1205.00,223.20 1207.50,221.50 1210.00,219.50 1213.00,219.00 1216.30,215.70 1218.30,211.00 1220.00,208.20 1223.80,210.00 1227.60,215.00 1230.70,221.30 1235.10,220.70 1238.20,223.20 1240.70,229.60 1309.60,230.00" fill="none" stroke="#2c30e6" stroke-width="1.9" stroke-linejoin="round"/>
<polyline points="1025.84,230.00 1029.29,213.58 1100.53,213.58 1101.22,148.44 1102.00,76.36 1103.03,68.82 1106.14,68.82 1107.17,76.36 1107.95,148.44 1108.64,213.58 1114.16,213.58 1114.85,148.44 1115.62,76.36 1116.66,68.82 1119.76,68.82 1120.80,76.36 1121.58,148.44 1122.26,213.58 1127.96,213.58 1128.65,148.44 1129.42,76.36 1130.46,68.82 1133.56,68.82 1134.60,76.36 1135.38,148.44 1136.07,213.58 1141.76,213.58 1142.45,148.44 1143.22,76.36 1144.26,68.82 1147.36,68.82 1148.40,76.36 1149.17,148.44 1149.87,213.58 1155.56,213.58 1156.25,148.44 1157.02,76.36 1158.06,68.82 1161.16,68.82 1162.20,76.36 1162.97,148.44 1163.66,213.58 1169.18,213.58 1169.88,148.44 1170.65,76.36 1171.69,68.82 1174.79,68.82 1175.83,76.36 1176.60,148.44 1177.29,213.58 1238.01,213.58 1241.46,230.00" fill="none" stroke="#ee2a34" stroke-width="1.9" stroke-dasharray="5 2.3" stroke-linejoin="round"/>
<line x1="964.6" x2="1309.6" y1="230" y2="230" stroke="#2a1a6a" stroke-width="1.2" opacity="0.5"/>
<rect x="1213.6" y="54.6" width="93.10" height="49.90" fill="#ffffff" stroke="#4a4a4a" stroke-width="1.1"/>
<line x1="1217.8999999999999" x2="1241.1" y1="67.08" y2="67.08" stroke="#4a4ee8" stroke-width="1.6"/>
<line x1="1219.1" x2="1241.1" y1="91.13" y2="91.13" stroke="#ee4a5a" stroke-width="1.4" stroke-dasharray="4.6 2.2"/>
<text x="1244.80" y="75.91" font-size="14.77" fill="#1a1a1a" text-anchor="start" font-weight="normal" stroke="#1a1a1a" stroke-width="0.3" textLength="36.78" lengthAdjust="spacingAndGlyphs" >recon</text>
<text x="1245.00" y="99.31" font-size="14.77" fill="#1a1a1a" text-anchor="start" font-weight="normal" stroke="#1a1a1a" stroke-width="0.3" textLength="57.46" lengthAdjust="spacingAndGlyphs" >phantom</text>
<text x="962.20" y="250.70" font-size="15.00" fill="#1a1a1a" text-anchor="middle" font-weight="normal" stroke="#1a1a1a" stroke-width="0.3" textLength="28.21" lengthAdjust="spacingAndGlyphs" >-100</text>
<text x="1048.45" y="250.70" font-size="15.00" fill="#1a1a1a" text-anchor="middle" font-weight="normal" stroke="#1a1a1a" stroke-width="0.3" textLength="20.37" lengthAdjust="spacingAndGlyphs" >-50</text>
<text x="1137.30" y="250.70" font-size="15.00" fill="#1a1a1a" text-anchor="middle" font-weight="normal" stroke="#1a1a1a" stroke-width="0.3" textLength="7.84" lengthAdjust="spacingAndGlyphs" >0</text>
<text x="1223.55" y="250.70" font-size="15.00" fill="#1a1a1a" text-anchor="middle" font-weight="normal" stroke="#1a1a1a" stroke-width="0.3" textLength="15.68" lengthAdjust="spacingAndGlyphs" >50</text>
<text x="1309.80" y="250.70" font-size="15.00" fill="#1a1a1a" text-anchor="middle" font-weight="normal" stroke="#1a1a1a" stroke-width="0.3" textLength="23.52" lengthAdjust="spacingAndGlyphs" >100</text>
<text x="962.20" y="236.40" font-size="15.00" fill="#1a1a1a" text-anchor="end" font-weight="normal" stroke="#1a1a1a" stroke-width="0.3" textLength="7.84" lengthAdjust="spacingAndGlyphs" >0</text>
<text x="962.20" y="161.88" font-size="15.00" fill="#1a1a1a" text-anchor="end" font-weight="normal" stroke="#1a1a1a" stroke-width="0.3" textLength="7.84" lengthAdjust="spacingAndGlyphs" >5</text>
<text x="962.20" y="86.57" font-size="15.00" fill="#1a1a1a" text-anchor="end" font-weight="normal" stroke="#1a1a1a" stroke-width="0.3" textLength="15.68" lengthAdjust="spacingAndGlyphs" >10</text>
<text x="965.00" y="47.20" font-size="15.00" fill="#1a1a1a" text-anchor="start" font-weight="normal" stroke="#1a1a1a" stroke-width="0.3" textLength="26.60" lengthAdjust="spacingAndGlyphs" >x 10</text>
<text x="992.40" y="35.90" font-size="9.00" fill="#333333" text-anchor="start" font-weight="normal" stroke="#333333" stroke-width="0.3" >6</text>
<g clip-path="url(#pc1)">
<text x="1136.20" y="268.90" font-size="15.00" fill="#1a1a1a" text-anchor="middle" font-weight="normal" stroke="#1a1a1a" stroke-width="0.3" textLength="90.00" lengthAdjust="spacingAndGlyphs" >position (mm)</text>
</g>
<text x="989.40" y="82.50" font-size="27.00" fill="#1fa9e6" text-anchor="start" font-weight="bold" textLength="28.60" lengthAdjust="spacingAndGlyphs" >#1</text>
</g>
<rect x="1355.8" y="52.9" width="349.60" height="182.70" fill="#ffffff"/>
<g filter="url(#bt)">
<path d="M1355.80 52.9V235.6 M1364.54 52.9V235.6 M1373.28 52.9V235.6 M1382.02 52.9V235.6 M1390.76 52.9V235.6 M1399.50 52.9V235.6 M1408.24 52.9V235.6 M1416.98 52.9V235.6 M1425.72 52.9V235.6 M1434.46 52.9V235.6 M1443.20 52.9V235.6 M1451.94 52.9V235.6 M1460.68 52.9V235.6 M1469.42 52.9V235.6 M1478.16 52.9V235.6 M1486.90 52.9V235.6 M1495.64 52.9V235.6 M1504.38 52.9V235.6 M1513.12 52.9V235.6 M1521.86 52.9V235.6 M1530.60 52.9V235.6 M1539.34 52.9V235.6 M1548.08 52.9V235.6 M1556.82 52.9V235.6 M1565.56 52.9V235.6 M1574.30 52.9V235.6 M1583.04 52.9V235.6 M1591.78 52.9V235.6 M1600.52 52.9V235.6 M1609.26 52.9V235.6 M1618.00 52.9V235.6 M1626.74 52.9V235.6 M1635.48 52.9V235.6 M1644.22 52.9V235.6 M1652.96 52.9V235.6 M1661.70 52.9V235.6 M1670.44 52.9V235.6 M1679.18 52.9V235.6 M1687.92 52.9V235.6 M1696.66 52.9V235.6 M1705.40 52.9V235.6" stroke="#cfcfcf" stroke-width="1" fill="none"/>
<path d="M1360.17 52.9V235.6 M1368.91 52.9V235.6 M1377.65 52.9V235.6 M1386.39 52.9V235.6 M1395.13 52.9V235.6 M1403.87 52.9V235.6 M1412.61 52.9V235.6 M1421.35 52.9V235.6 M1430.09 52.9V235.6 M1438.83 52.9V235.6 M1447.57 52.9V235.6 M1456.31 52.9V235.6 M1465.05 52.9V235.6 M1473.79 52.9V235.6 M1482.53 52.9V235.6 M1491.27 52.9V235.6 M1500.01 52.9V235.6 M1508.75 52.9V235.6 M1517.49 52.9V235.6 M1526.23 52.9V235.6 M1534.97 52.9V235.6 M1543.71 52.9V235.6 M1552.45 52.9V235.6 M1561.19 52.9V235.6 M1569.93 52.9V235.6 M1578.67 52.9V235.6 M1587.41 52.9V235.6 M1596.15 52.9V235.6 M1604.89 52.9V235.6 M1613.63 52.9V235.6 M1622.37 52.9V235.6 M1631.11 52.9V235.6 M1639.85 52.9V235.6 M1648.59 52.9V235.6 M1657.33 52.9V235.6 M1666.07 52.9V235.6 M1674.81 52.9V235.6 M1683.55 52.9V235.6 M1692.29 52.9V235.6 M1701.03 52.9V235.6" stroke="#f0f0f0" stroke-width="0.9" fill="none"/>
<path d="M1355.8 235.60H1705.4 M1355.8 224.85H1705.4 M1355.8 214.11H1705.4 M1355.8 203.36H1705.4 M1355.8 192.61H1705.4 M1355.8 181.86H1705.4 M1355.8 171.12H1705.4 M1355.8 160.37H1705.4 M1355.8 149.62H1705.4 M1355.8 138.88H1705.4 M1355.8 128.13H1705.4 M1355.8 117.38H1705.4 M1355.8 106.64H1705.4 M1355.8 95.89H1705.4 M1355.8 85.14H1705.4 M1355.8 74.39H1705.4 M1355.8 63.65H1705.4 M1355.8 52.90H1705.4" stroke="#d2d2d2" stroke-width="1" fill="none"/>
<path d="M1355.8 230.23H1705.4 M1355.8 219.48H1705.4 M1355.8 208.73H1705.4 M1355.8 197.99H1705.4 M1355.8 187.24H1705.4 M1355.8 176.49H1705.4 M1355.8 165.74H1705.4 M1355.8 155.00H1705.4 M1355.8 144.25H1705.4 M1355.8 133.50H1705.4 M1355.8 122.76H1705.4 M1355.8 112.01H1705.4 M1355.8 101.26H1705.4 M1355.8 90.51H1705.4 M1355.8 79.77H1705.4 M1355.8 69.02H1705.4 M1355.8 58.27H1705.4" stroke="#f1f1f1" stroke-width="0.9" fill="none"/>
<path d="M1355.8 181.86H1705.4 M1355.8 128.13H1705.4 M1355.8 74.39H1705.4" stroke="#5a5a5a" stroke-width="1.5" fill="none"/>
<rect x="1355.8" y="52.9" width="349.60" height="182.70" fill="none" stroke="#707070" stroke-width="1.3"/>
<path d="M1443.20 235.6v-3.5M1443.20 52.9v3 M1530.60 235.6v-3.5M1530.60 52.9v3 M1618.00 235.6v-3.5M1618.00 52.9v3 M1355.8 181.86h3.5M1705.4 181.86h-3.5 M1355.8 128.13h3.5M1705.4 128.13h-3.5 M1355.8 74.39h3.5M1705.4 74.39h-3.5" stroke="#3a3a3a" stroke-width="1" fill="none"/>
</g>
<g filter="url(#bt)">
<polyline points="1356.00,235.00 1414.00,235.00 1424.00,233.50 1431.50,231.00 1436.00,232.50 1441.50,232.00 1446.00,228.00 1450.00,223.00 1452.50,221.25 1454.50,223.00 1456.25,225.50 1459.00,224.50 1461.50,221.50 1463.75,220.50 1466.50,222.00 1469.00,225.50 1471.25,227.00 1474.00,226.00 1477.50,223.75 1479.50,215.00 1481.50,190.00 1483.50,160.00 1485.50,130.00 1487.30,105.00 1488.75,95.50 1490.30,108.00 1492.50,145.00 1495.00,190.00 1497.30,215.00 1498.75,220.00 1500.30,214.00 1502.50,185.00 1504.50,145.00 1506.50,105.00 1508.00,84.00 1509.25,75.00 1510.50,86.00 1512.50,120.00 1514.50,160.00 1517.00,197.00 1519.00,210.00 1520.00,212.50 1521.50,208.00 1523.50,180.00 1525.50,140.00 1527.50,100.00 1529.00,76.00 1530.00,68.75 1531.00,77.00 1533.00,110.00 1535.00,150.00 1537.50,195.00 1539.50,211.00 1540.75,215.00 1542.30,210.00 1544.50,180.00 1546.50,140.00 1548.50,100.00 1550.20,75.00 1551.25,67.00 1552.30,76.00 1554.00,105.00 1556.00,145.00 1558.30,195.00 1560.00,215.00 1561.25,220.00 1562.80,216.00 1565.00,190.00 1567.00,150.00 1569.00,115.00 1570.70,97.00 1572.00,91.25 1573.50,99.00 1575.50,130.00 1577.50,170.00 1580.00,210.00 1582.00,220.00 1583.75,223.75 1586.00,222.00 1588.00,217.00 1590.00,215.00 1592.00,216.00 1593.75,217.50 1598.75,219.25 1601.50,223.00 1603.75,226.25 1607.00,228.00 1611.50,229.50 1616.00,232.50 1620.00,234.30 1626.00,235.00 1704.00,235.00" fill="none" stroke="#2c30e6" stroke-width="1.9" stroke-linejoin="round"/>
<polyline points="1435.86,235.60 1438.31,224.32 1481.31,224.32 1484.80,120.61 1492.14,120.61 1495.64,224.32 1502.28,224.32 1505.78,120.61 1513.12,120.61 1516.62,224.32 1523.26,224.32 1526.75,120.61 1534.10,120.61 1537.59,224.32 1544.23,224.32 1547.73,120.61 1555.07,120.61 1558.57,224.32 1565.21,224.32 1568.71,120.61 1576.05,120.61 1579.54,224.32 1614.15,224.32 1616.60,235.60" fill="none" stroke="#ee2a34" stroke-width="1.9" stroke-dasharray="5 2.3" stroke-linejoin="round"/>
<line x1="1355.8" x2="1705.4" y1="235.6" y2="235.6" stroke="#2a1a6a" stroke-width="1.2" opacity="0.5"/>
<rect x="1608" y="56.5" width="94.60" height="52.00" fill="#ffffff" stroke="#4a4a4a" stroke-width="1.1"/>
<line x1="1612.3" x2="1635.5" y1="69.50" y2="69.50" stroke="#4a4ee8" stroke-width="1.6"/>
<line x1="1613.5" x2="1635.5" y1="94.56" y2="94.56" stroke="#ee4a5a" stroke-width="1.4" stroke-dasharray="4.6 2.2"/>
<text x="1639.20" y="78.70" font-size="15.39" fill="#1a1a1a" text-anchor="start" font-weight="normal" stroke="#1a1a1a" stroke-width="0.3" textLength="38.33" lengthAdjust="spacingAndGlyphs" >recon</text>
<text x="1639.40" y="103.09" font-size="15.39" fill="#1a1a1a" text-anchor="start" font-weight="normal" stroke="#1a1a1a" stroke-width="0.3" textLength="59.87" lengthAdjust="spacingAndGlyphs" >phantom</text>
<text x="1353.40" y="258.20" font-size="15.45" fill="#1a1a1a" text-anchor="middle" font-weight="normal" stroke="#1a1a1a" stroke-width="0.3" textLength="29.06" lengthAdjust="spacingAndGlyphs" >-100</text>
<text x="1440.80" y="258.20" font-size="15.45" fill="#1a1a1a" text-anchor="middle" font-weight="normal" stroke="#1a1a1a" stroke-width="0.3" textLength="20.99" lengthAdjust="spacingAndGlyphs" >-50</text>
<text x="1530.80" y="258.20" font-size="15.45" fill="#1a1a1a" text-anchor="middle" font-weight="normal" stroke="#1a1a1a" stroke-width="0.3" textLength="8.07" lengthAdjust="spacingAndGlyphs" >0</text>
<text x="1618.20" y="258.20" font-size="15.45" fill="#1a1a1a" text-anchor="middle" font-weight="normal" stroke="#1a1a1a" stroke-width="0.3" textLength="16.15" lengthAdjust="spacingAndGlyphs" >50</text>
<text x="1705.60" y="258.20" font-size="15.45" fill="#1a1a1a" text-anchor="middle" font-weight="normal" stroke="#1a1a1a" stroke-width="0.3" textLength="24.22" lengthAdjust="spacingAndGlyphs" >100</text>
<text x="1353.50" y="243.00" font-size="15.45" fill="#1a1a1a" text-anchor="end" font-weight="normal" stroke="#1a1a1a" stroke-width="0.3" textLength="8.07" lengthAdjust="spacingAndGlyphs" >0</text>
<text x="1353.50" y="189.28" font-size="15.45" fill="#1a1a1a" text-anchor="end" font-weight="normal" stroke="#1a1a1a" stroke-width="0.3" textLength="8.07" lengthAdjust="spacingAndGlyphs" >5</text>
<text x="1353.50" y="135.55" font-size="15.45" fill="#1a1a1a" text-anchor="end" font-weight="normal" stroke="#1a1a1a" stroke-width="0.3" textLength="16.15" lengthAdjust="spacingAndGlyphs" >10</text>
<text x="1353.50" y="81.81" font-size="15.45" fill="#1a1a1a" text-anchor="end" font-weight="normal" stroke="#1a1a1a" stroke-width="0.3" textLength="16.15" lengthAdjust="spacingAndGlyphs" >15</text>
<text x="1355.80" y="48.50" font-size="15.45" fill="#1a1a1a" text-anchor="start" font-weight="normal" stroke="#1a1a1a" stroke-width="0.3" textLength="27.40" lengthAdjust="spacingAndGlyphs" >x 10</text>
<text x="1384.02" y="36.86" font-size="9.27" fill="#333333" text-anchor="start" font-weight="normal" stroke="#333333" stroke-width="0.3" >6</text>
<g clip-path="url(#pc2)">
<text x="1529.60" y="276.30" font-size="15.13" fill="#1a1a1a" text-anchor="middle" font-weight="normal" stroke="#1a1a1a" stroke-width="0.3" textLength="90.80" lengthAdjust="spacingAndGlyphs" >position (mm)</text>
</g>
<text x="1385.00" y="85.00" font-size="27.00" fill="#20e296" text-anchor="start" font-weight="bold" textLength="30.00" lengthAdjust="spacingAndGlyphs" >#2</text>
</g>
<rect x="965.8" y="315" width="344.40" height="193.40" fill="#ffffff"/>
<g filter="url(#bt)">
<path d="M965.80 315V508.4 M974.41 315V508.4 M983.02 315V508.4 M991.63 315V508.4 M1000.24 315V508.4 M1008.85 315V508.4 M1017.46 315V508.4 M1026.07 315V508.4 M1034.68 315V508.4 M1043.29 315V508.4 M1051.90 315V508.4 M1060.51 315V508.4 M1069.12 315V508.4 M1077.73 315V508.4 M1086.34 315V508.4 M1094.95 315V508.4 M1103.56 315V508.4 M1112.17 315V508.4 M1120.78 315V508.4 M1129.39 315V508.4 M1138.00 315V508.4 M1146.61 315V508.4 M1155.22 315V508.4 M1163.83 315V508.4 M1172.44 315V508.4 M1181.05 315V508.4 M1189.66 315V508.4 M1198.27 315V508.4 M1206.88 315V508.4 M1215.49 315V508.4 M1224.10 315V508.4 M1232.71 315V508.4 M1241.32 315V508.4 M1249.93 315V508.4 M1258.54 315V508.4 M1267.15 315V508.4 M1275.76 315V508.4 M1284.37 315V508.4 M1292.98 315V508.4 M1301.59 315V508.4 M1310.20 315V508.4" stroke="#cfcfcf" stroke-width="1" fill="none"/>
<path d="M970.10 315V508.4 M978.71 315V508.4 M987.32 315V508.4 M995.93 315V508.4 M1004.54 315V508.4 M1013.15 315V508.4 M1021.76 315V508.4 M1030.38 315V508.4 M1038.98 315V508.4 M1047.60 315V508.4 M1056.20 315V508.4 M1064.82 315V508.4 M1073.42 315V508.4 M1082.04 315V508.4 M1090.64 315V508.4 M1099.26 315V508.4 M1107.87 315V508.4 M1116.47 315V508.4 M1125.09 315V508.4 M1133.69 315V508.4 M1142.31 315V508.4 M1150.91 315V508.4 M1159.53 315V508.4 M1168.13 315V508.4 M1176.74 315V508.4 M1185.36 315V508.4 M1193.96 315V508.4 M1202.58 315V508.4 M1211.18 315V508.4 M1219.80 315V508.4 M1228.40 315V508.4 M1237.02 315V508.4 M1245.62 315V508.4 M1254.24 315V508.4 M1262.85 315V508.4 M1271.45 315V508.4 M1280.07 315V508.4 M1288.67 315V508.4 M1297.29 315V508.4 M1305.89 315V508.4" stroke="#f0f0f0" stroke-width="0.9" fill="none"/>
<path d="M965.8 508.40H1310.2 M965.8 492.28H1310.2 M965.8 476.17H1310.2 M965.8 460.05H1310.2 M965.8 443.93H1310.2 M965.8 427.82H1310.2 M965.8 411.70H1310.2 M965.8 395.58H1310.2 M965.8 379.47H1310.2 M965.8 363.35H1310.2 M965.8 347.23H1310.2 M965.8 331.12H1310.2 M965.8 315.00H1310.2" stroke="#d2d2d2" stroke-width="1" fill="none"/>
<path d="M965.8 500.34H1310.2 M965.8 484.22H1310.2 M965.8 468.11H1310.2 M965.8 451.99H1310.2 M965.8 435.88H1310.2 M965.8 419.76H1310.2 M965.8 403.64H1310.2 M965.8 387.52H1310.2 M965.8 371.41H1310.2 M965.8 355.29H1310.2 M965.8 339.18H1310.2 M965.8 323.06H1310.2" stroke="#f1f1f1" stroke-width="0.9" fill="none"/>
<path d="M965.8 476.17H1310.2 M965.8 443.93H1310.2 M965.8 411.70H1310.2 M965.8 379.47H1310.2 M965.8 347.23H1310.2" stroke="#5a5a5a" stroke-width="1.5" fill="none"/>
<rect x="965.8" y="315" width="344.40" height="193.40" fill="none" stroke="#707070" stroke-width="1.3"/>
<path d="M1051.90 508.4v-3.5M1051.90 315v3 M1138.00 508.4v-3.5M1138.00 315v3 M1224.10 508.4v-3.5M1224.10 315v3 M965.8 476.17h3.5M1310.2 476.17h-3.5 M965.8 443.93h3.5M1310.2 443.93h-3.5 M965.8 411.70h3.5M1310.2 411.70h-3.5 M965.8 379.47h3.5M1310.2 379.47h-3.5 M965.8 347.23h3.5M1310.2 347.23h-3.5" stroke="#3a3a3a" stroke-width="1" fill="none"/>
</g>
<g filter="url(#bt)">
<polyline points="964.60,508.00 975.00,508.20 985.00,507.30 995.00,507.60 1005.00,508.00 1012.00,508.00 1017.00,507.00 1022.50,504.00 1027.00,500.00 1032.50,496.50 1036.00,493.50 1040.00,491.50 1043.50,492.50 1047.00,487.00 1051.00,481.50 1054.00,484.00 1057.50,491.00 1061.50,498.00 1064.50,494.00 1067.50,491.50 1070.50,488.50 1073.75,487.00 1077.50,489.00 1081.00,493.00 1083.75,495.50 1086.50,493.00 1089.00,488.00 1091.25,482.50 1093.70,473.00 1096.25,460.00 1098.20,440.00 1100.00,417.50 1101.60,390.00 1103.00,373.75 1104.50,384.00 1106.20,410.00 1108.00,435.00 1109.60,451.00 1110.75,455.00 1112.00,450.00 1113.60,430.00 1115.50,410.00 1117.00,402.50 1118.50,407.00 1120.50,420.00 1122.80,435.00 1124.80,444.00 1126.25,447.50 1127.70,440.00 1129.30,424.00 1130.75,417.50 1132.00,421.00 1133.30,430.00 1134.50,433.75 1136.00,430.00 1138.00,421.00 1140.50,415.50 1142.50,413.75 1144.00,418.00 1145.50,432.00 1147.00,447.00 1148.25,452.50 1149.60,448.00 1151.50,435.00 1154.00,418.00 1156.30,404.00 1158.25,398.00 1159.70,403.00 1161.50,420.00 1163.30,440.00 1164.60,449.00 1165.50,451.25 1166.80,447.00 1168.60,436.00 1170.60,427.00 1172.50,423.75 1174.00,425.00 1175.50,430.00 1177.20,445.00 1178.80,463.00 1180.00,477.00 1181.25,485.00 1183.00,489.00 1185.00,491.25 1188.50,494.00 1192.50,496.25 1197.50,498.00 1202.00,497.00 1205.00,496.25 1209.00,497.00 1212.50,497.00 1216.25,495.50 1218.30,492.00 1220.00,490.00 1223.00,490.50 1226.25,491.25 1229.00,495.00 1231.00,499.00 1233.00,496.00 1235.00,494.00 1237.50,497.00 1239.50,502.00 1241.00,506.50 1245.00,507.80 1255.00,508.00 1265.00,507.40 1275.00,508.00 1285.00,507.60 1295.00,508.00 1309.60,508.00" fill="none" stroke="#2c30e6" stroke-width="1.9" stroke-linejoin="round"/>
<polyline points="1026.93,508.40 1030.38,490.03 1101.49,490.03 1102.18,420.69 1102.96,344.01 1103.99,335.95 1107.09,335.95 1108.12,344.01 1108.90,420.69 1109.59,490.03 1115.10,490.03 1115.79,420.69 1116.56,344.01 1117.59,335.95 1120.69,335.95 1121.73,344.01 1122.50,420.69 1123.19,490.03 1128.87,490.03 1129.56,420.69 1130.34,344.01 1131.37,335.95 1134.47,335.95 1135.50,344.01 1136.28,420.69 1136.97,490.03 1142.65,490.03 1143.34,420.69 1144.11,344.01 1145.15,335.95 1148.25,335.95 1149.28,344.01 1150.05,420.69 1150.74,490.03 1156.43,490.03 1157.11,420.69 1157.89,344.01 1158.92,335.95 1162.02,335.95 1163.06,344.01 1163.83,420.69 1164.52,490.03 1170.03,490.03 1170.72,420.69 1171.49,344.01 1172.53,335.95 1175.63,335.95 1176.66,344.01 1177.43,420.69 1178.12,490.03 1238.74,490.03 1242.18,508.40" fill="none" stroke="#ee2a34" stroke-width="1.9" stroke-dasharray="5 2.3" stroke-linejoin="round"/>
<line x1="965.8" x2="1310.2" y1="508.4" y2="508.4" stroke="#2a1a6a" stroke-width="1.2" opacity="0.5"/>
<rect x="1217.2" y="318.9" width="89.90" height="46.30" fill="#ffffff" stroke="#4a4a4a" stroke-width="1.1"/>
<line x1="1221.5" x2="1244.7" y1="330.47" y2="330.47" stroke="#4a4ee8" stroke-width="1.6"/>
<line x1="1222.7" x2="1244.7" y1="352.79" y2="352.79" stroke="#ee4a5a" stroke-width="1.4" stroke-dasharray="4.6 2.2"/>
<text x="1248.40" y="338.67" font-size="13.70" fill="#1a1a1a" text-anchor="start" font-weight="normal" stroke="#1a1a1a" stroke-width="0.3" textLength="34.12" lengthAdjust="spacingAndGlyphs" >recon</text>
<text x="1248.60" y="360.38" font-size="13.70" fill="#1a1a1a" text-anchor="start" font-weight="normal" stroke="#1a1a1a" stroke-width="0.3" textLength="53.31" lengthAdjust="spacingAndGlyphs" >phantom</text>
<text x="963.40" y="527.70" font-size="14.25" fill="#1a1a1a" text-anchor="middle" font-weight="normal" stroke="#1a1a1a" stroke-width="0.3" textLength="26.80" lengthAdjust="spacingAndGlyphs" >-100</text>
<text x="1049.50" y="527.70" font-size="14.25" fill="#1a1a1a" text-anchor="middle" font-weight="normal" stroke="#1a1a1a" stroke-width="0.3" textLength="19.36" lengthAdjust="spacingAndGlyphs" >-50</text>
<text x="1138.20" y="527.70" font-size="14.25" fill="#1a1a1a" text-anchor="middle" font-weight="normal" stroke="#1a1a1a" stroke-width="0.3" textLength="7.45" lengthAdjust="spacingAndGlyphs" >0</text>
<text x="1224.30" y="527.70" font-size="14.25" fill="#1a1a1a" text-anchor="middle" font-weight="normal" stroke="#1a1a1a" stroke-width="0.3" textLength="14.90" lengthAdjust="spacingAndGlyphs" >50</text>
<text x="1310.40" y="527.70" font-size="14.25" fill="#1a1a1a" text-anchor="middle" font-weight="normal" stroke="#1a1a1a" stroke-width="0.3" textLength="22.34" lengthAdjust="spacingAndGlyphs" >100</text>
<text x="962.20" y="514.80" font-size="14.25" fill="#1a1a1a" text-anchor="end" font-weight="normal" stroke="#1a1a1a" stroke-width="0.3" textLength="7.45" lengthAdjust="spacingAndGlyphs" >0</text>
<text x="962.20" y="483.01" font-size="14.25" fill="#1a1a1a" text-anchor="end" font-weight="normal" stroke="#1a1a1a" stroke-width="0.3" textLength="7.45" lengthAdjust="spacingAndGlyphs" >2</text>
<text x="962.20" y="450.77" font-size="14.25" fill="#1a1a1a" text-anchor="end" font-weight="normal" stroke="#1a1a1a" stroke-width="0.3" textLength="7.45" lengthAdjust="spacingAndGlyphs" >4</text>
<text x="962.20" y="418.54" font-size="14.25" fill="#1a1a1a" text-anchor="end" font-weight="normal" stroke="#1a1a1a" stroke-width="0.3" textLength="7.45" lengthAdjust="spacingAndGlyphs" >6</text>
<text x="962.20" y="386.31" font-size="14.25" fill="#1a1a1a" text-anchor="end" font-weight="normal" stroke="#1a1a1a" stroke-width="0.3" textLength="7.45" lengthAdjust="spacingAndGlyphs" >8</text>
<text x="962.20" y="354.07" font-size="14.25" fill="#1a1a1a" text-anchor="end" font-weight="normal" stroke="#1a1a1a" stroke-width="0.3" textLength="14.90" lengthAdjust="spacingAndGlyphs" >10</text>
<text x="962.20" y="321.84" font-size="14.25" fill="#1a1a1a" text-anchor="end" font-weight="normal" stroke="#1a1a1a" stroke-width="0.3" textLength="14.90" lengthAdjust="spacingAndGlyphs" >12</text>
<text x="965.00" y="313.00" font-size="14.25" fill="#1a1a1a" text-anchor="start" font-weight="normal" stroke="#1a1a1a" stroke-width="0.3" textLength="25.27" lengthAdjust="spacingAndGlyphs" >x 10</text>
<text x="991.03" y="302.26" font-size="8.55" fill="#333333" text-anchor="start" font-weight="normal" stroke="#333333" stroke-width="0.3" >6</text>
<g clip-path="url(#pc3)">
<text x="1137.10" y="544.10" font-size="14.60" fill="#1a1a1a" text-anchor="middle" font-weight="normal" stroke="#1a1a1a" stroke-width="0.3" textLength="87.60" lengthAdjust="spacingAndGlyphs" >position (mm)</text>
</g>
<text x="992.50" y="367.00" font-size="27.00" fill="#1fa9e6" text-anchor="start" font-weight="bold" textLength="28.60" lengthAdjust="spacingAndGlyphs" >#1</text>
</g>
<rect x="1355.8" y="323.6" width="349.60" height="191.90" fill="#ffffff"/>
<g filter="url(#bt)">
<path d="M1355.80 323.6V515.5 M1364.54 323.6V515.5 M1373.28 323.6V515.5 M1382.02 323.6V515.5 M1390.76 323.6V515.5 M1399.50 323.6V515.5 M1408.24 323.6V515.5 M1416.98 323.6V515.5 M1425.72 323.6V515.5 M1434.46 323.6V515.5 M1443.20 323.6V515.5 M1451.94 323.6V515.5 M1460.68 323.6V515.5 M1469.42 323.6V515.5 M1478.16 323.6V515.5 M1486.90 323.6V515.5 M1495.64 323.6V515.5 M1504.38 323.6V515.5 M1513.12 323.6V515.5 M1521.86 323.6V515.5 M1530.60 323.6V515.5 M1539.34 323.6V515.5 M1548.08 323.6V515.5 M1556.82 323.6V515.5 M1565.56 323.6V515.5 M1574.30 323.6V515.5 M1583.04 323.6V515.5 M1591.78 323.6V515.5 M1600.52 323.6V515.5 M1609.26 323.6V515.5 M1618.00 323.6V515.5 M1626.74 323.6V515.5 M1635.48 323.6V515.5 M1644.22 323.6V515.5 M1652.96 323.6V515.5 M1661.70 323.6V515.5 M1670.44 323.6V515.5 M1679.18 323.6V515.5 M1687.92 323.6V515.5 M1696.66 323.6V515.5 M1705.40 323.6V515.5" stroke="#cfcfcf" stroke-width="1" fill="none"/>
<path d="M1360.17 323.6V515.5 M1368.91 323.6V515.5 M1377.65 323.6V515.5 M1386.39 323.6V515.5 M1395.13 323.6V515.5 M1403.87 323.6V515.5 M1412.61 323.6V515.5 M1421.35 323.6V515.5 M1430.09 323.6V515.5 M1438.83 323.6V515.5 M1447.57 323.6V515.5 M1456.31 323.6V515.5 M1465.05 323.6V515.5 M1473.79 323.6V515.5 M1482.53 323.6V515.5 M1491.27 323.6V515.5 M1500.01 323.6V515.5 M1508.75 323.6V515.5 M1517.49 323.6V515.5 M1526.23 323.6V515.5 M1534.97 323.6V515.5 M1543.71 323.6V515.5 M1552.45 323.6V515.5 M1561.19 323.6V515.5 M1569.93 323.6V515.5 M1578.67 323.6V515.5 M1587.41 323.6V515.5 M1596.15 323.6V515.5 M1604.89 323.6V515.5 M1613.63 323.6V515.5 M1622.37 323.6V515.5 M1631.11 323.6V515.5 M1639.85 323.6V515.5 M1648.59 323.6V515.5 M1657.33 323.6V515.5 M1666.07 323.6V515.5 M1674.81 323.6V515.5 M1683.55 323.6V515.5 M1692.29 323.6V515.5 M1701.03 323.6V515.5" stroke="#f0f0f0" stroke-width="0.9" fill="none"/>
<path d="M1355.8 515.50H1705.4 M1355.8 504.21H1705.4 M1355.8 492.92H1705.4 M1355.8 481.64H1705.4 M1355.8 470.35H1705.4 M1355.8 459.06H1705.4 M1355.8 447.77H1705.4 M1355.8 436.48H1705.4 M1355.8 425.19H1705.4 M1355.8 413.91H1705.4 M1355.8 402.62H1705.4 M1355.8 391.33H1705.4 M1355.8 380.04H1705.4 M1355.8 368.75H1705.4 M1355.8 357.46H1705.4 M1355.8 346.18H1705.4 M1355.8 334.89H1705.4 M1355.8 323.60H1705.4" stroke="#d2d2d2" stroke-width="1" fill="none"/>
<path d="M1355.8 509.86H1705.4 M1355.8 498.57H1705.4 M1355.8 487.28H1705.4 M1355.8 475.99H1705.4 M1355.8 464.70H1705.4 M1355.8 453.41H1705.4 M1355.8 442.13H1705.4 M1355.8 430.84H1705.4 M1355.8 419.55H1705.4 M1355.8 408.26H1705.4 M1355.8 396.97H1705.4 M1355.8 385.69H1705.4 M1355.8 374.40H1705.4 M1355.8 363.11H1705.4 M1355.8 351.82H1705.4 M1355.8 340.53H1705.4 M1355.8 329.24H1705.4" stroke="#f1f1f1" stroke-width="0.9" fill="none"/>
<path d="M1355.8 459.06H1705.4 M1355.8 402.62H1705.4 M1355.8 346.18H1705.4" stroke="#5a5a5a" stroke-width="1.5" fill="none"/>
<rect x="1355.8" y="323.6" width="349.60" height="191.90" fill="none" stroke="#707070" stroke-width="1.3"/>
<path d="M1443.20 515.5v-3.5M1443.20 323.6v3 M1530.60 515.5v-3.5M1530.60 323.6v3 M1618.00 515.5v-3.5M1618.00 323.6v3 M1355.8 459.06h3.5M1705.4 459.06h-3.5 M1355.8 402.62h3.5M1705.4 402.62h-3.5 M1355.8 346.18h3.5M1705.4 346.18h-3.5" stroke="#3a3a3a" stroke-width="1" fill="none"/>
</g>
<g filter="url(#bt)">
<polyline points="1356.00,515.00 1400.00,515.00 1406.00,514.30 1411.50,513.00 1418.00,512.50 1426.50,511.50 1432.00,513.00 1436.50,512.50 1440.00,513.00 1443.00,509.00 1446.50,505.00 1450.00,503.00 1455.00,503.70 1460.00,502.50 1465.00,505.00 1469.00,504.50 1472.50,503.75 1475.30,500.00 1477.50,495.00 1479.50,482.00 1481.25,465.00 1483.50,447.00 1485.50,437.00 1487.00,433.75 1488.60,436.00 1490.00,442.50 1492.00,458.00 1494.00,474.00 1496.00,486.00 1498.00,491.25 1499.60,486.00 1501.00,470.00 1502.50,450.00 1504.30,425.00 1506.00,403.00 1507.30,392.00 1508.00,389.50 1509.00,392.00 1510.50,405.00 1512.50,440.00 1514.30,460.00 1516.25,471.25 1518.00,469.50 1520.00,467.50 1521.50,460.00 1523.50,435.00 1525.30,405.00 1527.00,383.00 1528.75,371.25 1530.00,376.00 1531.50,392.00 1533.75,440.00 1535.50,462.00 1537.50,478.00 1539.50,485.00 1541.00,481.00 1543.00,465.00 1544.70,440.00 1546.30,415.00 1548.00,393.00 1550.00,380.50 1551.30,384.00 1553.00,402.00 1555.00,440.00 1557.50,477.50 1559.30,490.00 1560.75,494.50 1562.20,490.00 1563.75,477.50 1565.50,450.00 1567.50,415.00 1569.00,375.00 1570.50,345.00 1571.75,332.00 1573.00,342.00 1574.50,370.00 1576.25,440.00 1578.75,490.00 1581.25,504.50 1585.00,503.75 1587.50,498.00 1590.00,493.50 1592.00,492.00 1594.50,493.50 1596.25,496.25 1598.30,500.50 1600.00,503.75 1605.00,503.00 1609.75,505.50 1613.00,507.00 1616.50,510.00 1620.00,512.00 1624.00,513.00 1632.00,513.80 1641.50,511.80 1647.00,513.50 1652.00,514.80 1660.00,515.00 1704.00,515.00" fill="none" stroke="#2c30e6" stroke-width="1.9" stroke-linejoin="round"/>
<polyline points="1435.86,515.50 1438.31,503.65 1481.31,503.65 1484.80,394.72 1492.14,394.72 1495.64,503.65 1502.28,503.65 1505.78,394.72 1513.12,394.72 1516.62,503.65 1523.26,503.65 1526.75,394.72 1534.10,394.72 1537.59,503.65 1544.23,503.65 1547.73,394.72 1555.07,394.72 1558.57,503.65 1565.21,503.65 1568.71,394.72 1576.05,394.72 1579.54,503.65 1614.15,503.65 1616.60,515.50" fill="none" stroke="#ee2a34" stroke-width="1.9" stroke-dasharray="5 2.3" stroke-linejoin="round"/>
<line x1="1355.8" x2="1705.4" y1="515.5" y2="515.5" stroke="#2a1a6a" stroke-width="1.2" opacity="0.5"/>
<rect x="1609.8" y="327.2" width="93.10" height="46.60" fill="#ffffff" stroke="#4a4a4a" stroke-width="1.1"/>
<line x1="1614.1" x2="1637.3" y1="338.85" y2="338.85" stroke="#4a4ee8" stroke-width="1.6"/>
<line x1="1615.3" x2="1637.3" y1="361.31" y2="361.31" stroke="#ee4a5a" stroke-width="1.4" stroke-dasharray="4.6 2.2"/>
<text x="1641.00" y="347.10" font-size="13.79" fill="#1a1a1a" text-anchor="start" font-weight="normal" stroke="#1a1a1a" stroke-width="0.3" textLength="34.35" lengthAdjust="spacingAndGlyphs" >recon</text>
<text x="1641.20" y="368.95" font-size="13.79" fill="#1a1a1a" text-anchor="start" font-weight="normal" stroke="#1a1a1a" stroke-width="0.3" textLength="53.66" lengthAdjust="spacingAndGlyphs" >phantom</text>
<text x="1353.40" y="535.50" font-size="15.00" fill="#1a1a1a" text-anchor="middle" font-weight="normal" stroke="#1a1a1a" stroke-width="0.3" textLength="28.21" lengthAdjust="spacingAndGlyphs" >-100</text>
<text x="1440.80" y="535.50" font-size="15.00" fill="#1a1a1a" text-anchor="middle" font-weight="normal" stroke="#1a1a1a" stroke-width="0.3" textLength="20.37" lengthAdjust="spacingAndGlyphs" >-50</text>
<text x="1530.80" y="535.50" font-size="15.00" fill="#1a1a1a" text-anchor="middle" font-weight="normal" stroke="#1a1a1a" stroke-width="0.3" textLength="7.84" lengthAdjust="spacingAndGlyphs" >0</text>
<text x="1618.20" y="535.50" font-size="15.00" fill="#1a1a1a" text-anchor="middle" font-weight="normal" stroke="#1a1a1a" stroke-width="0.3" textLength="15.68" lengthAdjust="spacingAndGlyphs" >50</text>
<text x="1705.60" y="535.50" font-size="15.00" fill="#1a1a1a" text-anchor="middle" font-weight="normal" stroke="#1a1a1a" stroke-width="0.3" textLength="23.52" lengthAdjust="spacingAndGlyphs" >100</text>
<text x="1353.50" y="521.90" font-size="15.00" fill="#1a1a1a" text-anchor="end" font-weight="normal" stroke="#1a1a1a" stroke-width="0.3" textLength="7.84" lengthAdjust="spacingAndGlyphs" >0</text>
<text x="1353.50" y="466.26" font-size="15.00" fill="#1a1a1a" text-anchor="end" font-weight="normal" stroke="#1a1a1a" stroke-width="0.3" textLength="7.84" lengthAdjust="spacingAndGlyphs" >5</text>
<text x="1353.50" y="409.82" font-size="15.00" fill="#1a1a1a" text-anchor="end" font-weight="normal" stroke="#1a1a1a" stroke-width="0.3" textLength="15.68" lengthAdjust="spacingAndGlyphs" >10</text>
<text x="1353.50" y="353.38" font-size="15.00" fill="#1a1a1a" text-anchor="end" font-weight="normal" stroke="#1a1a1a" stroke-width="0.3" textLength="15.68" lengthAdjust="spacingAndGlyphs" >15</text>
<text x="1354.50" y="319.50" font-size="15.00" fill="#1a1a1a" text-anchor="start" font-weight="normal" stroke="#1a1a1a" stroke-width="0.3" textLength="26.60" lengthAdjust="spacingAndGlyphs" >x 10</text>
<text x="1381.90" y="308.20" font-size="9.00" fill="#333333" text-anchor="start" font-weight="normal" stroke="#333333" stroke-width="0.3" >6</text>
<g clip-path="url(#pc4)">
<text x="1528.60" y="551.30" font-size="14.80" fill="#1a1a1a" text-anchor="middle" font-weight="normal" stroke="#1a1a1a" stroke-width="0.3" textLength="88.80" lengthAdjust="spacingAndGlyphs" >position (mm)</text>
</g>
<text x="1387.50" y="370.00" font-size="27.00" fill="#20e296" text-anchor="start" font-weight="bold" textLength="30.00" lengthAdjust="spacingAndGlyphs" >#2</text>
</g>
</svg>
</body></html>
